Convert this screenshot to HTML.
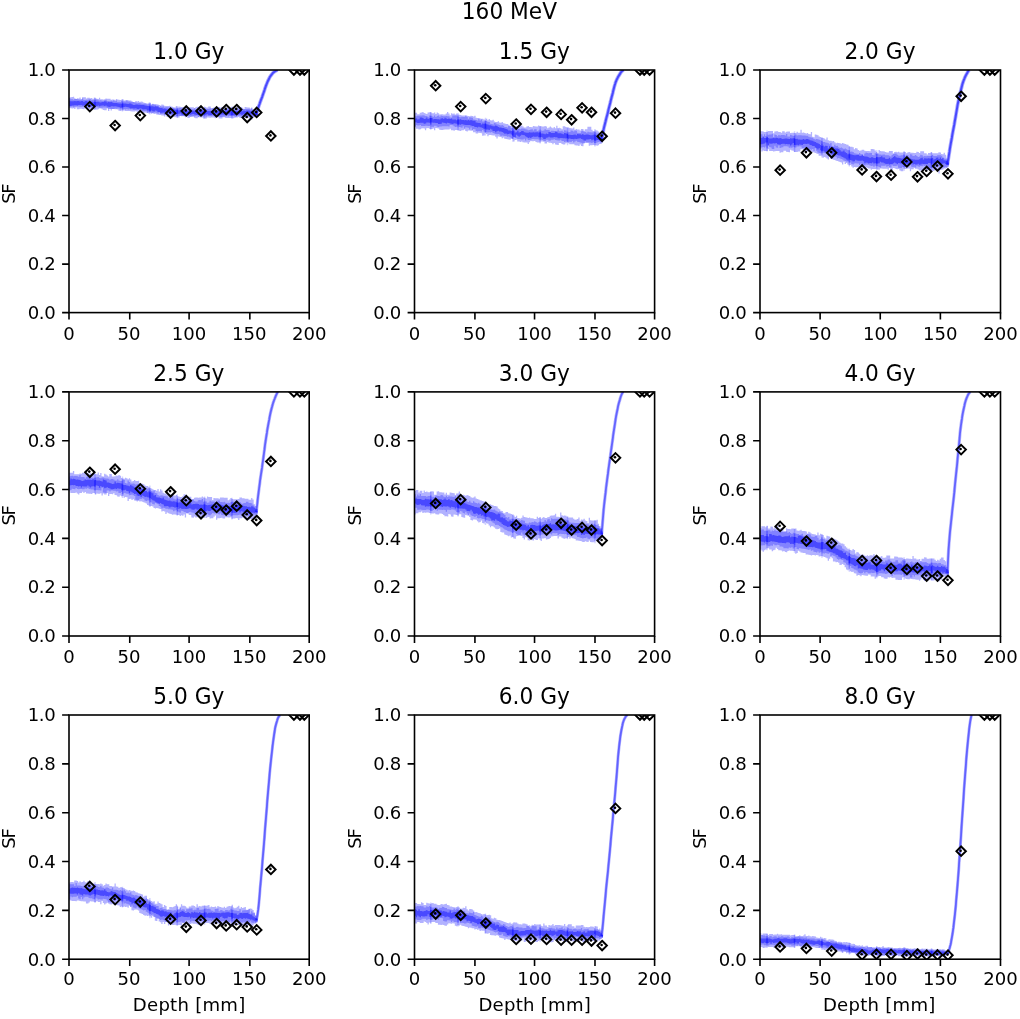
<!DOCTYPE html>
<html><head><meta charset="utf-8"><title>160 MeV</title>
<style>html,body{margin:0;padding:0;background:#fff}svg{display:block}</style>
</head><body>
<svg width="1020" height="1019" viewBox="0 0 1020 1019">
<rect width="1020" height="1019" fill="#fff"/>
<defs>
<clipPath id="c0"><rect x="69.0" y="70.0" width="240.20" height="242.60"/></clipPath>
<clipPath id="c1"><rect x="414.5" y="70.0" width="240.10" height="242.60"/></clipPath>
<clipPath id="c2"><rect x="760.0" y="70.0" width="240.50" height="242.60"/></clipPath>
<clipPath id="c3"><rect x="69.0" y="391.9" width="240.20" height="244.10"/></clipPath>
<clipPath id="c4"><rect x="414.5" y="391.9" width="240.10" height="244.10"/></clipPath>
<clipPath id="c5"><rect x="760.0" y="391.9" width="240.50" height="244.10"/></clipPath>
<clipPath id="c6"><rect x="69.0" y="715.0" width="240.20" height="244.20"/></clipPath>
<clipPath id="c7"><rect x="414.5" y="715.0" width="240.10" height="244.20"/></clipPath>
<clipPath id="c8"><rect x="760.0" y="715.0" width="240.50" height="244.20"/></clipPath>
</defs>
<g font-family="'DejaVu Sans','Liberation Sans',sans-serif" fill="#000">
<text transform="translate(509.4,19.1) scale(1,1.06)" font-size="21.7" text-anchor="middle">160 MeV</text>
<g clip-path="url(#c0)">
<path d="M69.0,97.4H70.3V97.2H71.6V96.9H72.9V96.7H74.2V98.2H75.5V98.9H76.8V98.3H78.1V98.5H79.4V97.4H80.7V99.1H82.0V97.2H83.3V97.2H84.6V97.3H85.9V98.5H87.2V97.8H88.5V97.8H89.8V98.3H91.1V97.9H92.4V99.0H93.7V97.7H95.0V98.3H96.3V98.8H97.6V98.9H98.9V97.7H100.2V99.2H101.5V99.3H102.8V99.4H104.1V99.2H105.4V98.6H106.7V98.7H108.0V98.7H109.3V98.8H110.6V99.7H111.9V99.5H113.2V99.6H114.5V100.2H115.8V98.9H117.1V99.6H118.4V99.7H119.7V100.1H121.0V99.8H122.3V99.5H123.6V100.6H124.9V100.2H126.2V100.1H127.5V100.2H128.8V100.5H130.1V100.6H131.4V101.2H132.7V102.0H134.0V102.1H135.3V101.1H136.6V101.4H137.9V101.1H139.2V102.1H140.5V101.5H141.8V101.7H143.1V102.4H144.4V103.0H145.7V103.2H147.0V103.4H148.3V102.7H149.6V103.1H150.9V104.2H152.2V104.1H153.5V104.7H154.8V104.1H156.1V104.3H157.4V104.5H158.7V105.0H160.0V105.5H161.3V104.6H162.6V104.7H163.9V105.8H165.3V106.1H166.6V106.0H167.9V106.1H169.2V105.8H170.5V106.4H171.8V106.7H173.1V107.3H174.4V107.4H175.7V106.3H177.0V107.4H178.3V106.6H179.6V106.8H180.9V106.9H182.2V107.0H183.5V107.0H184.8V107.8H186.1V106.1H187.4V107.2H188.7V107.3H190.0V107.3H191.3V107.3H192.6V107.3H193.9V107.9H195.2V107.3H196.5V106.8H197.8V106.8H199.1V107.9H200.4V108.4H201.7V108.4H203.0V108.4H204.3V107.0H205.6V107.6H206.9V107.6H208.2V106.5H209.5V106.5H210.8V107.9H212.1V107.9H213.4V107.4H214.7V107.4H216.0V106.7H217.3V107.1H218.6V107.1H219.9V107.7H221.2V107.0H222.5V107.1H223.8V109.2H225.1V107.2H226.4V108.0H227.7V107.2H229.0V107.1H230.3V107.7H231.6V106.8H232.9V108.4H234.2V107.7H235.5V107.9H236.8V107.1H238.1V108.0H239.4V108.0H240.7V107.1H242.0V107.8H243.3V108.9H244.6V107.1H245.9V107.2H247.2V107.6H248.5V107.6H249.8V108.4H251.1V107.6H252.4V109.7H253.7V108.9H255.0V111.3H256.3V113.1H257.6V116.1V116.1H256.3V116.7H255.0V117.3H253.7V117.7H252.4V119.5H251.1V118.9H249.8V118.2H248.5V117.4H247.2V117.4H245.9V117.6H244.6V117.4H243.3V117.9H242.0V117.9H240.7V118.1H239.4V117.1H238.1V117.5H236.8V117.5H235.5V117.7H234.2V118.3H232.9V118.2H231.6V118.1H230.3V118.1H229.0V117.9H227.7V117.9H226.4V117.9H225.1V117.3H223.8V117.3H222.5V118.4H221.2V118.4H219.9V118.4H218.6V116.9H217.3V116.7H216.0V118.3H214.7V117.5H213.4V117.4H212.1V117.4H210.8V117.7H209.5V117.4H208.2V117.4H206.9V118.5H205.6V118.5H204.3V118.5H203.0V117.5H201.7V117.5H200.4V117.3H199.1V117.3H197.8V118.3H196.5V118.3H195.2V117.8H193.9V116.8H192.6V116.9H191.3V116.9H190.0V117.8H188.7V118.0H187.4V116.6H186.1V117.2H184.8V116.2H183.5V116.1H182.2V116.1H180.9V116.0H179.6V117.6H178.3V117.5H177.0V117.3H175.7V117.2H174.4V116.7H173.1V116.6H171.8V116.2H170.5V116.4H169.2V116.2H167.9V116.9H166.6V114.9H165.3V116.5H163.9V115.6H162.6V115.4H161.3V115.0H160.0V115.1H158.7V114.8H157.4V114.6H156.1V113.7H154.8V113.9H153.5V113.3H152.2V113.8H150.9V112.5H149.6V113.5H148.3V112.9H147.0V112.7H145.7V112.5H144.4V113.2H143.1V112.4H141.8V112.7H140.5V111.9H139.2V111.9H137.9V112.2H136.6V111.0H135.3V111.4H134.0V111.5H132.7V111.4H131.4V111.2H130.1V111.1H128.8V111.0H127.5V111.1H126.2V111.0H124.9V110.5H123.6V110.4H122.3V110.4H121.0V110.9H119.7V110.8H118.4V109.4H117.1V109.3H115.8V109.2H114.5V109.0H113.2V108.9H111.9V110.4H110.6V108.7H109.3V110.9H108.0V108.4H106.7V110.2H105.4V110.2H104.1V110.1H102.8V109.2H101.5V108.5H100.2V108.4H98.9V109.3H97.6V109.8H96.3V109.3H95.0V109.4H93.7V109.3H92.4V108.9H91.1V109.4H89.8V109.0H88.5V108.2H87.2V108.1H85.9V108.3H84.6V109.3H83.3V108.9H82.0V108.8H80.7V108.8H79.4V109.2H78.1V109.2H76.8V107.5H75.5V109.0H74.2V108.3H72.9V108.4H71.6V108.2H70.3V108.1H69.0Z" fill="#0000ff" fill-opacity="0.3"/>
<path d="M94.3,97.6h1.5V110.1h-1.5ZM121.7,99.1h1.5V111.6h-1.5ZM149.1,102.2h1.5V114.6h-1.5ZM176.5,105.9h1.5V118.1h-1.5ZM203.8,106.4h1.5V118.5h-1.5ZM231.2,106.8h1.5V118.8h-1.5Z" fill="#0000ff" fill-opacity="0.18"/>
<path d="M69.0,98.3H70.3V99.3H71.6V99.3H72.9V99.7H74.2V99.1H75.5V99.1H76.8V99.2H78.1V99.5H79.4V99.8H80.7V99.8H82.0V98.6H83.3V100.0H84.6V100.0H85.9V99.8H87.2V99.8H88.5V99.2H89.8V99.2H91.1V100.2H92.4V100.0H93.7V99.6H95.0V99.5H96.3V99.5H97.6V100.2H98.9V100.5H100.2V100.2H101.5V100.7H102.8V100.8H104.1V100.3H105.4V99.8H106.7V101.0H108.0V100.9H109.3V101.3H110.6V100.8H111.9V101.2H113.2V100.3H114.5V101.3H115.8V100.5H117.1V101.9H118.4V101.8H119.7V102.0H121.0V101.3H122.3V101.6H123.6V101.6H124.9V101.5H126.2V100.6H127.5V101.4H128.8V101.5H130.1V101.8H131.4V101.9H132.7V102.1H134.0V102.4H135.3V102.6H136.6V103.3H137.9V103.0H139.2V103.1H140.5V103.5H141.8V103.7H143.1V103.7H144.4V103.6H145.7V104.3H147.0V104.6H148.3V104.1H149.6V104.5H150.9V105.0H152.2V103.8H153.5V104.0H154.8V105.1H156.1V105.7H157.4V105.6H158.7V107.0H160.0V106.3H161.3V106.7H162.6V106.2H163.9V107.4H165.3V107.2H166.6V107.3H167.9V107.4H169.2V107.6H170.5V107.7H171.8V107.9H173.1V108.0H174.4V108.4H175.7V108.5H177.0V108.7H178.3V107.9H179.6V108.1H180.9V108.2H182.2V109.2H183.5V109.2H184.8V109.3H186.1V108.6H187.4V108.8H188.7V108.6H190.0V108.6H191.3V109.3H192.6V109.3H193.9V108.2H195.2V109.3H196.5V109.3H197.8V108.9H199.1V108.8H200.4V108.8H201.7V108.9H203.0V108.4H204.3V108.4H205.6V109.0H206.9V108.9H208.2V108.9H209.5V108.2H210.8V109.6H212.1V108.4H213.4V108.3H214.7V108.2H216.0V108.5H217.3V108.5H218.6V108.5H219.9V109.5H221.2V109.5H222.5V108.7H223.8V109.0H225.1V109.2H226.4V108.6H227.7V108.7H229.0V108.6H230.3V108.7H231.6V109.8H232.9V109.2H234.2V109.0H235.5V109.1H236.8V108.5H238.1V109.3H239.4V109.1H240.7V109.0H242.0V109.0H243.3V109.0H244.6V109.0H245.9V109.0H247.2V109.1H248.5V108.7H249.8V109.5H251.1V108.3H252.4V109.2H253.7V111.1H255.0V111.9H256.3V113.5H257.6V115.5V115.5H256.3V115.9H255.0V116.2H253.7V116.7H252.4V116.9H251.1V116.9H249.8V116.8H248.5V116.1H247.2V116.1H245.9V116.8H244.6V116.7H243.3V116.6H242.0V116.6H240.7V115.7H239.4V115.7H238.1V115.7H236.8V117.0H235.5V116.4H234.2V116.1H232.9V116.1H231.6V116.0H230.3V115.9H229.0V116.6H227.7V115.8H226.4V116.5H225.1V116.5H223.8V116.4H222.5V116.9H221.2V116.9H219.9V116.4H218.6V116.4H217.3V115.9H216.0V116.9H214.7V116.1H213.4V115.7H212.1V116.2H210.8V115.4H209.5V115.4H208.2V115.8H206.9V116.8H205.6V115.6H204.3V116.4H203.0V116.0H201.7V115.3H200.4V115.3H199.1V116.9H197.8V115.6H196.5V116.1H195.2V116.5H193.9V116.0H192.6V116.0H191.3V116.6H190.0V116.3H188.7V116.0H187.4V116.0H186.1V116.1H184.8V116.1H183.5V116.3H182.2V116.2H180.9V116.1H179.6V116.0H178.3V116.2H177.0V116.1H175.7V114.9H174.4V114.8H173.1V115.3H171.8V114.8H170.5V115.2H169.2V115.0H167.9V114.6H166.6V114.2H165.3V114.9H163.9V113.8H162.6V113.9H161.3V114.0H160.0V112.3H158.7V113.7H157.4V112.8H156.1V112.6H154.8V112.4H153.5V112.9H152.2V112.7H150.9V112.4H149.6V112.1H148.3V112.7H147.0V111.2H145.7V110.9H144.4V111.2H143.1V111.0H141.8V110.3H140.5V110.8H139.2V110.1H137.9V110.0H136.6V109.9H135.3V110.1H134.0V110.0H132.7V109.2H131.4V109.5H130.1V109.2H128.8V109.6H127.5V109.0H126.2V109.4H124.9V108.9H123.6V109.5H122.3V108.4H121.0V109.6H119.7V108.6H118.4V108.4H117.1V108.7H115.8V108.5H114.5V109.1H113.2V109.0H111.9V108.9H110.6V108.9H109.3V108.8H108.0V108.0H106.7V107.5H105.4V107.4H104.1V107.4H102.8V107.8H101.5V107.8H100.2V107.7H98.9V107.6H97.6V106.2H96.3V106.1H95.0V106.1H93.7V107.3H92.4V107.8H91.1V107.2H89.8V107.8H88.5V106.6H87.2V108.0H85.9V106.3H84.6V106.4H83.3V106.8H82.0V106.7H80.7V106.7H79.4V106.5H78.1V106.5H76.8V106.4H75.5V106.8H74.2V107.3H72.9V106.4H71.6V106.8H70.3V106.8H69.0Z" fill="#0000ff" fill-opacity="0.27"/>
<path d="M94.3,99.9h1.5V107.8h-1.5ZM121.7,101.4h1.5V109.3h-1.5ZM149.1,104.5h1.5V112.3h-1.5ZM176.5,108.1h1.5V115.9h-1.5ZM203.8,108.6h1.5V116.3h-1.5ZM231.2,109.0h1.5V116.6h-1.5Z" fill="#0000ff" fill-opacity="0.16"/>
<path d="M69.0,100.7H70.3V101.3H71.6V101.3H72.9V101.3H74.2V101.0H75.5V101.2H76.8V101.0H78.1V101.0H79.4V101.6H80.7V101.1H82.0V101.1H83.3V101.9H84.6V101.0H85.9V101.1H87.2V101.7H88.5V102.0H89.8V101.8H91.1V101.4H92.4V102.3H93.7V101.8H95.0V101.9H96.3V101.8H97.6V101.7H98.9V102.3H100.2V102.5H101.5V102.0H102.8V102.0H104.1V101.2H105.4V101.4H106.7V102.4H108.0V102.1H109.3V102.2H110.6V102.1H111.9V102.6H113.2V102.9H114.5V103.0H115.8V103.1H117.1V103.2H118.4V103.5H119.7V103.4H121.0V103.7H122.3V103.4H123.6V103.4H124.9V103.6H126.2V103.7H127.5V103.9H128.8V103.4H130.1V103.6H131.4V104.3H132.7V105.1H134.0V105.0H135.3V104.4H136.6V104.6H137.9V104.8H139.2V104.8H140.5V104.9H141.8V105.0H143.1V105.1H144.4V105.4H145.7V105.7H147.0V106.0H148.3V106.0H149.6V106.4H150.9V106.3H152.2V106.3H153.5V106.7H154.8V106.2H156.1V106.4H157.4V106.6H158.7V107.8H160.0V108.1H161.3V108.1H162.6V108.8H163.9V108.5H165.3V108.7H166.6V109.4H167.9V109.2H169.2V108.7H170.5V108.8H171.8V109.0H173.1V109.0H174.4V109.7H175.7V109.7H177.0V109.8H178.3V110.5H179.6V110.1H180.9V110.4H182.2V110.6H183.5V110.7H184.8V110.6H186.1V110.7H187.4V111.0H188.7V110.5H190.0V110.4H191.3V110.4H192.6V110.8H193.9V110.7H195.2V110.4H196.5V110.5H197.8V110.6H199.1V109.7H200.4V109.7H201.7V110.2H203.0V110.9H204.3V111.0H205.6V111.1H206.9V111.0H208.2V111.1H209.5V111.1H210.8V111.0H212.1V110.6H213.4V110.5H214.7V110.3H216.0V110.4H217.3V111.1H218.6V110.3H219.9V110.4H221.2V110.8H222.5V110.2H223.8V111.1H225.1V110.3H226.4V110.3H227.7V110.5H229.0V111.1H230.3V111.2H231.6V111.4H232.9V110.9H234.2V110.9H235.5V111.1H236.8V111.0H238.1V111.2H239.4V111.1H240.7V110.3H242.0V111.2H243.3V110.4H244.6V111.1H245.9V110.5H247.2V110.4H248.5V110.6H249.8V111.2H251.1V111.1H252.4V110.8H253.7V111.7H255.0V112.7H256.3V113.8H257.6V115.2V115.2H256.3V115.0H255.0V115.4H253.7V114.6H252.4V114.2H251.1V114.3H249.8V114.2H248.5V114.0H247.2V114.4H245.9V113.9H244.6V114.0H243.3V114.7H242.0V114.7H240.7V114.0H239.4V114.6H238.1V114.4H236.8V115.1H235.5V115.3H234.2V115.3H232.9V114.9H231.6V115.3H230.3V114.6H229.0V114.2H227.7V114.7H226.4V114.7H225.1V114.6H223.8V114.4H222.5V114.6H221.2V114.6H219.9V113.8H218.6V113.9H217.3V114.5H216.0V114.4H214.7V114.5H213.4V114.3H212.1V115.1H210.8V115.4H209.5V115.4H208.2V114.3H206.9V114.5H205.6V114.6H204.3V114.5H203.0V114.4H201.7V114.5H200.4V114.7H199.1V115.1H197.8V115.0H196.5V114.7H195.2V114.4H193.9V114.1H192.6V114.2H191.3V114.8H190.0V114.2H188.7V114.3H187.4V114.7H186.1V114.6H184.8V114.5H183.5V115.0H182.2V114.6H180.9V113.3H179.6V114.3H178.3V113.6H177.0V113.9H175.7V113.3H174.4V113.2H173.1V113.6H171.8V113.4H170.5V113.3H169.2V113.2H167.9V113.3H166.6V113.2H165.3V112.8H163.9V112.5H162.6V112.7H161.3V112.7H160.0V112.3H158.7V112.0H157.4V110.8H156.1V110.6H154.8V111.5H153.5V111.2H152.2V110.6H150.9V110.9H149.6V110.6H148.3V110.5H147.0V109.5H145.7V109.3H144.4V109.5H143.1V109.3H141.8V108.6H140.5V108.4H139.2V109.1H137.9V109.1H136.6V108.2H135.3V108.4H134.0V108.6H132.7V108.3H131.4V108.5H130.1V107.8H128.8V107.2H127.5V107.0H126.2V106.8H124.9V107.1H123.6V107.3H122.3V107.6H121.0V107.7H119.7V107.1H118.4V106.7H117.1V106.5H115.8V106.3H114.5V106.4H113.2V106.3H111.9V106.3H110.6V106.9H109.3V106.8H108.0V106.6H106.7V105.6H105.4V106.0H104.1V105.4H102.8V105.6H101.5V105.7H100.2V106.3H98.9V105.6H97.6V106.4H96.3V106.3H95.0V106.2H93.7V105.9H92.4V106.0H91.1V105.5H89.8V105.6H88.5V106.1H87.2V106.0H85.9V105.2H84.6V105.5H83.3V105.5H82.0V105.0H80.7V104.9H79.4V105.1H78.1V105.4H76.8V105.3H75.5V105.2H74.2V105.4H72.9V105.5H71.6V106.0H70.3V106.0H69.0Z" fill="#0000ff" fill-opacity="0.44"/>
<path d="M94.3,101.6h1.5V106.0h-1.5ZM121.7,103.2h1.5V107.5h-1.5ZM149.1,106.3h1.5V110.6h-1.5ZM176.5,109.9h1.5V114.1h-1.5ZM203.8,110.3h1.5V114.6h-1.5ZM231.2,110.7h1.5V114.9h-1.5Z" fill="#0000ff" fill-opacity="0.26"/>
<path d="M256.3,114.6L256.8,112.9L257.3,111.1L257.7,109.5L258.2,107.9L258.7,106.4L259.2,105.0L259.7,103.6L260.1,102.3L260.6,101.0L261.1,99.7L261.6,98.4L262.1,97.1L262.5,95.8L263.0,94.4L263.5,93.0L264.0,91.6L264.5,90.1L264.9,88.7L265.4,87.3L265.9,85.9L266.4,84.6L266.9,83.4L267.3,82.3L267.8,81.2L268.3,80.2L268.8,79.2L269.3,78.2L269.7,77.3L270.2,76.5L270.7,75.8L271.2,75.1L271.7,74.5L272.2,73.9L272.6,73.3L273.1,72.8L273.6,72.4L274.1,72.0L274.6,71.6L275.0,71.3L275.5,71.0L276.0,70.7L276.5,70.5L277.0,70.2L277.4,70.1L277.7,70.0" fill="none" stroke="#0000ff" stroke-opacity="0.33" stroke-width="3.7" stroke-linejoin="round"/>
<path d="M256.3,114.6L256.8,112.9L257.3,111.1L257.7,109.5L258.2,107.9L258.7,106.4L259.2,105.0L259.7,103.6L260.1,102.3L260.6,101.0L261.1,99.7L261.6,98.4L262.1,97.1L262.5,95.8L263.0,94.4L263.5,93.0L264.0,91.6L264.5,90.1L264.9,88.7L265.4,87.3L265.9,85.9L266.4,84.6L266.9,83.4L267.3,82.3L267.8,81.2L268.3,80.2L268.8,79.2L269.3,78.2L269.7,77.3L270.2,76.5L270.7,75.8L271.2,75.1L271.7,74.5L272.2,73.9L272.6,73.3L273.1,72.8L273.6,72.4L274.1,72.0L274.6,71.6L275.0,71.3L275.5,71.0L276.0,70.7L276.5,70.5L277.0,70.2L277.4,70.1L277.7,70.0" fill="none" stroke="#0000ff" stroke-opacity="0.58" stroke-width="2.0" stroke-linejoin="round"/>
<path d="M89.8,101.9L94.6,106.6L89.8,111.4L85.1,106.6Z" fill="none" stroke="#000" stroke-width="1.95"/>
<circle cx="89.3" cy="106.0" r="1.3" fill="#000"/>
<path d="M115.1,120.8L119.9,125.6L115.1,130.3L110.4,125.6Z" fill="none" stroke="#000" stroke-width="1.95"/>
<circle cx="114.6" cy="125.0" r="1.3" fill="#000"/>
<path d="M140.3,110.9L145.1,115.6L140.3,120.4L135.6,115.6Z" fill="none" stroke="#000" stroke-width="1.95"/>
<circle cx="139.8" cy="115.0" r="1.3" fill="#000"/>
<path d="M170.6,108.4L175.4,113.2L170.6,117.9L165.9,113.2Z" fill="none" stroke="#000" stroke-width="1.95"/>
<circle cx="170.1" cy="112.6" r="1.3" fill="#000"/>
<path d="M186.3,106.2L191.0,111.0L186.3,115.7L181.5,111.0Z" fill="none" stroke="#000" stroke-width="1.95"/>
<circle cx="185.8" cy="110.4" r="1.3" fill="#000"/>
<path d="M201.0,106.2L205.7,111.0L201.0,115.7L196.2,111.0Z" fill="none" stroke="#000" stroke-width="1.95"/>
<circle cx="200.5" cy="110.4" r="1.3" fill="#000"/>
<path d="M216.6,107.2L221.4,112.0L216.6,116.7L211.9,112.0Z" fill="none" stroke="#000" stroke-width="1.95"/>
<circle cx="216.1" cy="111.4" r="1.3" fill="#000"/>
<path d="M226.2,104.8L231.0,109.5L226.2,114.3L221.5,109.5Z" fill="none" stroke="#000" stroke-width="1.95"/>
<circle cx="225.7" cy="108.9" r="1.3" fill="#000"/>
<path d="M236.7,104.8L241.4,109.5L236.7,114.3L231.9,109.5Z" fill="none" stroke="#000" stroke-width="1.95"/>
<circle cx="236.2" cy="108.9" r="1.3" fill="#000"/>
<path d="M247.2,112.8L252.0,117.5L247.2,122.3L242.5,117.5Z" fill="none" stroke="#000" stroke-width="1.95"/>
<circle cx="246.7" cy="116.9" r="1.3" fill="#000"/>
<path d="M256.7,107.7L261.5,112.5L256.7,117.2L252.0,112.5Z" fill="none" stroke="#000" stroke-width="1.95"/>
<circle cx="256.2" cy="111.9" r="1.3" fill="#000"/>
<path d="M270.9,131.2L275.6,136.0L270.9,140.7L266.1,136.0Z" fill="none" stroke="#000" stroke-width="1.95"/>
<circle cx="270.4" cy="135.4" r="1.3" fill="#000"/>
<path d="M293.9,65.2L298.7,70.0L293.9,74.8L289.2,70.0Z" fill="none" stroke="#000" stroke-width="1.95"/>
<circle cx="293.4" cy="69.4" r="1.3" fill="#000"/>
<path d="M300.0,65.2L304.7,70.0L300.0,74.8L295.2,70.0Z" fill="none" stroke="#000" stroke-width="1.95"/>
<circle cx="299.5" cy="69.4" r="1.3" fill="#000"/>
<path d="M304.3,65.2L309.0,70.0L304.3,74.8L299.5,70.0Z" fill="none" stroke="#000" stroke-width="1.95"/>
<circle cx="303.8" cy="69.4" r="1.3" fill="#000"/>
</g>
<rect x="69.0" y="70.0" width="240.20" height="242.60" fill="none" stroke="#000" stroke-width="1.6"/>
<path d="M69.00,312.6v6.9M129.75,312.6v6.9M189.10,312.6v6.9M249.85,312.6v6.9M309.20,312.6v6.9M69.0,312.60h-6.9M69.0,264.08h-6.9M69.0,215.56h-6.9M69.0,167.04h-6.9M69.0,118.52h-6.9M69.0,70.00h-6.9" stroke="#000" stroke-width="1.6" fill="none"/>
<g font-size="18.08">
<text x="69.00" y="339.9" text-anchor="middle">0</text>
<text x="129.05" y="339.9" text-anchor="middle">50</text>
<text x="189.10" y="339.9" text-anchor="middle">100</text>
<text x="249.15" y="339.9" text-anchor="middle">150</text>
<text x="309.20" y="339.9" text-anchor="middle">200</text>
<text x="55.40" y="318.90" text-anchor="end" letter-spacing="-0.35">0.0</text>
<text x="55.40" y="270.38" text-anchor="end" letter-spacing="-0.35">0.2</text>
<text x="55.40" y="221.86" text-anchor="end" letter-spacing="-0.35">0.4</text>
<text x="55.40" y="173.34" text-anchor="end" letter-spacing="-0.35">0.6</text>
<text x="55.40" y="124.82" text-anchor="end" letter-spacing="-0.35">0.8</text>
<text x="55.40" y="76.30" text-anchor="end" letter-spacing="-0.35">1.0</text>
<text transform="translate(15.40,194.20) rotate(-90)" text-anchor="middle" letter-spacing="-1.3">SF</text>
</g>
<text transform="translate(188.80,58.80) scale(1,1.06)" font-size="21.7" text-anchor="middle">1.0 Gy</text>
<g clip-path="url(#c1)">
<path d="M414.5,112.7H415.8V112.7H417.1V114.2H418.4V114.2H419.7V112.8H421.0V112.6H422.3V111.9H423.6V113.1H424.9V113.6H426.2V114.1H427.5V112.4H428.8V112.2H430.1V112.2H431.4V113.3H432.7V113.3H434.0V112.5H435.3V114.1H436.6V112.4H437.9V113.3H439.2V114.4H440.5V114.3H441.8V114.3H443.1V114.4H444.4V114.4H445.7V113.4H447.0V112.1H448.3V113.5H449.6V115.2H450.9V113.2H452.2V113.8H453.5V113.4H454.8V114.4H456.1V113.5H457.4V114.4H458.7V114.8H460.0V115.0H461.3V115.4H462.6V115.6H463.9V115.4H465.2V115.6H466.5V115.8H467.8V116.0H469.1V116.2H470.4V115.8H471.7V116.0H473.0V116.6H474.3V115.8H475.6V117.8H476.9V118.0H478.2V118.3H479.5V118.5H480.8V118.8H482.1V118.7H483.4V119.6H484.7V119.8H486.0V118.7H487.3V120.3H488.6V118.9H489.9V120.2H491.2V120.6H492.5V119.8H493.8V121.5H495.1V122.1H496.4V122.1H497.7V121.2H499.0V122.5H500.3V122.8H501.6V122.1H502.9V123.2H504.2V123.6H505.5V123.9H506.8V124.1H508.1V124.8H509.4V125.7H510.7V125.9H512.0V126.1H513.3V126.3H514.6V126.4H515.9V126.5H517.2V126.7H518.5V125.3H519.8V125.9H521.1V125.5H522.4V126.4H523.7V127.6H525.0V127.6H526.3V126.4H527.6V126.1H528.9V126.9H530.2V127.0H531.5V127.2H532.8V125.9H534.1V126.3H535.4V126.4H536.7V126.4H538.0V125.6H539.3V126.2H540.6V126.3H541.9V126.4H543.2V126.5H544.5V126.1H545.8V126.5H547.1V128.2H548.4V127.5H549.7V126.6H551.0V127.4H552.3V128.3H553.6V126.9H554.9V128.3H556.2V125.8H557.5V127.9H558.8V127.7H560.1V128.2H561.4V129.2H562.7V126.3H564.0V126.3H565.3V127.1H566.6V127.5H567.9V127.5H569.2V128.1H570.5V128.2H571.8V128.5H573.1V127.6H574.4V129.8H575.7V129.1H577.0V129.6H578.3V129.6H579.6V130.6H580.9V129.0H582.2V129.1H583.5V130.7H584.8V129.2H586.1V129.3H587.4V126.7H588.7V126.8H590.0V126.8H591.3V129.8H592.6V130.9H593.9V130.7H595.2V130.3H596.5V130.4H597.8V131.4H599.1V133.2H600.4V135.6H601.7V138.4H603.0V142.6V142.6H601.7V144.1H600.4V143.9H599.1V145.3H597.8V145.8H596.5V145.2H595.2V145.2H593.9V145.1H592.6V145.2H591.3V145.3H590.0V145.8H588.7V143.1H587.4V143.0H586.1V143.0H584.8V142.9H583.5V146.2H582.2V146.1H580.9V144.5H579.6V145.9H578.3V145.4H577.0V145.4H575.7V145.3H574.4V144.3H573.1V144.3H571.8V144.3H570.5V144.2H569.2V143.3H567.9V142.5H566.6V143.2H565.3V144.6H564.0V144.5H562.7V143.9H561.4V143.0H560.1V143.0H558.8V144.9H557.5V144.7H556.2V144.5H554.9V143.1H553.6V144.2H552.3V143.0H551.0V142.8H549.7V142.7H548.4V142.0H547.1V143.6H545.8V143.4H544.5V141.7H543.2V141.6H541.9V141.6H540.6V142.5H539.3V142.5H538.0V142.5H536.7V141.9H535.4V141.1H534.1V141.3H532.8V141.2H531.5V141.1H530.2V142.3H528.9V144.0H527.6V142.6H526.3V142.5H525.0V142.4H523.7V142.3H522.4V141.6H521.1V142.1H519.8V141.6H518.5V141.5H517.2V139.7H515.9V139.9H514.6V141.5H513.3V138.9H512.0V138.7H510.7V139.8H509.4V139.6H508.1V139.3H506.8V139.0H505.5V138.7H504.2V137.6H502.9V138.3H501.6V137.1H500.3V136.8H499.0V136.6H497.7V138.4H496.4V136.7H495.1V135.5H493.8V135.4H492.5V135.2H491.2V134.9H489.9V135.1H488.6V136.2H487.3V134.1H486.0V132.9H484.7V135.4H483.4V135.8H482.1V133.2H480.8V132.9H479.5V132.8H478.2V133.6H476.9V133.4H475.6V132.2H474.3V132.2H473.0V130.6H471.7V130.8H470.4V130.5H469.1V130.6H467.8V131.4H466.5V131.1H465.2V129.4H463.9V130.3H462.6V130.2H461.3V130.9H460.0V130.7H458.7V130.1H457.4V130.0H456.1V130.1H454.8V130.8H453.5V130.2H452.2V130.2H450.9V128.8H449.6V129.6H448.3V129.6H447.0V129.5H445.7V129.5H444.4V129.7H443.1V129.9H441.8V129.9H440.5V129.8H439.2V128.4H437.9V128.3H436.6V128.0H435.3V130.2H434.0V128.6H432.7V128.9H431.4V129.0H430.1V128.7H428.8V128.1H427.5V128.3H426.2V130.2H424.9V128.4H423.6V128.3H422.3V128.5H421.0V129.2H419.7V129.4H418.4V128.8H417.1V128.7H415.8V127.2H414.5Z" fill="#0000ff" fill-opacity="0.3"/>
<path d="M430.0,112.1h1.5V129.7h-1.5ZM457.3,113.1h1.5V130.7h-1.5ZM484.7,117.8h1.5V135.4h-1.5ZM512.1,124.1h1.5V141.7h-1.5ZM539.4,126.0h1.5V143.6h-1.5ZM566.8,127.6h1.5V145.2h-1.5ZM594.2,128.9h1.5V146.5h-1.5Z" fill="#0000ff" fill-opacity="0.18"/>
<path d="M414.5,116.2H415.8V116.3H417.1V115.7H418.4V115.7H419.7V115.6H421.0V115.6H422.3V115.2H423.6V115.4H424.9V115.9H426.2V115.9H427.5V117.3H428.8V115.5H430.1V116.0H431.4V116.2H432.7V116.8H434.0V115.6H435.3V116.9H436.6V116.0H437.9V115.4H439.2V116.8H440.5V115.5H441.8V116.0H443.1V116.3H444.4V116.3H445.7V116.1H447.0V116.2H448.3V116.2H449.6V117.4H450.9V117.5H452.2V115.6H453.5V115.6H454.8V115.5H456.1V115.6H457.4V116.6H458.7V117.1H460.0V117.3H461.3V116.7H462.6V116.9H463.9V117.0H465.2V115.6H466.5V117.1H467.8V118.7H469.1V117.3H470.4V117.5H471.7V117.8H473.0V119.4H474.3V119.7H475.6V119.9H476.9V120.5H478.2V118.6H479.5V120.6H480.8V119.6H482.1V121.5H483.4V121.4H484.7V121.1H486.0V121.1H487.3V122.1H488.6V122.0H489.9V123.8H491.2V124.1H492.5V124.4H493.8V122.9H495.1V123.2H496.4V124.2H497.7V124.4H499.0V125.1H500.3V125.5H501.6V125.1H502.9V125.8H504.2V126.9H505.5V127.1H506.8V127.5H508.1V126.0H509.4V126.3H510.7V128.0H512.0V128.3H513.3V127.8H514.6V128.5H515.9V128.5H517.2V128.9H518.5V129.1H519.8V129.3H521.1V128.4H522.4V128.6H523.7V128.7H525.0V129.2H526.3V129.5H527.6V130.3H528.9V130.1H530.2V129.6H531.5V129.3H532.8V130.4H534.1V129.2H535.4V129.2H536.7V130.9H538.0V130.4H539.3V130.5H540.6V130.5H541.9V130.7H543.2V130.5H544.5V129.2H545.8V130.1H547.1V130.1H548.4V129.9H549.7V131.5H551.0V130.7H552.3V130.7H553.6V130.9H554.9V131.1H556.2V131.1H557.5V129.5H558.8V131.2H560.1V131.3H561.4V130.7H562.7V131.7H564.0V130.2H565.3V130.4H566.6V132.2H567.9V132.3H569.2V131.9H570.5V130.4H571.8V130.8H573.1V131.5H574.4V130.5H575.7V130.8H577.0V132.8H578.3V132.9H579.6V132.9H580.9V131.3H582.2V130.7H583.5V131.8H584.8V131.9H586.1V132.7H587.4V131.8H588.7V132.2H590.0V132.2H591.3V132.6H592.6V132.3H593.9V132.3H595.2V132.4H596.5V133.6H597.8V133.5H599.1V135.8H600.4V135.8H601.7V138.5H603.0V142.2V142.2H601.7V142.8H600.4V141.8H599.1V142.0H597.8V142.6H596.5V142.9H595.2V143.0H593.9V142.3H592.6V143.0H591.3V142.6H590.0V142.6H588.7V142.3H587.4V142.3H586.1V141.4H584.8V143.5H583.5V143.4H582.2V142.7H580.9V142.6H579.6V141.9H578.3V141.8H577.0V140.7H575.7V141.5H574.4V142.4H573.1V141.0H571.8V141.9H570.5V141.7H569.2V141.7H567.9V141.6H566.6V141.5H565.3V141.9H564.0V141.1H562.7V141.0H561.4V139.7H560.1V140.5H558.8V140.4H557.5V140.2H556.2V140.1H554.9V139.3H553.6V139.8H552.3V139.8H551.0V140.4H549.7V140.7H548.4V139.7H547.1V139.8H545.8V140.9H544.5V140.8H543.2V140.1H541.9V139.7H540.6V139.6H539.3V139.5H538.0V139.3H536.7V139.2H535.4V139.2H534.1V139.1H532.8V139.0H531.5V139.7H530.2V139.9H528.9V140.0H527.6V138.4H526.3V140.4H525.0V138.7H523.7V139.5H522.4V139.4H521.1V139.2H519.8V139.0H518.5V138.9H517.2V138.3H515.9V138.1H514.6V137.1H513.3V138.5H512.0V138.2H510.7V137.3H509.4V136.4H508.1V136.8H506.8V135.9H505.5V136.0H504.2V135.7H502.9V135.4H501.6V135.9H500.3V134.4H499.0V134.0H497.7V134.2H496.4V133.9H495.1V133.4H493.8V132.9H492.5V132.0H491.2V132.6H489.9V132.2H488.6V132.4H487.3V132.2H486.0V132.0H484.7V131.4H483.4V130.1H482.1V131.5H480.8V131.2H479.5V131.0H478.2V131.4H476.9V131.1H475.6V129.3H474.3V129.1H473.0V130.3H471.7V127.5H470.4V129.6H469.1V127.7H467.8V127.5H466.5V127.3H465.2V128.4H463.9V126.3H462.6V127.7H461.3V127.2H460.0V127.1H458.7V126.3H457.4V126.8H456.1V127.1H454.8V126.2H453.5V125.2H452.2V125.1H450.9V125.1H449.6V126.5H448.3V126.3H447.0V126.2H445.7V126.2H444.4V126.2H443.1V126.2H441.8V126.4H440.5V126.4H439.2V127.1H437.9V126.8H436.6V125.8H435.3V125.8H434.0V126.7H432.7V126.7H431.4V125.0H430.1V126.0H428.8V125.9H427.5V125.8H426.2V125.8H424.9V125.9H423.6V126.0H422.3V125.9H421.0V125.1H419.7V125.4H418.4V125.5H417.1V124.9H415.8V126.3H414.5Z" fill="#0000ff" fill-opacity="0.27"/>
<path d="M430.0,115.3h1.5V126.5h-1.5ZM457.3,116.3h1.5V127.5h-1.5ZM484.7,121.0h1.5V132.2h-1.5ZM512.1,127.3h1.5V138.5h-1.5ZM539.4,129.2h1.5V140.4h-1.5ZM566.8,130.8h1.5V142.0h-1.5ZM594.2,132.1h1.5V143.2h-1.5Z" fill="#0000ff" fill-opacity="0.16"/>
<path d="M414.5,118.8H415.8V118.5H417.1V119.4H418.4V119.2H419.7V117.5H421.0V117.5H422.3V118.0H423.6V119.0H424.9V118.7H426.2V117.5H427.5V119.0H428.8V118.2H430.1V117.9H431.4V118.0H432.7V119.3H434.0V119.0H435.3V119.1H436.6V119.2H437.9V119.2H439.2V119.6H440.5V118.6H441.8V118.3H443.1V118.9H444.4V117.7H445.7V118.4H447.0V119.1H448.3V118.4H449.6V119.0H450.9V118.5H452.2V119.5H453.5V119.4H454.8V119.5H456.1V120.2H457.4V119.8H458.7V119.4H460.0V119.3H461.3V120.0H462.6V120.0H463.9V120.2H465.2V119.9H466.5V120.5H467.8V120.0H469.1V120.6H470.4V120.0H471.7V120.5H473.0V120.7H474.3V120.8H475.6V122.4H476.9V122.7H478.2V123.0H479.5V123.1H480.8V124.5H482.1V123.5H483.4V123.8H484.7V123.6H486.0V124.3H487.3V124.4H488.6V125.3H489.9V125.2H491.2V125.8H492.5V126.2H493.8V126.2H495.1V125.5H496.4V125.9H497.7V127.1H499.0V127.6H500.3V127.5H501.6V127.9H502.9V128.0H504.2V128.5H505.5V129.0H506.8V129.4H508.1V130.6H509.4V130.4H510.7V130.9H512.0V131.2H513.3V130.7H514.6V132.4H515.9V132.3H517.2V130.7H518.5V132.5H519.8V131.9H521.1V131.1H522.4V131.0H523.7V132.3H525.0V132.6H526.3V132.7H527.6V132.8H528.9V132.2H530.2V132.6H531.5V132.5H532.8V132.3H534.1V132.4H535.4V132.2H536.7V132.2H538.0V132.4H539.3V132.5H540.6V133.4H541.9V133.6H543.2V133.8H544.5V134.3H545.8V133.4H547.1V134.0H548.4V132.1H549.7V132.2H551.0V132.9H552.3V132.9H553.6V133.0H554.9V131.8H556.2V131.9H557.5V133.3H558.8V133.2H560.1V133.3H561.4V133.8H562.7V134.3H564.0V132.9H565.3V133.3H566.6V134.1H567.9V134.8H569.2V134.7H570.5V134.9H571.8V134.9H573.1V134.7H574.4V134.4H575.7V135.2H577.0V134.0H578.3V134.3H579.6V134.3H580.9V134.7H582.2V133.9H583.5V134.9H584.8V134.7H586.1V134.6H587.4V134.4H588.7V135.0H590.0V135.2H591.3V135.2H592.6V134.7H593.9V134.4H595.2V135.0H596.5V136.0H597.8V136.1H599.1V135.9H600.4V136.9H601.7V139.2H603.0V141.4V141.4H601.7V141.5H600.4V140.8H599.1V140.0H597.8V140.0H596.5V140.8H595.2V140.4H593.9V139.5H592.6V140.3H591.3V139.1H590.0V139.2H588.7V139.5H587.4V139.6H586.1V140.6H584.8V140.4H583.5V139.4H582.2V138.9H580.9V138.2H579.6V138.5H578.3V138.7H577.0V138.9H575.7V138.8H574.4V139.2H573.1V138.9H571.8V138.9H570.5V138.6H569.2V138.7H567.9V137.9H566.6V138.4H565.3V138.3H564.0V138.2H562.7V138.1H561.4V137.9H560.1V138.2H558.8V138.3H557.5V137.3H556.2V137.2H554.9V137.0H553.6V137.4H552.3V137.5H551.0V137.5H549.7V136.8H548.4V137.4H547.1V137.8H545.8V138.9H544.5V139.0H543.2V137.6H541.9V137.1H540.6V137.1H539.3V137.3H538.0V136.6H536.7V136.7H535.4V136.7H534.1V136.5H532.8V137.0H531.5V138.0H530.2V137.6H528.9V137.9H527.6V137.0H526.3V136.2H525.0V135.3H523.7V135.0H522.4V134.8H521.1V135.7H519.8V136.8H518.5V135.8H517.2V134.8H515.9V137.3H514.6V137.1H513.3V135.5H512.0V134.5H510.7V133.5H509.4V134.0H508.1V134.2H506.8V133.5H505.5V133.7H504.2V132.8H502.9V132.0H501.6V131.6H500.3V131.4H499.0V130.8H497.7V131.3H496.4V132.2H495.1V131.0H493.8V131.0H492.5V129.4H491.2V128.7H489.9V130.1H488.6V129.6H487.3V129.6H486.0V128.5H484.7V129.1H483.4V127.9H482.1V127.5H480.8V127.2H479.5V126.8H478.2V127.5H476.9V127.1H475.6V126.9H474.3V126.0H473.0V126.0H471.7V125.5H470.4V125.1H469.1V125.1H467.8V125.1H466.5V125.0H465.2V124.8H463.9V124.5H462.6V124.1H461.3V124.8H460.0V124.6H458.7V124.4H457.4V123.7H456.1V123.5H454.8V123.2H453.5V123.9H452.2V123.8H450.9V123.5H449.6V123.1H448.3V122.8H447.0V123.5H445.7V123.0H444.4V122.8H443.1V122.6H441.8V123.8H440.5V124.0H439.2V124.1H437.9V123.0H436.6V122.9H435.3V122.8H434.0V122.8H432.7V122.6H431.4V122.5H430.1V122.7H428.8V122.5H427.5V122.5H426.2V123.5H424.9V123.8H423.6V122.8H422.3V122.7H421.0V122.7H419.7V123.0H418.4V123.1H417.1V122.4H415.8V122.2H414.5Z" fill="#0000ff" fill-opacity="0.44"/>
<path d="M430.0,117.9h1.5V123.8h-1.5ZM457.3,119.0h1.5V124.8h-1.5ZM484.7,123.7h1.5V129.5h-1.5ZM512.1,129.9h1.5V135.8h-1.5ZM539.4,131.9h1.5V137.8h-1.5ZM566.8,133.4h1.5V139.3h-1.5ZM594.2,134.7h1.5V140.6h-1.5Z" fill="#0000ff" fill-opacity="0.26"/>
<path d="M601.7,140.4L602.2,137.4L602.7,134.5L603.2,131.8L603.6,129.4L604.1,127.2L604.6,125.2L605.1,123.2L605.6,121.3L606.0,119.5L606.5,117.6L607.0,115.8L607.5,113.9L608.0,112.0L608.4,110.0L608.9,108.1L609.4,106.1L609.9,104.2L610.4,102.3L610.8,100.4L611.3,98.5L611.8,96.6L612.3,94.8L612.8,92.9L613.2,90.9L613.7,89.0L614.2,87.1L614.7,85.3L615.2,83.7L615.6,82.3L616.1,81.1L616.6,79.9L617.1,78.9L617.6,77.9L618.0,77.0L618.5,76.2L619.0,75.4L619.5,74.6L620.0,73.9L620.4,73.1L620.9,72.4L621.4,71.8L621.9,71.3L622.4,70.8L622.8,70.5L623.3,70.2L623.8,70.0L624.0,70.0" fill="none" stroke="#0000ff" stroke-opacity="0.33" stroke-width="3.7" stroke-linejoin="round"/>
<path d="M601.7,140.4L602.2,137.4L602.7,134.5L603.2,131.8L603.6,129.4L604.1,127.2L604.6,125.2L605.1,123.2L605.6,121.3L606.0,119.5L606.5,117.6L607.0,115.8L607.5,113.9L608.0,112.0L608.4,110.0L608.9,108.1L609.4,106.1L609.9,104.2L610.4,102.3L610.8,100.4L611.3,98.5L611.8,96.6L612.3,94.8L612.8,92.9L613.2,90.9L613.7,89.0L614.2,87.1L614.7,85.3L615.2,83.7L615.6,82.3L616.1,81.1L616.6,79.9L617.1,78.9L617.6,77.9L618.0,77.0L618.5,76.2L619.0,75.4L619.5,74.6L620.0,73.9L620.4,73.1L620.9,72.4L621.4,71.8L621.9,71.3L622.4,70.8L622.8,70.5L623.3,70.2L623.8,70.0L624.0,70.0" fill="none" stroke="#0000ff" stroke-opacity="0.58" stroke-width="2.0" stroke-linejoin="round"/>
<path d="M435.7,81.0L440.4,85.8L435.7,90.5L430.9,85.8Z" fill="none" stroke="#000" stroke-width="1.95"/>
<circle cx="435.2" cy="85.2" r="1.3" fill="#000"/>
<path d="M460.7,101.9L465.5,106.6L460.7,111.4L456.0,106.6Z" fill="none" stroke="#000" stroke-width="1.95"/>
<circle cx="460.2" cy="106.0" r="1.3" fill="#000"/>
<path d="M485.8,93.9L490.6,98.6L485.8,103.4L481.1,98.6Z" fill="none" stroke="#000" stroke-width="1.95"/>
<circle cx="485.3" cy="98.0" r="1.3" fill="#000"/>
<path d="M516.2,119.3L520.9,124.1L516.2,128.8L511.4,124.1Z" fill="none" stroke="#000" stroke-width="1.95"/>
<circle cx="515.7" cy="123.5" r="1.3" fill="#000"/>
<path d="M531.0,104.6L535.8,109.3L531.0,114.1L526.3,109.3Z" fill="none" stroke="#000" stroke-width="1.95"/>
<circle cx="530.5" cy="108.7" r="1.3" fill="#000"/>
<path d="M546.6,107.5L551.3,112.2L546.6,117.0L541.8,112.2Z" fill="none" stroke="#000" stroke-width="1.95"/>
<circle cx="546.1" cy="111.6" r="1.3" fill="#000"/>
<path d="M561.1,109.6L565.9,114.4L561.1,119.1L556.4,114.4Z" fill="none" stroke="#000" stroke-width="1.95"/>
<circle cx="560.6" cy="113.8" r="1.3" fill="#000"/>
<path d="M571.6,115.0L576.4,119.7L571.6,124.5L566.9,119.7Z" fill="none" stroke="#000" stroke-width="1.95"/>
<circle cx="571.1" cy="119.1" r="1.3" fill="#000"/>
<path d="M582.1,103.1L586.8,107.8L582.1,112.6L577.3,107.8Z" fill="none" stroke="#000" stroke-width="1.95"/>
<circle cx="581.6" cy="107.2" r="1.3" fill="#000"/>
<path d="M591.5,107.5L596.3,112.2L591.5,117.0L586.8,112.2Z" fill="none" stroke="#000" stroke-width="1.95"/>
<circle cx="591.0" cy="111.6" r="1.3" fill="#000"/>
<path d="M602.1,131.5L606.9,136.2L602.1,141.0L597.4,136.2Z" fill="none" stroke="#000" stroke-width="1.95"/>
<circle cx="601.6" cy="135.6" r="1.3" fill="#000"/>
<path d="M615.5,108.4L620.3,113.2L615.5,117.9L610.8,113.2Z" fill="none" stroke="#000" stroke-width="1.95"/>
<circle cx="615.0" cy="112.6" r="1.3" fill="#000"/>
<path d="M640.0,65.2L644.7,70.0L640.0,74.8L635.2,70.0Z" fill="none" stroke="#000" stroke-width="1.95"/>
<circle cx="639.5" cy="69.4" r="1.3" fill="#000"/>
<path d="M644.2,65.2L648.9,70.0L644.2,74.8L639.4,70.0Z" fill="none" stroke="#000" stroke-width="1.95"/>
<circle cx="643.7" cy="69.4" r="1.3" fill="#000"/>
<path d="M649.6,65.2L654.3,70.0L649.6,74.8L644.8,70.0Z" fill="none" stroke="#000" stroke-width="1.95"/>
<circle cx="649.1" cy="69.4" r="1.3" fill="#000"/>
</g>
<rect x="414.5" y="70.0" width="240.10" height="242.60" fill="none" stroke="#000" stroke-width="1.6"/>
<path d="M414.50,312.6v6.9M474.92,312.6v6.9M534.55,312.6v6.9M594.98,312.6v6.9M654.60,312.6v6.9M414.5,312.60h-6.9M414.5,264.08h-6.9M414.5,215.56h-6.9M414.5,167.04h-6.9M414.5,118.52h-6.9M414.5,70.00h-6.9" stroke="#000" stroke-width="1.6" fill="none"/>
<g font-size="18.08">
<text x="414.50" y="339.9" text-anchor="middle">0</text>
<text x="474.52" y="339.9" text-anchor="middle">50</text>
<text x="534.55" y="339.9" text-anchor="middle">100</text>
<text x="594.58" y="339.9" text-anchor="middle">150</text>
<text x="654.60" y="339.9" text-anchor="middle">200</text>
<text x="400.90" y="318.90" text-anchor="end" letter-spacing="-0.35">0.0</text>
<text x="400.90" y="270.38" text-anchor="end" letter-spacing="-0.35">0.2</text>
<text x="400.90" y="221.86" text-anchor="end" letter-spacing="-0.35">0.4</text>
<text x="400.90" y="173.34" text-anchor="end" letter-spacing="-0.35">0.6</text>
<text x="400.90" y="124.82" text-anchor="end" letter-spacing="-0.35">0.8</text>
<text x="400.90" y="76.30" text-anchor="end" letter-spacing="-0.35">1.0</text>
<text transform="translate(360.90,194.20) rotate(-90)" text-anchor="middle" letter-spacing="-1.3">SF</text>
</g>
<text transform="translate(534.25,58.80) scale(1,1.06)" font-size="21.7" text-anchor="middle">1.5 Gy</text>
<g clip-path="url(#c2)">
<path d="M760.0,131.3H761.3V131.3H762.6V131.6H763.9V132.0H765.2V131.9H766.5V131.9H767.8V131.1H769.1V131.1H770.4V131.1H771.7V131.1H773.0V133.2H774.3V131.5H775.6V131.3H776.9V131.2H778.2V132.0H779.5V132.0H780.8V132.7H782.1V131.2H783.4V131.3H784.7V132.5H786.0V131.8H787.3V131.5H788.7V131.6H790.0V133.1H791.3V132.8H792.6V132.8H793.9V132.9H795.2V132.9H796.5V131.8H797.8V132.7H799.1V132.8H800.4V129.8H801.7V132.7H803.0V132.6H804.3V133.1H805.6V133.5H806.9V133.1H808.2V134.0H809.5V134.3H810.8V132.1H812.1V136.8H813.4V137.2H814.7V134.5H816.0V134.8H817.3V135.2H818.6V136.4H819.9V136.9H821.2V138.1H822.5V138.1H823.8V138.6H825.1V139.4H826.4V137.5H827.7V140.3H829.0V140.7H830.3V140.8H831.6V141.3H832.9V141.0H834.2V142.3H835.5V143.2H836.8V142.7H838.1V143.1H839.4V143.2H840.7V143.7H842.0V142.9H843.3V143.4H844.6V143.9H846.0V144.4H847.3V144.8H848.6V146.3H849.9V146.7H851.2V146.8H852.5V147.2H853.8V149.2H855.1V148.1H856.4V148.4H857.7V150.1H859.0V150.8H860.3V150.4H861.6V149.7H862.9V149.8H864.2V150.8H865.5V150.9H866.8V151.0H868.1V151.1H869.4V151.2H870.7V149.1H872.0V149.1H873.3V149.2H874.6V150.4H875.9V152.0H877.2V153.1H878.5V149.9H879.8V150.9H881.1V151.2H882.4V151.3H883.7V151.4H885.0V151.9H886.3V152.4H887.6V152.4H888.9V151.0H890.2V151.0H891.5V151.0H892.8V153.6H894.1V152.0H895.4V151.7H896.7V152.2H898.0V151.8H899.3V152.5H900.6V152.5H902.0V152.6H903.3V151.7H904.6V152.0H905.9V153.3H907.2V152.4H908.5V152.1H909.8V152.6H911.1V152.7H912.4V152.7H913.7V152.9H915.0V152.9H916.3V151.8H917.6V151.9H918.9V153.1H920.2V151.2H921.5V151.2H922.8V151.2H924.1V153.3H925.4V153.3H926.7V154.6H928.0V153.0H929.3V152.9H930.6V152.3H931.9V153.2H933.2V153.2H934.5V153.3H935.8V153.3H937.1V153.3H938.4V152.3H939.7V152.4H941.0V154.0H942.3V154.3H943.6V152.8H944.9V154.8H946.2V158.4H947.5V162.2H948.8V167.1V167.1H947.5V168.0H946.2V168.4H944.9V168.6H943.6V169.4H942.3V169.7H941.0V169.7H939.7V173.5H938.4V170.8H937.1V170.1H935.8V170.1H934.5V170.9H933.2V170.8H931.9V170.8H930.6V170.1H929.3V169.9H928.0V170.4H926.7V169.0H925.4V169.0H924.1V170.6H922.8V170.6H921.5V170.6H920.2V170.6H918.9V169.5H917.6V168.8H916.3V168.8H915.0V167.9H913.7V169.2H912.4V169.2H911.1V171.3H909.8V168.5H908.5V168.5H907.2V169.0H905.9V168.9H904.6V168.7H903.3V171.3H902.0V171.2H900.6V170.6H899.3V169.0H898.0V169.3H896.7V169.1H895.4V168.2H894.1V168.1H892.8V170.3H891.5V169.8H890.2V168.0H888.9V169.8H887.6V168.8H886.3V168.8H885.0V168.7H883.7V168.7H882.4V168.6H881.1V168.6H879.8V169.8H878.5V169.4H877.2V168.7H875.9V169.0H874.6V168.9H873.3V169.1H872.0V169.8H870.7V168.6H869.4V168.5H868.1V167.8H866.8V167.4H865.5V168.6H864.2V168.4H862.9V167.6H861.6V167.5H860.3V167.8H859.0V167.0H857.7V167.3H856.4V167.3H855.1V167.0H853.8V167.8H852.5V166.5H851.2V164.9H849.9V165.3H848.6V164.6H847.3V163.1H846.0V163.9H844.6V161.8H843.3V164.4H842.0V162.6H840.7V162.1H839.4V161.6H838.1V160.9H836.8V160.7H835.5V160.1H834.2V159.7H832.9V159.3H831.6V158.9H830.3V155.9H829.0V159.6H827.7V158.4H826.4V157.4H825.1V157.0H823.8V157.8H822.5V155.5H821.2V155.8H819.9V155.8H818.6V154.1H817.3V153.5H816.0V153.1H814.7V152.4H813.4V152.0H812.1V151.7H810.8V151.3H809.5V150.7H808.2V151.4H806.9V150.9H805.6V150.2H804.3V152.3H803.0V149.3H801.7V149.2H800.4V151.6H799.1V151.6H797.8V152.0H796.5V152.0H795.2V151.9H793.9V150.7H792.6V150.6H791.3V149.7H790.0V152.2H788.7V152.1H787.3V151.8H786.0V150.7H784.7V150.7H783.4V152.2H782.1V152.2H780.8V152.7H779.5V151.0H778.2V151.0H776.9V151.0H775.6V151.2H774.3V151.6H773.0V150.9H771.7V150.9H770.4V150.9H769.1V149.2H767.8V150.9H766.5V150.9H765.2V150.9H763.9V150.5H762.6V151.4H761.3V148.8H760.0Z" fill="#0000ff" fill-opacity="0.3"/>
<path d="M766.3,130.6h1.5V151.6h-1.5ZM793.8,131.3h1.5V151.9h-1.5ZM821.2,137.0h1.5V157.4h-1.5ZM848.6,146.6h1.5V166.6h-1.5ZM876.0,150.3h1.5V170.1h-1.5ZM903.4,151.3h1.5V170.8h-1.5ZM930.8,152.0h1.5V171.2h-1.5Z" fill="#0000ff" fill-opacity="0.18"/>
<path d="M760.0,134.3H761.3V134.3H762.6V136.0H763.9V134.2H765.2V136.0H766.5V136.5H767.8V134.8H769.1V134.6H770.4V134.6H771.7V133.7H773.0V136.9H774.3V134.6H775.6V134.9H776.9V136.2H778.2V134.9H779.5V135.6H780.8V134.9H782.1V134.9H783.4V134.9H784.7V135.5H786.0V134.0H787.3V136.4H788.7V136.4H790.0V134.8H791.3V135.3H792.6V135.9H793.9V136.1H795.2V134.5H796.5V135.5H797.8V135.2H799.1V135.2H800.4V135.3H801.7V135.4H803.0V135.4H804.3V135.5H805.6V135.7H806.9V135.8H808.2V136.8H809.5V137.3H810.8V137.6H812.1V137.7H813.4V139.0H814.7V139.4H816.0V139.1H817.3V139.3H818.6V139.8H819.9V140.3H821.2V140.9H822.5V142.1H823.8V142.0H825.1V142.4H826.4V142.8H827.7V143.2H829.0V144.2H830.3V143.1H831.6V146.6H832.9V146.9H834.2V144.7H835.5V146.1H836.8V145.8H838.1V147.3H839.4V148.1H840.7V147.6H842.0V148.2H843.3V149.1H844.6V148.6H846.0V149.2H847.3V149.9H848.6V150.3H849.9V151.8H851.2V151.6H852.5V152.0H853.8V153.3H855.1V153.5H856.4V153.8H857.7V154.0H859.0V153.1H860.3V154.3H861.6V153.9H862.9V155.4H864.2V153.6H865.5V152.5H866.8V153.0H868.1V153.2H869.4V153.0H870.7V153.1H872.0V155.0H873.3V155.3H874.6V153.3H875.9V153.6H877.2V153.9H878.5V154.5H879.8V154.5H881.1V154.8H882.4V154.4H883.7V154.6H885.0V155.2H886.3V155.3H887.6V155.3H888.9V155.8H890.2V156.4H891.5V155.0H892.8V153.8H894.1V153.8H895.4V153.6H896.7V154.8H898.0V155.6H899.3V155.7H900.6V155.2H902.0V155.2H903.3V154.3H904.6V155.7H905.9V155.0H907.2V155.1H908.5V156.8H909.8V154.2H911.1V154.6H912.4V155.9H913.7V155.8H915.0V155.1H916.3V155.9H917.6V157.0H918.9V156.6H920.2V154.8H921.5V155.3H922.8V156.6H924.1V155.9H925.4V156.2H926.7V156.0H928.0V156.1H929.3V155.9H930.6V156.0H931.9V155.0H933.2V156.0H934.5V156.1H935.8V156.1H937.1V155.2H938.4V155.3H939.7V155.3H941.0V155.8H942.3V157.7H943.6V158.5H944.9V158.8H946.2V160.2H947.5V162.4H948.8V166.1V166.1H947.5V167.3H946.2V167.1H944.9V167.5H943.6V167.3H942.3V167.6H941.0V166.2H939.7V166.4H938.4V164.5H937.1V166.7H935.8V167.8H934.5V167.9H933.2V167.9H931.9V167.9H930.6V168.7H929.3V168.6H928.0V166.4H926.7V166.0H925.4V166.0H924.1V165.6H922.8V166.3H921.5V166.1H920.2V166.7H918.9V166.6H917.6V165.8H916.3V167.5H915.0V166.8H913.7V167.0H912.4V166.7H911.1V165.2H909.8V165.3H908.5V165.3H907.2V165.8H905.9V167.0H904.6V166.9H903.3V166.9H902.0V168.0H900.6V167.9H899.3V167.8H898.0V165.5H896.7V165.9H895.4V165.9H894.1V166.1H892.8V165.3H891.5V167.4H890.2V167.3H888.9V165.9H887.6V166.7H886.3V165.5H885.0V165.8H883.7V165.7H882.4V165.7H881.1V167.5H879.8V167.1H878.5V166.2H877.2V165.8H875.9V165.7H874.6V166.7H873.3V165.7H872.0V166.0H870.7V165.5H869.4V164.7H868.1V164.7H866.8V164.5H865.5V165.2H864.2V165.0H862.9V165.5H861.6V163.5H860.3V165.1H859.0V163.6H857.7V163.6H856.4V163.3H855.1V163.6H853.8V164.4H852.5V163.9H851.2V162.4H849.9V162.2H848.6V161.4H847.3V161.5H846.0V161.0H844.6V160.5H843.3V159.5H842.0V159.1H840.7V158.5H839.4V158.0H838.1V158.4H836.8V156.8H835.5V156.5H834.2V156.0H832.9V155.7H831.6V154.8H830.3V156.0H829.0V155.6H827.7V153.9H826.4V153.5H825.1V152.9H823.8V152.7H822.5V152.7H821.2V153.2H819.9V153.0H818.6V152.5H817.3V150.8H816.0V148.2H814.7V150.9H813.4V149.1H812.1V149.7H810.8V149.3H809.5V150.6H808.2V150.3H806.9V148.1H805.6V147.6H804.3V147.9H803.0V147.9H801.7V146.4H800.4V146.3H799.1V146.4H797.8V146.5H796.5V147.5H795.2V146.9H793.9V146.8H792.6V147.7H791.3V147.6H790.0V147.7H788.7V146.5H787.3V146.2H786.0V146.3H784.7V146.2H783.4V147.3H782.1V147.4H780.8V147.9H779.5V145.6H778.2V147.7H776.9V147.4H775.6V145.7H774.3V149.1H773.0V149.0H771.7V147.5H770.4V146.9H769.1V145.8H767.8V148.4H766.5V146.5H765.2V147.5H763.9V146.9H762.6V147.6H761.3V147.3H760.0Z" fill="#0000ff" fill-opacity="0.27"/>
<path d="M766.3,134.4h1.5V147.8h-1.5ZM793.8,135.1h1.5V148.2h-1.5ZM821.2,140.7h1.5V153.7h-1.5ZM848.6,150.2h1.5V163.0h-1.5ZM876.0,153.9h1.5V166.5h-1.5ZM903.4,154.9h1.5V167.2h-1.5ZM930.8,155.5h1.5V167.7h-1.5Z" fill="#0000ff" fill-opacity="0.16"/>
<path d="M760.0,137.8H761.3V138.1H762.6V137.1H763.9V137.9H765.2V138.0H766.5V137.0H767.8V138.0H769.1V138.6H770.4V138.5H771.7V138.2H773.0V138.1H774.3V138.2H775.6V137.7H776.9V137.9H778.2V138.4H779.5V137.9H780.8V138.4H782.1V139.0H783.4V138.8H784.7V138.6H786.0V138.4H787.3V138.7H788.7V139.1H790.0V138.2H791.3V138.6H792.6V138.3H793.9V138.6H795.2V138.9H796.5V138.7H797.8V139.5H799.1V139.5H800.4V139.7H801.7V139.5H803.0V139.0H804.3V139.8H805.6V139.1H806.9V139.1H808.2V139.6H809.5V140.2H810.8V140.4H812.1V140.7H813.4V141.4H814.7V142.0H816.0V142.7H817.3V143.3H818.6V144.1H819.9V145.0H821.2V145.9H822.5V145.6H823.8V146.4H825.1V145.7H826.4V146.0H827.7V148.6H829.0V146.3H830.3V148.1H831.6V146.6H832.9V146.8H834.2V148.5H835.5V148.4H836.8V148.5H838.1V149.1H839.4V150.2H840.7V151.4H842.0V151.5H843.3V150.6H844.6V152.3H846.0V153.1H847.3V154.3H848.6V154.2H849.9V154.2H851.2V154.5H852.5V155.0H853.8V155.2H855.1V155.2H856.4V154.9H857.7V155.0H859.0V155.8H860.3V156.0H861.6V155.0H862.9V156.1H864.2V156.4H865.5V156.5H866.8V156.7H868.1V157.2H869.4V158.1H870.7V157.2H872.0V157.3H873.3V158.0H874.6V157.9H875.9V157.3H877.2V157.3H878.5V157.2H879.8V156.9H881.1V156.3H882.4V157.5H883.7V157.6H885.0V158.8H886.3V159.0H887.6V158.8H888.9V157.8H890.2V159.3H891.5V157.9H892.8V156.9H894.1V156.1H895.4V157.2H896.7V157.7H898.0V157.8H899.3V158.0H900.6V158.4H902.0V158.4H903.3V158.8H904.6V159.9H905.9V158.0H907.2V158.2H908.5V159.5H909.8V158.5H911.1V159.1H912.4V159.6H913.7V159.4H915.0V159.8H916.3V159.8H917.6V159.7H918.9V159.3H920.2V158.2H921.5V157.7H922.8V159.4H924.1V158.2H925.4V158.4H926.7V158.6H928.0V158.2H929.3V158.5H930.6V158.5H931.9V158.0H933.2V159.5H934.5V159.1H935.8V157.8H937.1V157.5H938.4V159.1H939.7V157.4H941.0V159.0H942.3V157.8H943.6V160.2H944.9V160.6H946.2V161.0H947.5V163.2H948.8V165.0V165.0H947.5V165.0H946.2V164.1H944.9V163.3H943.6V163.5H942.3V164.0H941.0V163.8H939.7V163.6H938.4V163.1H937.1V163.6H935.8V163.9H934.5V164.0H933.2V163.4H931.9V164.3H930.6V163.1H929.3V163.1H928.0V164.0H926.7V163.9H925.4V163.9H924.1V164.1H922.8V163.8H921.5V164.6H920.2V164.7H918.9V163.7H917.6V164.4H916.3V164.6H915.0V164.1H913.7V164.4H912.4V162.0H911.1V164.1H909.8V164.3H908.5V164.4H907.2V164.1H905.9V164.4H904.6V164.8H903.3V164.2H902.0V163.7H900.6V163.3H899.3V163.0H898.0V163.9H896.7V163.3H895.4V162.6H894.1V163.2H892.8V163.9H891.5V164.1H890.2V164.5H888.9V163.7H887.6V163.9H886.3V163.7H885.0V163.3H883.7V162.4H882.4V162.6H881.1V161.7H879.8V163.3H878.5V163.5H877.2V163.5H875.9V163.3H874.6V163.5H873.3V162.4H872.0V163.3H870.7V163.0H869.4V163.5H868.1V162.7H866.8V162.4H865.5V163.3H864.2V161.2H862.9V160.6H861.6V160.7H860.3V160.8H859.0V160.7H857.7V160.6H856.4V159.7H855.1V161.3H853.8V161.5H852.5V160.4H851.2V160.1H849.9V158.6H848.6V160.5H847.3V159.4H846.0V158.5H844.6V157.7H843.3V156.9H842.0V156.4H840.7V155.4H839.4V155.5H838.1V155.1H836.8V153.7H835.5V154.7H834.2V153.9H832.9V154.5H831.6V152.4H830.3V152.3H829.0V152.2H827.7V151.6H826.4V152.0H825.1V151.5H823.8V150.8H822.5V151.2H821.2V150.3H819.9V148.3H818.6V149.4H817.3V148.2H816.0V147.5H814.7V145.9H813.4V145.9H812.1V145.3H810.8V145.1H809.5V143.7H808.2V143.8H806.9V143.9H805.6V143.8H804.3V144.0H803.0V144.9H801.7V144.7H800.4V144.5H799.1V145.2H797.8V144.8H796.5V145.2H795.2V144.7H793.9V143.0H792.6V144.5H791.3V145.6H790.0V144.2H788.7V144.2H787.3V144.0H786.0V144.2H784.7V143.8H783.4V143.8H782.1V144.1H780.8V144.8H779.5V144.6H778.2V144.3H776.9V142.9H775.6V143.4H774.3V143.2H773.0V143.6H771.7V143.8H770.4V143.4H769.1V145.3H767.8V142.5H766.5V142.5H765.2V143.5H763.9V143.7H762.6V144.3H761.3V144.3H760.0Z" fill="#0000ff" fill-opacity="0.44"/>
<path d="M766.3,137.7h1.5V144.5h-1.5ZM793.8,138.2h1.5V145.0h-1.5ZM821.2,143.8h1.5V150.5h-1.5ZM848.6,153.3h1.5V159.9h-1.5ZM876.0,156.9h1.5V163.4h-1.5ZM903.4,157.8h1.5V164.3h-1.5ZM930.8,158.4h1.5V164.8h-1.5Z" fill="#0000ff" fill-opacity="0.26"/>
<path d="M947.5,164.4L948.0,161.0L948.5,157.8L949.0,154.6L949.5,151.5L949.9,148.6L950.4,145.7L950.9,142.9L951.4,140.2L951.9,137.5L952.3,134.8L952.8,132.1L953.3,129.5L953.8,127.0L954.3,124.4L954.7,121.8L955.2,119.0L955.7,116.2L956.2,113.2L956.7,110.3L957.2,107.4L957.6,104.9L958.1,102.5L958.6,100.3L959.1,98.2L959.6,96.1L960.0,94.0L960.5,91.8L961.0,89.7L961.5,87.7L962.0,85.8L962.4,84.1L962.9,82.6L963.4,81.2L963.9,79.9L964.4,78.7L964.8,77.6L965.3,76.5L965.8,75.5L966.3,74.6L966.8,73.7L967.3,72.8L967.7,72.0L968.2,71.2L968.7,70.5L969.1,70.0" fill="none" stroke="#0000ff" stroke-opacity="0.33" stroke-width="3.7" stroke-linejoin="round"/>
<path d="M947.5,164.4L948.0,161.0L948.5,157.8L949.0,154.6L949.5,151.5L949.9,148.6L950.4,145.7L950.9,142.9L951.4,140.2L951.9,137.5L952.3,134.8L952.8,132.1L953.3,129.5L953.8,127.0L954.3,124.4L954.7,121.8L955.2,119.0L955.7,116.2L956.2,113.2L956.7,110.3L957.2,107.4L957.6,104.9L958.1,102.5L958.6,100.3L959.1,98.2L959.6,96.1L960.0,94.0L960.5,91.8L961.0,89.7L961.5,87.7L962.0,85.8L962.4,84.1L962.9,82.6L963.4,81.2L963.9,79.9L964.4,78.7L964.8,77.6L965.3,76.5L965.8,75.5L966.3,74.6L966.8,73.7L967.3,72.8L967.7,72.0L968.2,71.2L968.7,70.5L969.1,70.0" fill="none" stroke="#0000ff" stroke-opacity="0.58" stroke-width="2.0" stroke-linejoin="round"/>
<path d="M780.1,165.4L784.9,170.2L780.1,174.9L775.4,170.2Z" fill="none" stroke="#000" stroke-width="1.95"/>
<circle cx="779.6" cy="169.6" r="1.3" fill="#000"/>
<path d="M806.4,148.0L811.2,152.7L806.4,157.5L801.7,152.7Z" fill="none" stroke="#000" stroke-width="1.95"/>
<circle cx="805.9" cy="152.1" r="1.3" fill="#000"/>
<path d="M831.7,148.0L836.4,152.7L831.7,157.5L826.9,152.7Z" fill="none" stroke="#000" stroke-width="1.95"/>
<circle cx="831.2" cy="152.1" r="1.3" fill="#000"/>
<path d="M862.1,165.2L866.8,170.0L862.1,174.7L857.3,170.0Z" fill="none" stroke="#000" stroke-width="1.95"/>
<circle cx="861.6" cy="169.4" r="1.3" fill="#000"/>
<path d="M876.5,171.8L881.2,176.5L876.5,181.3L871.7,176.5Z" fill="none" stroke="#000" stroke-width="1.95"/>
<circle cx="876.0" cy="175.9" r="1.3" fill="#000"/>
<path d="M891.1,170.5L895.8,175.3L891.1,180.0L886.3,175.3Z" fill="none" stroke="#000" stroke-width="1.95"/>
<circle cx="890.6" cy="174.7" r="1.3" fill="#000"/>
<path d="M906.9,157.2L911.6,161.9L906.9,166.7L902.1,161.9Z" fill="none" stroke="#000" stroke-width="1.95"/>
<circle cx="906.4" cy="161.3" r="1.3" fill="#000"/>
<path d="M917.5,172.0L922.3,176.7L917.5,181.5L912.8,176.7Z" fill="none" stroke="#000" stroke-width="1.95"/>
<circle cx="917.0" cy="176.1" r="1.3" fill="#000"/>
<path d="M926.7,166.7L931.4,171.4L926.7,176.2L921.9,171.4Z" fill="none" stroke="#000" stroke-width="1.95"/>
<circle cx="926.2" cy="170.8" r="1.3" fill="#000"/>
<path d="M937.5,161.3L942.3,166.1L937.5,170.8L932.8,166.1Z" fill="none" stroke="#000" stroke-width="1.95"/>
<circle cx="937.0" cy="165.5" r="1.3" fill="#000"/>
<path d="M948.0,169.1L952.7,173.8L948.0,178.6L943.2,173.8Z" fill="none" stroke="#000" stroke-width="1.95"/>
<circle cx="947.5" cy="173.2" r="1.3" fill="#000"/>
<path d="M961.1,91.5L965.9,96.2L961.1,101.0L956.4,96.2Z" fill="none" stroke="#000" stroke-width="1.95"/>
<circle cx="960.6" cy="95.6" r="1.3" fill="#000"/>
<path d="M984.4,65.2L989.1,70.0L984.4,74.8L979.6,70.0Z" fill="none" stroke="#000" stroke-width="1.95"/>
<circle cx="983.9" cy="69.4" r="1.3" fill="#000"/>
<path d="M989.9,65.2L994.7,70.0L989.9,74.8L985.2,70.0Z" fill="none" stroke="#000" stroke-width="1.95"/>
<circle cx="989.4" cy="69.4" r="1.3" fill="#000"/>
<path d="M994.7,65.2L999.5,70.0L994.7,74.8L990.0,70.0Z" fill="none" stroke="#000" stroke-width="1.95"/>
<circle cx="994.2" cy="69.4" r="1.3" fill="#000"/>
</g>
<rect x="760.0" y="70.0" width="240.50" height="242.60" fill="none" stroke="#000" stroke-width="1.6"/>
<path d="M760.00,312.6v6.9M820.12,312.6v6.9M880.25,312.6v6.9M940.38,312.6v6.9M1000.50,312.6v6.9M760.0,312.60h-6.9M760.0,264.08h-6.9M760.0,215.56h-6.9M760.0,167.04h-6.9M760.0,118.52h-6.9M760.0,70.00h-6.9" stroke="#000" stroke-width="1.6" fill="none"/>
<g font-size="18.08">
<text x="760.00" y="339.9" text-anchor="middle">0</text>
<text x="820.12" y="339.9" text-anchor="middle">50</text>
<text x="880.25" y="339.9" text-anchor="middle">100</text>
<text x="940.38" y="339.9" text-anchor="middle">150</text>
<text x="1000.50" y="339.9" text-anchor="middle">200</text>
<text x="746.40" y="318.90" text-anchor="end" letter-spacing="-0.35">0.0</text>
<text x="746.40" y="270.38" text-anchor="end" letter-spacing="-0.35">0.2</text>
<text x="746.40" y="221.86" text-anchor="end" letter-spacing="-0.35">0.4</text>
<text x="746.40" y="173.34" text-anchor="end" letter-spacing="-0.35">0.6</text>
<text x="746.40" y="124.82" text-anchor="end" letter-spacing="-0.35">0.8</text>
<text x="746.40" y="76.30" text-anchor="end" letter-spacing="-0.35">1.0</text>
<text transform="translate(706.40,194.20) rotate(-90)" text-anchor="middle" letter-spacing="-1.3">SF</text>
</g>
<text transform="translate(879.95,58.80) scale(1,1.06)" font-size="21.7" text-anchor="middle">2.0 Gy</text>
<g clip-path="url(#c3)">
<path d="M69.0,472.7H70.3V472.7H71.6V472.7H72.9V471.1H74.2V474.2H75.5V474.2H76.8V474.3H78.1V474.3H79.4V473.4H80.7V473.7H82.0V472.8H83.3V472.9H84.6V473.0H85.9V473.0H87.2V473.1H88.5V474.5H89.8V473.3H91.1V474.2H92.4V474.0H93.7V474.1H95.0V474.2H96.3V474.3H97.6V472.4H98.9V475.1H100.2V473.1H101.5V476.3H102.8V476.4H104.1V473.7H105.4V474.6H106.7V475.5H108.0V476.4H109.3V474.0H110.6V474.1H111.9V476.4H113.2V476.6H114.5V476.3H115.8V475.5H117.1V475.8H118.4V474.9H119.7V475.7H121.0V478.1H122.3V478.4H123.6V478.7H124.9V477.8H126.2V478.3H127.5V479.3H128.8V478.2H130.1V479.5H131.4V481.6H132.7V481.1H134.0V479.9H135.3V480.9H136.6V481.0H137.9V480.7H139.2V483.1H140.5V483.4H141.8V483.8H143.1V484.3H144.4V485.5H145.7V486.0H147.0V486.0H148.3V487.4H149.6V488.0H150.9V488.6H152.2V489.2H153.5V489.9H154.8V490.1H156.1V490.7H157.4V488.9H158.7V491.5H160.0V489.3H161.3V490.4H162.6V492.7H163.9V493.5H165.3V493.5H166.6V494.5H167.9V494.1H169.2V494.6H170.5V494.8H171.8V495.0H173.1V495.2H174.4V495.7H175.7V495.0H177.0V496.2H178.3V496.4H179.6V496.9H180.9V497.1H182.2V496.2H183.5V494.3H184.8V494.5H186.1V496.3H187.4V496.4H188.7V496.7H190.0V496.8H191.3V499.1H192.6V499.1H193.9V497.8H195.2V497.5H196.5V497.6H197.8V497.7H199.1V497.5H200.4V497.5H201.7V496.4H203.0V497.5H204.3V497.8H205.6V498.5H206.9V496.4H208.2V496.9H209.5V497.0H210.8V497.1H212.1V499.9H213.4V498.1H214.7V498.2H216.0V498.3H217.3V498.3H218.6V498.7H219.9V497.5H221.2V497.6H222.5V497.6H223.8V497.7H225.1V497.8H226.4V497.8H227.7V500.3H229.0V499.5H230.3V498.1H231.6V499.1H232.9V499.2H234.2V499.2H235.5V499.2H236.8V499.3H238.1V498.9H239.4V497.6H240.7V497.6H242.0V498.2H243.3V498.2H244.6V498.7H245.9V498.8H247.2V498.8H248.5V499.7H249.8V499.7H251.1V498.1H252.4V499.5H253.7V504.3H255.0V506.0H256.3V509.0H257.6V515.5V515.5H256.3V518.1H255.0V519.2H253.7V518.7H252.4V519.1H251.1V519.1H249.8V519.7H248.5V517.4H247.2V518.9H245.9V519.1H244.6V517.6H243.3V517.6H242.0V518.2H240.7V518.3H239.4V519.9H238.1V518.3H236.8V518.1H235.5V518.6H234.2V518.4H232.9V518.8H231.6V517.3H230.3V517.5H229.0V517.4H227.7V517.2H226.4V517.2H225.1V518.6H223.8V518.6H222.5V517.7H221.2V518.0H219.9V518.2H218.6V518.3H217.3V519.7H216.0V515.4H214.7V516.7H213.4V518.3H212.1V518.2H210.8V518.6H209.5V517.1H208.2V517.3H206.9V518.1H205.6V515.8H204.3V517.4H203.0V517.4H201.7V517.3H200.4V516.3H199.1V516.2H197.8V517.3H196.5V517.5H195.2V516.4H193.9V517.7H192.6V517.6H191.3V515.1H190.0V515.0H188.7V513.3H187.4V513.1H186.1V517.4H184.8V514.6H183.5V515.7H182.2V515.2H180.9V515.9H179.6V515.1H178.3V514.9H177.0V514.7H175.7V514.6H174.4V514.4H173.1V514.8H171.8V513.9H170.5V513.8H169.2V513.2H167.9V512.4H166.6V513.9H165.3V511.4H163.9V511.0H162.6V511.5H161.3V509.0H160.0V508.8H158.7V508.2H157.4V508.1H156.1V508.5H154.8V508.1H153.5V506.5H152.2V505.9H150.9V506.2H149.6V505.6H148.3V505.1H147.0V503.4H145.7V502.8H144.4V502.3H143.1V501.7H141.8V501.2H140.5V501.6H139.2V500.6H137.9V501.6H136.6V500.8H135.3V500.4H134.0V499.3H132.7V500.1H131.4V498.7H130.1V498.9H128.8V501.0H127.5V497.3H126.2V496.9H124.9V497.7H123.6V496.1H122.3V496.3H121.0V495.6H119.7V496.8H118.4V496.5H117.1V495.3H115.8V495.1H114.5V493.2H113.2V494.2H111.9V494.1H110.6V493.9H109.3V496.0H108.0V493.0H106.7V494.6H105.4V494.5H104.1V493.6H102.8V495.6H101.5V493.3H100.2V493.8H98.9V493.7H97.6V493.6H96.3V494.4H95.0V493.0H93.7V492.9H92.4V493.9H91.1V493.8H89.8V493.7H88.5V493.6H87.2V493.6H85.9V492.0H84.6V493.1H83.3V491.7H82.0V492.9H80.7V493.0H79.4V494.6H78.1V493.6H76.8V492.5H75.5V493.0H74.2V492.9H72.9V492.9H71.6V492.9H70.3V491.3H69.0Z" fill="#0000ff" fill-opacity="0.3"/>
<path d="M94.3,473.0h1.5V494.2h-1.5ZM121.7,476.6h1.5V497.9h-1.5ZM149.1,485.4h1.5V506.8h-1.5ZM176.5,494.2h1.5V515.8h-1.5ZM203.8,496.4h1.5V518.1h-1.5ZM231.2,497.7h1.5V519.5h-1.5Z" fill="#0000ff" fill-opacity="0.18"/>
<path d="M69.0,476.6H70.3V475.9H71.6V475.8H72.9V476.2H74.2V475.9H75.5V476.1H76.8V476.2H78.1V476.8H79.4V475.1H80.7V477.0H82.0V477.0H83.3V477.0H84.6V478.5H85.9V477.1H87.2V475.7H88.5V476.6H89.8V477.0H91.1V477.8H92.4V477.8H93.7V477.9H95.0V477.8H96.3V477.2H97.6V477.0H98.9V478.0H100.2V478.2H101.5V477.6H102.8V477.6H104.1V478.3H105.4V478.5H106.7V478.6H108.0V478.8H109.3V479.8H110.6V479.0H111.9V479.0H113.2V479.6H114.5V480.6H115.8V480.6H117.1V479.2H118.4V480.5H119.7V480.9H121.0V480.9H122.3V479.6H123.6V479.9H124.9V483.1H126.2V483.5H127.5V480.6H128.8V481.9H130.1V483.5H131.4V483.8H132.7V483.4H134.0V483.8H135.3V484.8H136.6V483.9H137.9V484.4H139.2V485.6H140.5V486.3H141.8V487.7H143.1V487.5H144.4V488.1H145.7V488.2H147.0V488.8H148.3V487.6H149.6V490.2H150.9V490.9H152.2V491.6H153.5V490.6H154.8V493.1H156.1V493.2H157.4V495.1H158.7V495.7H160.0V495.6H161.3V495.2H162.6V495.7H163.9V496.1H165.3V496.2H166.6V496.6H167.9V498.2H169.2V496.6H170.5V498.1H171.8V496.2H173.1V498.5H174.4V499.3H175.7V499.4H177.0V498.8H178.3V498.9H179.6V499.1H180.9V499.0H182.2V499.1H183.5V499.3H184.8V499.9H186.1V500.0H187.4V500.1H188.7V500.9H190.0V501.0H191.3V499.7H192.6V499.6H193.9V500.9H195.2V501.4H196.5V501.5H197.8V500.3H199.1V500.1H200.4V500.3H201.7V498.9H203.0V501.8H204.3V501.4H205.6V501.5H206.9V502.7H208.2V502.6H209.5V500.7H210.8V501.5H212.1V501.6H213.4V501.5H214.7V501.9H216.0V502.0H217.3V500.4H218.6V500.5H219.9V501.9H221.2V502.0H222.5V502.2H223.8V501.7H225.1V502.8H226.4V502.9H227.7V502.8H229.0V502.9H230.3V502.0H231.6V501.8H232.9V501.8H234.2V504.5H235.5V501.0H236.8V502.6H238.1V503.1H239.4V502.0H240.7V503.6H242.0V503.7H243.3V502.9H244.6V503.0H245.9V501.7H247.2V501.8H248.5V502.9H249.8V503.0H251.1V503.2H252.4V504.7H253.7V506.4H255.0V508.5H256.3V509.6H257.6V514.1V514.1H256.3V514.8H255.0V514.6H253.7V514.8H252.4V515.5H251.1V516.1H249.8V516.5H248.5V515.6H247.2V515.1H245.9V515.4H244.6V515.4H243.3V515.0H242.0V514.9H240.7V514.6H239.4V515.1H238.1V515.2H236.8V515.3H235.5V515.2H234.2V515.2H232.9V515.5H231.6V516.1H230.3V515.1H229.0V515.0H227.7V513.3H226.4V514.6H225.1V514.6H223.8V515.3H222.5V515.0H221.2V513.6H219.9V514.5H218.6V514.1H217.3V512.6H216.0V513.2H214.7V513.4H213.4V513.0H212.1V514.2H210.8V515.2H209.5V515.2H208.2V514.0H206.9V514.9H205.6V514.0H204.3V513.7H203.0V514.4H201.7V514.5H200.4V513.6H199.1V513.6H197.8V513.4H196.5V513.6H195.2V513.4H193.9V512.7H192.6V512.6H191.3V511.7H190.0V511.9H188.7V513.6H187.4V513.4H186.1V512.2H184.8V512.0H183.5V511.0H182.2V510.8H180.9V512.7H179.6V512.3H178.3V511.3H177.0V510.2H175.7V510.4H174.4V511.2H173.1V509.7H171.8V509.5H170.5V509.3H169.2V509.3H167.9V508.8H166.6V508.7H165.3V508.0H163.9V507.8H162.6V508.4H161.3V506.6H160.0V506.0H158.7V504.3H157.4V503.6H156.1V502.9H154.8V504.6H153.5V504.1H152.2V502.5H150.9V501.9H149.6V500.6H148.3V500.5H147.0V501.1H145.7V500.6H144.4V498.7H143.1V498.2H141.8V499.1H140.5V498.7H139.2V500.6H137.9V500.2H136.6V499.7H135.3V496.1H134.0V495.2H132.7V494.6H131.4V494.9H130.1V495.2H128.8V493.8H127.5V493.7H126.2V493.3H124.9V493.1H123.6V494.4H122.3V492.0H121.0V493.1H119.7V492.9H118.4V491.2H117.1V491.6H115.8V490.8H114.5V490.7H113.2V490.6H111.9V490.4H110.6V491.5H109.3V490.5H108.0V490.4H106.7V492.9H105.4V492.7H104.1V492.5H102.8V487.7H101.5V490.4H100.2V490.3H98.9V490.2H97.6V490.0H96.3V490.3H95.0V490.3H93.7V489.4H92.4V489.4H91.1V489.3H89.8V489.1H88.5V488.1H87.2V488.8H85.9V488.6H84.6V489.3H83.3V489.3H82.0V489.1H80.7V488.9H79.4V489.3H78.1V489.1H76.8V487.9H75.5V489.3H74.2V489.1H72.9V488.8H71.6V489.9H70.3V489.9H69.0Z" fill="#0000ff" fill-opacity="0.27"/>
<path d="M94.3,476.9h1.5V490.3h-1.5ZM121.7,480.4h1.5V494.0h-1.5ZM149.1,489.3h1.5V502.9h-1.5ZM176.5,498.1h1.5V511.8h-1.5ZM203.8,500.4h1.5V514.2h-1.5ZM231.2,501.7h1.5V515.6h-1.5Z" fill="#0000ff" fill-opacity="0.16"/>
<path d="M69.0,480.3H70.3V478.5H71.6V479.3H72.9V478.8H74.2V478.9H75.5V479.7H76.8V479.4H78.1V479.7H79.4V480.1H80.7V480.7H82.0V481.0H83.3V480.5H84.6V479.5H85.9V480.0H87.2V479.7H88.5V479.7H89.8V479.8H91.1V480.0H92.4V478.9H93.7V480.3H95.0V479.9H96.3V480.4H97.6V480.6H98.9V480.4H100.2V481.1H101.5V481.6H102.8V479.6H104.1V480.0H105.4V480.5H106.7V482.4H108.0V482.6H109.3V483.1H110.6V483.4H111.9V484.0H113.2V483.7H114.5V481.6H115.8V483.3H117.1V482.7H118.4V483.0H119.7V483.2H121.0V483.4H122.3V484.8H123.6V485.0H124.9V485.1H126.2V485.5H127.5V485.8H128.8V486.3H130.1V484.9H131.4V485.8H132.7V486.5H134.0V487.2H135.3V487.6H136.6V488.2H137.9V488.7H139.2V489.0H140.5V488.9H141.8V489.1H143.1V489.1H144.4V490.7H145.7V491.1H147.0V492.2H148.3V491.3H149.6V491.8H150.9V492.6H152.2V493.2H153.5V495.4H154.8V495.1H156.1V497.3H157.4V497.5H158.7V497.5H160.0V498.0H161.3V498.5H162.6V497.5H163.9V499.6H165.3V500.0H166.6V500.5H167.9V500.8H169.2V500.4H170.5V501.3H171.8V501.5H173.1V501.3H174.4V501.5H175.7V502.3H177.0V502.8H178.3V502.6H179.6V502.2H180.9V502.2H182.2V503.2H183.5V503.9H184.8V503.4H186.1V504.6H187.4V504.3H188.7V504.0H190.0V502.8H191.3V504.4H192.6V504.1H193.9V504.0H195.2V503.8H196.5V503.7H197.8V504.0H199.1V504.7H200.4V504.5H201.7V504.7H203.0V504.5H204.3V504.5H205.6V505.1H206.9V505.3H208.2V505.1H209.5V504.7H210.8V504.4H212.1V504.5H213.4V504.6H214.7V504.9H216.0V504.5H217.3V504.0H218.6V504.4H219.9V504.3H221.2V504.9H222.5V505.5H223.8V506.0H225.1V506.0H226.4V506.2H227.7V506.5H229.0V506.1H230.3V505.8H231.6V505.6H232.9V505.6H234.2V505.8H235.5V505.7H236.8V505.1H238.1V504.9H239.4V505.1H240.7V505.5H242.0V505.6H243.3V505.9H244.6V506.2H245.9V506.2H247.2V507.1H248.5V506.7H249.8V507.2H251.1V506.2H252.4V506.5H253.7V507.8H255.0V509.6H256.3V510.9H257.6V512.8V512.8H256.3V512.5H255.0V512.9H253.7V512.6H252.4V512.8H251.1V513.2H249.8V513.1H248.5V513.3H247.2V512.6H245.9V511.9H244.6V511.9H243.3V511.6H242.0V511.2H240.7V512.5H239.4V510.9H238.1V511.2H236.8V512.8H235.5V513.0H234.2V512.7H232.9V512.7H231.6V511.0H230.3V512.3H229.0V512.8H227.7V512.6H226.4V512.4H225.1V512.5H223.8V511.4H222.5V510.8H221.2V510.0H219.9V510.1H218.6V509.8H217.3V510.2H216.0V510.3H214.7V509.7H213.4V510.0H212.1V510.0H210.8V510.9H209.5V511.1H208.2V510.4H206.9V511.0H205.6V512.0H204.3V511.1H203.0V510.3H201.7V511.4H200.4V511.3H199.1V509.5H197.8V509.8H196.5V508.8H195.2V509.4H193.9V509.8H192.6V509.6H191.3V508.4H190.0V508.3H188.7V508.8H187.4V508.9H186.1V508.9H184.8V508.8H183.5V508.9H182.2V508.8H180.9V507.9H179.6V509.1H178.3V507.0H177.0V506.9H175.7V507.8H174.4V506.9H173.1V506.8H171.8V506.7H170.5V507.6H169.2V506.4H167.9V505.9H166.6V506.3H165.3V506.2H163.9V504.4H162.6V504.1H161.3V503.1H160.0V503.8H158.7V503.2H157.4V502.5H156.1V501.8H154.8V500.8H153.5V500.2H152.2V499.2H150.9V498.1H149.6V497.4H148.3V497.2H147.0V496.8H145.7V496.9H144.4V496.0H143.1V495.5H141.8V496.9H140.5V495.8H139.2V496.0H137.9V495.4H136.6V493.8H135.3V494.1H134.0V492.9H132.7V492.3H131.4V491.6H130.1V493.2H128.8V491.3H127.5V491.0H126.2V489.7H124.9V490.2H123.6V490.3H122.3V489.7H121.0V488.8H119.7V488.8H118.4V488.2H117.1V489.1H115.8V488.6H114.5V489.0H113.2V489.3H111.9V489.2H110.6V488.4H109.3V487.9H108.0V487.3H106.7V487.7H105.4V488.3H104.1V486.7H102.8V487.1H101.5V486.0H100.2V487.7H98.9V485.9H97.6V485.5H96.3V485.4H95.0V486.2H93.7V486.3H92.4V486.5H91.1V487.5H89.8V486.5H88.5V485.5H87.2V486.6H85.9V486.5H84.6V486.4H83.3V486.3H82.0V487.4H80.7V486.1H79.4V486.5H78.1V486.1H76.8V485.9H75.5V485.1H74.2V485.3H72.9V484.9H71.6V485.3H70.3V485.5H69.0Z" fill="#0000ff" fill-opacity="0.44"/>
<path d="M94.3,480.1h1.5V487.1h-1.5ZM121.7,483.7h1.5V490.7h-1.5ZM149.1,492.6h1.5V499.6h-1.5ZM176.5,501.4h1.5V508.5h-1.5ZM203.8,503.7h1.5V510.8h-1.5ZM231.2,505.0h1.5V512.2h-1.5Z" fill="#0000ff" fill-opacity="0.26"/>
<path d="M256.3,512.2L256.8,507.8L257.3,503.6L257.7,499.4L258.2,495.3L258.7,491.4L259.2,487.5L259.7,483.8L260.1,480.3L260.6,476.9L261.1,473.7L261.6,470.5L262.1,467.2L262.5,463.9L263.0,460.5L263.5,456.8L264.0,453.1L264.5,449.4L264.9,445.8L265.4,442.3L265.9,439.1L266.4,435.9L266.9,432.9L267.3,429.9L267.8,427.1L268.3,424.4L268.8,421.7L269.3,419.2L269.7,416.7L270.2,414.3L270.7,412.0L271.2,410.0L271.7,408.1L272.2,406.3L272.6,404.7L273.1,403.1L273.6,401.6L274.1,400.2L274.6,399.0L275.0,397.8L275.5,396.6L276.0,395.4L276.5,394.3L277.0,393.3L277.4,392.5L277.9,392.1L278.4,391.9L278.7,391.9" fill="none" stroke="#0000ff" stroke-opacity="0.28" stroke-width="3.2" stroke-linejoin="round"/>
<path d="M256.3,512.2L256.8,507.8L257.3,503.6L257.7,499.4L258.2,495.3L258.7,491.4L259.2,487.5L259.7,483.8L260.1,480.3L260.6,476.9L261.1,473.7L261.6,470.5L262.1,467.2L262.5,463.9L263.0,460.5L263.5,456.8L264.0,453.1L264.5,449.4L264.9,445.8L265.4,442.3L265.9,439.1L266.4,435.9L266.9,432.9L267.3,429.9L267.8,427.1L268.3,424.4L268.8,421.7L269.3,419.2L269.7,416.7L270.2,414.3L270.7,412.0L271.2,410.0L271.7,408.1L272.2,406.3L272.6,404.7L273.1,403.1L273.6,401.6L274.1,400.2L274.6,399.0L275.0,397.8L275.5,396.6L276.0,395.4L276.5,394.3L277.0,393.3L277.4,392.5L277.9,392.1L278.4,391.9L278.7,391.9" fill="none" stroke="#0000ff" stroke-opacity="0.46" stroke-width="1.8" stroke-linejoin="round"/>
<path d="M89.8,467.5L94.6,472.2L89.8,477.0L85.1,472.2Z" fill="none" stroke="#000" stroke-width="1.95"/>
<circle cx="89.3" cy="471.6" r="1.3" fill="#000"/>
<path d="M115.1,464.5L119.9,469.3L115.1,474.0L110.4,469.3Z" fill="none" stroke="#000" stroke-width="1.95"/>
<circle cx="114.6" cy="468.7" r="1.3" fill="#000"/>
<path d="M140.3,484.1L145.1,488.8L140.3,493.6L135.6,488.8Z" fill="none" stroke="#000" stroke-width="1.95"/>
<circle cx="139.8" cy="488.2" r="1.3" fill="#000"/>
<path d="M170.6,487.0L175.4,491.7L170.6,496.5L165.9,491.7Z" fill="none" stroke="#000" stroke-width="1.95"/>
<circle cx="170.1" cy="491.1" r="1.3" fill="#000"/>
<path d="M186.3,496.0L191.0,500.8L186.3,505.5L181.5,500.8Z" fill="none" stroke="#000" stroke-width="1.95"/>
<circle cx="185.8" cy="500.2" r="1.3" fill="#000"/>
<path d="M201.0,509.0L205.7,513.7L201.0,518.5L196.2,513.7Z" fill="none" stroke="#000" stroke-width="1.95"/>
<circle cx="200.5" cy="513.1" r="1.3" fill="#000"/>
<path d="M216.6,502.6L221.4,507.4L216.6,512.1L211.9,507.4Z" fill="none" stroke="#000" stroke-width="1.95"/>
<circle cx="216.1" cy="506.8" r="1.3" fill="#000"/>
<path d="M226.2,505.3L231.0,510.0L226.2,514.8L221.5,510.0Z" fill="none" stroke="#000" stroke-width="1.95"/>
<circle cx="225.7" cy="509.4" r="1.3" fill="#000"/>
<path d="M236.7,501.5L241.4,506.3L236.7,511.0L231.9,506.3Z" fill="none" stroke="#000" stroke-width="1.95"/>
<circle cx="236.2" cy="505.7" r="1.3" fill="#000"/>
<path d="M247.2,510.2L252.0,514.9L247.2,519.7L242.5,514.9Z" fill="none" stroke="#000" stroke-width="1.95"/>
<circle cx="246.7" cy="514.3" r="1.3" fill="#000"/>
<path d="M256.7,515.8L261.5,520.5L256.7,525.3L252.0,520.5Z" fill="none" stroke="#000" stroke-width="1.95"/>
<circle cx="256.2" cy="519.9" r="1.3" fill="#000"/>
<path d="M270.9,456.7L275.6,461.5L270.9,466.2L266.1,461.5Z" fill="none" stroke="#000" stroke-width="1.95"/>
<circle cx="270.4" cy="460.9" r="1.3" fill="#000"/>
<path d="M293.9,387.1L298.7,391.9L293.9,396.6L289.2,391.9Z" fill="none" stroke="#000" stroke-width="1.95"/>
<circle cx="293.4" cy="391.3" r="1.3" fill="#000"/>
<path d="M300.0,387.1L304.7,391.9L300.0,396.6L295.2,391.9Z" fill="none" stroke="#000" stroke-width="1.95"/>
<circle cx="299.5" cy="391.3" r="1.3" fill="#000"/>
<path d="M304.3,387.1L309.0,391.9L304.3,396.6L299.5,391.9Z" fill="none" stroke="#000" stroke-width="1.95"/>
<circle cx="303.8" cy="391.3" r="1.3" fill="#000"/>
</g>
<rect x="69.0" y="391.9" width="240.20" height="244.10" fill="none" stroke="#000" stroke-width="1.6"/>
<path d="M69.00,636.0v6.9M129.75,636.0v6.9M189.10,636.0v6.9M249.85,636.0v6.9M309.20,636.0v6.9M69.0,636.00h-6.9M69.0,587.18h-6.9M69.0,538.36h-6.9M69.0,489.54h-6.9M69.0,440.72h-6.9M69.0,391.90h-6.9" stroke="#000" stroke-width="1.6" fill="none"/>
<g font-size="18.08">
<text x="69.00" y="663.3" text-anchor="middle">0</text>
<text x="129.05" y="663.3" text-anchor="middle">50</text>
<text x="189.10" y="663.3" text-anchor="middle">100</text>
<text x="249.15" y="663.3" text-anchor="middle">150</text>
<text x="309.20" y="663.3" text-anchor="middle">200</text>
<text x="55.40" y="642.30" text-anchor="end" letter-spacing="-0.35">0.0</text>
<text x="55.40" y="593.48" text-anchor="end" letter-spacing="-0.35">0.2</text>
<text x="55.40" y="544.66" text-anchor="end" letter-spacing="-0.35">0.4</text>
<text x="55.40" y="495.84" text-anchor="end" letter-spacing="-0.35">0.6</text>
<text x="55.40" y="447.02" text-anchor="end" letter-spacing="-0.35">0.8</text>
<text x="55.40" y="398.20" text-anchor="end" letter-spacing="-0.35">1.0</text>
<text transform="translate(15.40,515.95) rotate(-90)" text-anchor="middle" letter-spacing="-1.3">SF</text>
</g>
<text transform="translate(188.80,380.70) scale(1,1.06)" font-size="21.7" text-anchor="middle">2.5 Gy</text>
<g clip-path="url(#c4)">
<path d="M414.5,490.9H415.8V490.0H417.1V490.0H418.4V492.5H419.7V490.7H421.0V490.7H422.3V492.9H423.6V490.6H424.9V491.9H426.2V491.4H427.5V492.3H428.8V492.3H430.1V492.1H431.4V491.2H432.7V491.4H434.0V494.7H435.3V494.8H436.6V491.4H437.9V491.2H439.2V492.2H440.5V492.3H441.8V492.4H443.1V492.5H444.4V494.6H445.7V492.8H447.0V494.7H448.3V494.7H449.6V492.6H450.9V492.7H452.2V493.1H453.5V493.3H454.8V494.9H456.1V493.5H457.4V494.4H458.7V491.6H460.0V494.9H461.3V495.2H462.6V494.7H463.9V495.3H465.2V495.7H466.5V495.1H467.8V495.5H469.1V495.9H470.4V497.2H471.7V497.7H473.0V497.6H474.3V496.4H475.6V498.5H476.9V499.1H478.2V499.5H479.5V500.2H480.8V500.6H482.1V501.1H483.4V501.6H484.7V502.1H486.0V502.9H487.3V504.0H488.6V504.6H489.9V504.2H491.2V504.9H492.5V505.5H493.8V506.1H495.1V505.9H496.4V506.6H497.7V508.5H499.0V509.2H500.3V510.7H501.6V511.1H502.9V512.7H504.2V513.3H505.5V512.0H506.8V511.9H508.1V513.3H509.4V513.5H510.7V513.9H512.0V515.1H513.3V515.4H514.6V517.1H515.9V515.7H517.2V518.0H518.5V518.2H519.8V518.5H521.1V517.8H522.4V515.4H523.7V516.9H525.0V517.2H526.3V517.5H527.6V517.9H528.9V517.6H530.2V518.2H531.5V518.3H532.8V518.4H534.1V519.1H535.4V519.1H536.7V516.7H538.0V518.1H539.3V517.5H540.6V518.8H541.9V517.8H543.2V517.0H544.5V517.9H545.8V517.9H547.1V517.3H548.4V517.0H549.7V515.8H551.0V515.6H552.3V515.4H553.6V515.3H554.9V513.8H556.2V516.7H557.5V516.7H558.8V517.0H560.1V512.4H561.4V515.2H562.7V515.7H564.0V515.5H565.3V515.8H566.6V517.1H567.9V517.4H569.2V517.4H570.5V517.4H571.8V517.6H573.1V518.8H574.4V519.7H575.7V519.4H577.0V519.1H578.3V517.6H579.6V520.7H580.9V519.5H582.2V519.7H583.5V518.8H584.8V520.5H586.1V521.1H587.4V523.0H588.7V517.7H590.0V520.3H591.3V520.4H592.6V520.5H593.9V520.5H595.2V520.5H596.5V519.7H597.8V523.8H599.1V526.0H600.4V528.1H601.7V531.3H603.0V537.5V537.5H601.7V538.8H600.4V542.8H599.1V540.7H597.8V541.2H596.5V540.6H595.2V541.5H593.9V542.3H592.6V542.2H591.3V542.1H590.0V540.5H588.7V542.0H587.4V541.8H586.1V541.3H584.8V542.1H583.5V541.9H582.2V541.2H580.9V541.0H579.6V540.7H578.3V540.6H577.0V540.5H575.7V538.9H574.4V538.6H573.1V538.2H571.8V537.6H570.5V538.8H569.2V536.9H567.9V538.2H566.6V538.2H565.3V538.8H564.0V538.6H562.7V537.7H561.4V536.5H560.1V536.4H558.8V538.6H557.5V536.0H556.2V536.0H554.9V536.1H553.6V536.3H552.3V536.5H551.0V538.1H549.7V539.1H548.4V539.3H547.1V539.6H545.8V538.1H544.5V538.4H543.2V538.6H541.9V541.1H540.6V538.2H539.3V538.4H538.0V539.9H536.7V539.9H535.4V539.0H534.1V540.4H532.8V540.3H531.5V538.9H530.2V540.4H528.9V540.3H527.6V537.4H526.3V537.2H525.0V539.6H523.7V537.9H522.4V535.9H521.1V535.7H519.8V535.6H518.5V536.1H517.2V536.2H515.9V538.7H514.6V538.4H513.3V537.0H512.0V537.4H510.7V535.6H509.4V536.2H508.1V535.6H506.8V535.1H505.5V534.5H504.2V532.5H502.9V532.5H501.6V532.1H500.3V528.6H499.0V528.9H497.7V529.3H496.4V528.7H495.1V527.5H493.8V526.5H492.5V526.0H491.2V527.2H489.9V525.4H488.6V523.7H487.3V523.2H486.0V521.7H484.7V523.6H483.4V523.1H482.1V520.5H480.8V522.0H479.5V522.5H478.2V521.2H476.9V519.8H475.6V519.4H474.3V519.4H473.0V520.4H471.7V519.9H470.4V517.0H469.1V515.8H467.8V515.5H466.5V515.1H465.2V517.8H463.9V517.4H462.6V517.1H461.3V514.3H460.0V514.2H458.7V515.4H457.4V514.9H456.1V514.8H454.8V514.6H453.5V516.7H452.2V516.6H450.9V514.5H449.6V513.9H448.3V516.4H447.0V516.3H445.7V516.2H444.4V515.0H443.1V514.0H441.8V513.6H440.5V513.5H439.2V514.5H437.9V514.4H436.6V514.3H435.3V513.2H434.0V513.6H432.7V513.6H431.4V513.1H430.1V513.0H428.8V512.5H427.5V512.4H426.2V512.7H424.9V512.6H423.6V513.0H422.3V511.5H421.0V512.3H419.7V512.2H418.4V513.2H417.1V513.2H415.8V514.6H414.5Z" fill="#0000ff" fill-opacity="0.3"/>
<path d="M430.0,491.1h1.5V514.6h-1.5ZM457.3,493.1h1.5V516.6h-1.5ZM484.7,501.5h1.5V524.9h-1.5ZM512.1,514.0h1.5V537.3h-1.5ZM539.4,516.9h1.5V540.1h-1.5ZM566.8,516.1h1.5V539.2h-1.5ZM594.2,520.2h1.5V543.3h-1.5Z" fill="#0000ff" fill-opacity="0.18"/>
<path d="M414.5,494.3H415.8V496.4H417.1V494.5H418.4V495.8H419.7V494.0H421.0V495.9H422.3V496.1H423.6V496.0H424.9V496.1H426.2V496.7H427.5V496.1H428.8V496.1H430.1V495.7H431.4V496.7H432.7V496.7H434.0V497.0H435.3V495.5H436.6V495.7H437.9V495.9H439.2V496.3H440.5V495.1H441.8V495.2H443.1V496.5H444.4V496.9H445.7V495.7H447.0V497.1H448.3V496.3H449.6V496.5H450.9V496.6H452.2V496.8H453.5V496.9H454.8V496.0H456.1V498.0H457.4V497.8H458.7V497.9H460.0V498.8H461.3V499.0H462.6V499.0H463.9V500.1H465.2V498.5H466.5V501.6H467.8V502.0H469.1V500.8H470.4V502.4H471.7V502.9H473.0V501.2H474.3V502.5H475.6V502.9H476.9V503.6H478.2V502.8H479.5V504.0H480.8V505.6H482.1V504.7H483.4V506.2H484.7V506.5H486.0V506.8H487.3V507.4H488.6V508.3H489.9V509.1H491.2V509.8H492.5V509.7H493.8V509.6H495.1V510.6H496.4V511.3H497.7V512.0H499.0V511.5H500.3V512.2H501.6V513.0H502.9V514.0H504.2V515.1H505.5V517.1H506.8V517.8H508.1V517.0H509.4V519.2H510.7V518.8H512.0V518.9H513.3V518.9H514.6V519.1H515.9V519.4H517.2V519.6H518.5V520.0H519.8V520.7H521.1V519.9H522.4V520.6H523.7V520.8H525.0V523.1H526.3V523.4H527.6V523.5H528.9V522.5H530.2V522.7H531.5V522.1H532.8V522.2H534.1V521.2H535.4V522.1H536.7V522.8H538.0V522.2H539.3V522.3H540.6V522.2H541.9V522.0H543.2V521.7H544.5V520.0H545.8V521.5H547.1V519.6H548.4V519.1H549.7V520.8H551.0V518.2H552.3V518.9H553.6V518.8H554.9V518.8H556.2V518.7H557.5V518.8H558.8V519.7H560.1V519.8H561.4V519.9H562.7V519.0H564.0V519.2H565.3V519.5H566.6V520.4H567.9V520.4H569.2V522.3H570.5V522.7H571.8V522.8H573.1V522.7H574.4V523.1H575.7V522.9H577.0V523.1H578.3V523.0H579.6V523.5H580.9V523.7H582.2V522.6H583.5V524.7H584.8V524.7H586.1V523.7H587.4V524.2H588.7V525.2H590.0V525.3H591.3V523.2H592.6V524.6H593.9V523.7H595.2V525.0H596.5V524.7H597.8V525.8H599.1V527.4H600.4V529.1H601.7V531.9H603.0V536.3V536.3H601.7V537.1H600.4V537.7H599.1V539.6H597.8V540.1H596.5V537.9H595.2V538.2H593.9V538.6H592.6V537.5H591.3V538.3H590.0V539.1H588.7V538.7H587.4V537.6H586.1V538.0H584.8V537.9H583.5V538.6H582.2V537.9H580.9V537.7H579.6V537.0H578.3V536.9H577.0V535.6H575.7V535.3H574.4V535.0H573.1V534.8H571.8V535.1H570.5V535.3H569.2V534.9H567.9V534.4H566.6V534.1H565.3V534.3H564.0V534.1H562.7V534.0H561.4V533.8H560.1V534.0H558.8V534.9H557.5V533.1H556.2V533.2H554.9V533.3H553.6V533.0H552.3V534.5H551.0V533.8H549.7V533.2H548.4V533.6H547.1V533.7H545.8V533.9H544.5V534.2H543.2V534.5H541.9V534.7H540.6V534.8H539.3V534.9H538.0V535.1H536.7V536.3H535.4V533.7H534.1V536.7H532.8V536.1H531.5V536.0H530.2V535.4H528.9V536.2H527.6V535.2H526.3V535.0H525.0V535.6H523.7V534.5H522.4V532.5H521.1V534.7H519.8V535.1H518.5V534.7H517.2V534.1H515.9V532.8H514.6V531.9H513.3V532.7H512.0V532.3H510.7V531.6H509.4V531.2H508.1V530.7H506.8V530.0H505.5V529.4H504.2V528.4H502.9V527.6H501.6V526.9H500.3V526.0H499.0V525.3H497.7V524.8H496.4V525.1H495.1V523.4H493.8V522.8H492.5V521.5H491.2V520.8H489.9V521.1H488.6V520.6H487.3V520.1H486.0V519.4H484.7V518.9H483.4V518.9H482.1V518.4H480.8V518.1H479.5V518.4H478.2V518.1H476.9V516.1H475.6V517.1H474.3V516.2H473.0V515.9H471.7V515.3H470.4V513.4H469.1V514.9H467.8V513.4H466.5V511.8H465.2V513.5H463.9V513.1H462.6V511.6H461.3V511.1H460.0V512.6H458.7V512.4H457.4V512.0H456.1V510.6H454.8V509.7H453.5V509.6H452.2V509.5H450.9V509.9H449.6V509.7H448.3V509.7H447.0V511.8H445.7V510.0H444.4V509.8H443.1V509.9H441.8V509.8H440.5V509.7H439.2V509.6H437.9V510.7H436.6V509.1H435.3V509.1H434.0V510.0H432.7V510.9H431.4V510.9H430.1V509.9H428.8V509.5H427.5V509.4H426.2V509.9H424.9V509.9H423.6V509.9H422.3V509.7H421.0V509.6H419.7V509.8H418.4V509.8H417.1V507.7H415.8V507.8H414.5Z" fill="#0000ff" fill-opacity="0.27"/>
<path d="M430.0,495.3h1.5V510.3h-1.5ZM457.3,497.4h1.5V512.3h-1.5ZM484.7,505.8h1.5V520.7h-1.5ZM512.1,518.2h1.5V533.1h-1.5ZM539.4,521.1h1.5V535.9h-1.5ZM566.8,520.3h1.5V535.0h-1.5ZM594.2,524.4h1.5V539.1h-1.5Z" fill="#0000ff" fill-opacity="0.16"/>
<path d="M414.5,498.4H415.8V498.5H417.1V499.1H418.4V499.1H419.7V499.1H421.0V499.4H422.3V500.0H423.6V499.8H424.9V498.8H426.2V499.2H427.5V499.2H428.8V499.6H430.1V499.8H431.4V499.8H432.7V499.9H434.0V499.6H435.3V499.2H436.6V500.6H437.9V498.9H439.2V499.3H440.5V499.3H441.8V500.0H443.1V499.4H444.4V498.5H445.7V499.8H447.0V500.1H448.3V499.1H449.6V500.2H450.9V500.1H452.2V500.5H453.5V501.2H454.8V500.1H456.1V501.7H457.4V501.5H458.7V502.0H460.0V501.9H461.3V502.6H462.6V502.4H463.9V502.9H465.2V503.4H466.5V504.2H467.8V504.7H469.1V505.1H470.4V505.6H471.7V506.1H473.0V506.3H474.3V507.0H475.6V506.9H476.9V507.4H478.2V507.5H479.5V508.3H480.8V509.4H482.1V507.9H483.4V508.4H484.7V510.5H486.0V510.2H487.3V511.1H488.6V511.4H489.9V512.1H491.2V512.0H492.5V512.5H493.8V513.1H495.1V513.8H496.4V514.5H497.7V513.4H499.0V513.8H500.3V517.6H501.6V517.3H502.9V518.2H504.2V518.3H505.5V520.1H506.8V521.3H508.1V521.4H509.4V520.5H510.7V520.9H512.0V521.4H513.3V521.9H514.6V522.2H515.9V523.1H517.2V523.3H518.5V522.5H519.8V523.5H521.1V523.4H522.4V524.2H523.7V524.4H525.0V524.8H526.3V526.2H527.6V525.0H528.9V526.7H530.2V524.9H531.5V524.7H532.8V524.9H534.1V525.0H535.4V525.8H536.7V525.7H538.0V525.5H539.3V525.6H540.6V525.9H541.9V525.2H543.2V524.5H544.5V524.1H545.8V523.8H547.1V524.1H548.4V523.9H549.7V522.9H551.0V524.4H552.3V524.2H553.6V524.4H554.9V523.4H556.2V523.1H557.5V524.1H558.8V523.0H560.1V524.0H561.4V524.1H562.7V523.8H564.0V524.5H565.3V525.5H566.6V524.6H567.9V524.3H569.2V524.4H570.5V525.5H571.8V525.9H573.1V526.0H574.4V526.0H575.7V526.4H577.0V527.3H578.3V527.3H579.6V527.5H580.9V527.1H582.2V527.6H583.5V527.4H584.8V527.3H586.1V527.6H587.4V527.8H588.7V527.1H590.0V527.7H591.3V527.5H592.6V527.4H593.9V527.6H595.2V527.7H596.5V528.1H597.8V528.3H599.1V529.3H600.4V530.5H601.7V533.0H603.0V535.5V535.5H601.7V534.9H600.4V534.5H599.1V534.6H597.8V534.2H596.5V534.4H595.2V534.3H593.9V534.2H592.6V534.3H591.3V534.2H590.0V534.1H588.7V533.9H587.4V533.8H586.1V533.7H584.8V535.1H583.5V534.2H582.2V534.9H580.9V532.8H579.6V533.0H578.3V533.2H577.0V533.0H575.7V533.5H574.4V531.7H573.1V531.7H571.8V533.0H570.5V531.8H569.2V531.7H567.9V531.8H566.6V531.6H565.3V530.9H564.0V530.7H562.7V530.3H561.4V530.3H560.1V530.1H558.8V530.2H557.5V530.4H556.2V530.4H554.9V530.3H553.6V529.8H552.3V529.9H551.0V530.4H549.7V528.6H548.4V530.6H547.1V530.3H545.8V530.1H544.5V530.6H543.2V531.9H541.9V531.5H540.6V531.3H539.3V530.6H538.0V530.7H536.7V530.9H535.4V530.9H534.1V532.1H532.8V531.0H531.5V532.1H530.2V531.6H528.9V531.7H527.6V531.6H526.3V530.5H525.0V530.0H523.7V530.6H522.4V529.8H521.1V529.8H519.8V529.2H518.5V528.9H517.2V528.1H515.9V528.3H514.6V528.4H513.3V528.3H512.0V526.9H510.7V526.6H509.4V526.7H508.1V527.1H506.8V526.0H505.5V525.5H504.2V524.9H502.9V524.0H501.6V522.6H500.3V521.8H499.0V521.1H497.7V520.6H496.4V519.2H495.1V520.8H493.8V520.2H492.5V520.4H491.2V518.4H489.9V517.5H488.6V516.7H487.3V517.1H486.0V515.7H484.7V516.6H483.4V515.2H482.1V515.7H480.8V514.1H479.5V515.1H478.2V513.7H476.9V513.2H475.6V513.9H474.3V513.5H473.0V511.4H471.7V509.7H470.4V511.3H469.1V510.9H467.8V510.9H466.5V509.5H465.2V508.8H463.9V508.7H462.6V508.5H461.3V508.5H460.0V508.4H458.7V508.1H457.4V507.6H456.1V508.5H454.8V507.3H453.5V507.0H452.2V506.8H450.9V507.8H449.6V506.8H448.3V506.3H447.0V506.6H445.7V506.5H444.4V506.3H443.1V507.1H441.8V506.4H440.5V506.2H439.2V506.1H437.9V506.4H436.6V506.2H435.3V506.1H434.0V506.1H432.7V506.3H431.4V506.6H430.1V506.2H428.8V506.6H427.5V506.3H426.2V506.8H424.9V505.4H423.6V505.6H422.3V505.2H421.0V504.3H419.7V504.7H418.4V505.0H417.1V504.4H415.8V503.6H414.5Z" fill="#0000ff" fill-opacity="0.44"/>
<path d="M430.0,499.0h1.5V506.7h-1.5ZM457.3,501.0h1.5V508.7h-1.5ZM484.7,509.4h1.5V517.0h-1.5ZM512.1,521.8h1.5V529.4h-1.5ZM539.4,524.7h1.5V532.3h-1.5ZM566.8,523.9h1.5V531.4h-1.5ZM594.2,528.0h1.5V535.5h-1.5Z" fill="#0000ff" fill-opacity="0.26"/>
<path d="M601.7,534.1L602.2,527.3L602.7,520.9L603.2,515.0L603.6,509.9L604.1,505.1L604.6,500.7L605.1,496.5L605.6,492.5L606.0,488.5L606.5,484.5L607.0,480.7L607.5,476.9L608.0,473.3L608.4,469.7L608.9,466.1L609.4,462.6L609.9,459.2L610.4,455.8L610.8,452.5L611.3,449.1L611.8,445.6L612.3,442.1L612.8,438.5L613.2,435.1L613.7,431.7L614.2,428.5L614.7,425.3L615.2,422.1L615.6,419.1L616.1,416.2L616.6,413.6L617.1,411.2L617.6,408.8L618.0,406.5L618.5,404.4L619.0,402.5L619.5,400.9L620.0,399.3L620.4,397.8L620.9,396.3L621.4,395.0L621.9,393.8L622.4,392.9L622.8,392.3L623.3,392.0L623.8,391.9L623.9,391.9" fill="none" stroke="#0000ff" stroke-opacity="0.28" stroke-width="3.2" stroke-linejoin="round"/>
<path d="M601.7,534.1L602.2,527.3L602.7,520.9L603.2,515.0L603.6,509.9L604.1,505.1L604.6,500.7L605.1,496.5L605.6,492.5L606.0,488.5L606.5,484.5L607.0,480.7L607.5,476.9L608.0,473.3L608.4,469.7L608.9,466.1L609.4,462.6L609.9,459.2L610.4,455.8L610.8,452.5L611.3,449.1L611.8,445.6L612.3,442.1L612.8,438.5L613.2,435.1L613.7,431.7L614.2,428.5L614.7,425.3L615.2,422.1L615.6,419.1L616.1,416.2L616.6,413.6L617.1,411.2L617.6,408.8L618.0,406.5L618.5,404.4L619.0,402.5L619.5,400.9L620.0,399.3L620.4,397.8L620.9,396.3L621.4,395.0L621.9,393.8L622.4,392.9L622.8,392.3L623.3,392.0L623.8,391.9L623.9,391.9" fill="none" stroke="#0000ff" stroke-opacity="0.46" stroke-width="1.8" stroke-linejoin="round"/>
<path d="M435.7,498.7L440.4,503.5L435.7,508.2L430.9,503.5Z" fill="none" stroke="#000" stroke-width="1.95"/>
<circle cx="435.2" cy="502.9" r="1.3" fill="#000"/>
<path d="M460.7,494.9L465.5,499.7L460.7,504.4L456.0,499.7Z" fill="none" stroke="#000" stroke-width="1.95"/>
<circle cx="460.2" cy="499.1" r="1.3" fill="#000"/>
<path d="M485.8,502.6L490.6,507.4L485.8,512.1L481.1,507.4Z" fill="none" stroke="#000" stroke-width="1.95"/>
<circle cx="485.3" cy="506.8" r="1.3" fill="#000"/>
<path d="M516.2,520.4L520.9,525.2L516.2,529.9L511.4,525.2Z" fill="none" stroke="#000" stroke-width="1.95"/>
<circle cx="515.7" cy="524.6" r="1.3" fill="#000"/>
<path d="M531.0,529.2L535.8,534.0L531.0,538.7L526.3,534.0Z" fill="none" stroke="#000" stroke-width="1.95"/>
<circle cx="530.5" cy="533.4" r="1.3" fill="#000"/>
<path d="M546.6,525.3L551.3,530.1L546.6,534.8L541.8,530.1Z" fill="none" stroke="#000" stroke-width="1.95"/>
<circle cx="546.1" cy="529.5" r="1.3" fill="#000"/>
<path d="M561.1,518.5L565.9,523.2L561.1,528.0L556.4,523.2Z" fill="none" stroke="#000" stroke-width="1.95"/>
<circle cx="560.6" cy="522.6" r="1.3" fill="#000"/>
<path d="M571.6,525.3L576.4,530.1L571.6,534.8L566.9,530.1Z" fill="none" stroke="#000" stroke-width="1.95"/>
<circle cx="571.1" cy="529.5" r="1.3" fill="#000"/>
<path d="M582.1,522.6L586.8,527.4L582.1,532.1L577.3,527.4Z" fill="none" stroke="#000" stroke-width="1.95"/>
<circle cx="581.6" cy="526.8" r="1.3" fill="#000"/>
<path d="M591.5,525.3L596.3,530.1L591.5,534.8L586.8,530.1Z" fill="none" stroke="#000" stroke-width="1.95"/>
<circle cx="591.0" cy="529.5" r="1.3" fill="#000"/>
<path d="M602.1,535.8L606.9,540.6L602.1,545.3L597.4,540.6Z" fill="none" stroke="#000" stroke-width="1.95"/>
<circle cx="601.6" cy="540.0" r="1.3" fill="#000"/>
<path d="M615.5,453.1L620.3,457.8L615.5,462.6L610.8,457.8Z" fill="none" stroke="#000" stroke-width="1.95"/>
<circle cx="615.0" cy="457.2" r="1.3" fill="#000"/>
<path d="M640.0,387.1L644.7,391.9L640.0,396.6L635.2,391.9Z" fill="none" stroke="#000" stroke-width="1.95"/>
<circle cx="639.5" cy="391.3" r="1.3" fill="#000"/>
<path d="M644.2,387.1L648.9,391.9L644.2,396.6L639.4,391.9Z" fill="none" stroke="#000" stroke-width="1.95"/>
<circle cx="643.7" cy="391.3" r="1.3" fill="#000"/>
<path d="M649.6,387.1L654.3,391.9L649.6,396.6L644.8,391.9Z" fill="none" stroke="#000" stroke-width="1.95"/>
<circle cx="649.1" cy="391.3" r="1.3" fill="#000"/>
</g>
<rect x="414.5" y="391.9" width="240.10" height="244.10" fill="none" stroke="#000" stroke-width="1.6"/>
<path d="M414.50,636.0v6.9M474.92,636.0v6.9M534.55,636.0v6.9M594.98,636.0v6.9M654.60,636.0v6.9M414.5,636.00h-6.9M414.5,587.18h-6.9M414.5,538.36h-6.9M414.5,489.54h-6.9M414.5,440.72h-6.9M414.5,391.90h-6.9" stroke="#000" stroke-width="1.6" fill="none"/>
<g font-size="18.08">
<text x="414.50" y="663.3" text-anchor="middle">0</text>
<text x="474.52" y="663.3" text-anchor="middle">50</text>
<text x="534.55" y="663.3" text-anchor="middle">100</text>
<text x="594.58" y="663.3" text-anchor="middle">150</text>
<text x="654.60" y="663.3" text-anchor="middle">200</text>
<text x="400.90" y="642.30" text-anchor="end" letter-spacing="-0.35">0.0</text>
<text x="400.90" y="593.48" text-anchor="end" letter-spacing="-0.35">0.2</text>
<text x="400.90" y="544.66" text-anchor="end" letter-spacing="-0.35">0.4</text>
<text x="400.90" y="495.84" text-anchor="end" letter-spacing="-0.35">0.6</text>
<text x="400.90" y="447.02" text-anchor="end" letter-spacing="-0.35">0.8</text>
<text x="400.90" y="398.20" text-anchor="end" letter-spacing="-0.35">1.0</text>
<text transform="translate(360.90,515.95) rotate(-90)" text-anchor="middle" letter-spacing="-1.3">SF</text>
</g>
<text transform="translate(534.25,380.70) scale(1,1.06)" font-size="21.7" text-anchor="middle">3.0 Gy</text>
<g clip-path="url(#c5)">
<path d="M760.0,527.9H761.3V526.3H762.6V526.3H763.9V526.2H765.2V527.2H766.5V525.7H767.8V528.4H769.1V528.4H770.4V526.6H771.7V526.7H773.0V528.5H774.3V526.5H775.6V529.0H776.9V526.1H778.2V528.8H779.5V528.4H780.8V528.2H782.1V528.3H783.4V531.9H784.7V532.1H786.0V528.3H787.3V529.0H788.7V529.1H790.0V529.3H791.3V528.6H792.6V528.6H793.9V528.8H795.2V528.6H796.5V530.5H797.8V530.8H799.1V530.5H800.4V529.8H801.7V531.0H803.0V531.1H804.3V530.9H805.6V531.5H806.9V533.8H808.2V531.7H809.5V532.6H810.8V533.4H812.1V534.0H813.4V534.2H814.7V534.5H816.0V534.9H817.3V532.4H818.6V535.3H819.9V533.8H821.2V534.6H822.5V534.9H823.8V537.4H825.1V538.5H826.4V535.8H827.7V536.2H829.0V536.6H830.3V538.3H831.6V538.8H832.9V538.6H834.2V539.1H835.5V539.8H836.8V540.6H838.1V541.4H839.4V542.8H840.7V543.5H842.0V543.4H843.3V544.3H844.6V546.3H846.0V547.4H847.3V548.8H848.6V549.7H849.9V550.0H851.2V550.4H852.5V549.1H853.8V549.9H855.1V553.5H856.4V551.9H857.7V552.4H859.0V553.7H860.3V554.9H861.6V554.5H862.9V554.7H864.2V555.8H865.5V556.0H866.8V555.2H868.1V556.0H869.4V555.2H870.7V555.3H872.0V555.5H873.3V554.1H874.6V555.8H875.9V556.6H877.2V556.7H878.5V556.8H879.8V556.8H881.1V555.9H882.4V557.7H883.7V557.8H885.0V557.6H886.3V555.4H887.6V555.5H888.9V555.6H890.2V558.5H891.5V558.6H892.8V558.4H894.1V556.4H895.4V556.6H896.7V556.7H898.0V557.5H899.3V557.5H900.6V557.6H902.0V557.7H903.3V558.9H904.6V559.0H905.9V558.6H907.2V558.6H908.5V558.7H909.8V558.8H911.1V558.9H912.4V556.1H913.7V558.6H915.0V558.5H916.3V559.5H917.6V559.6H918.9V559.1H920.2V561.1H921.5V558.7H922.8V558.7H924.1V557.3H925.4V557.4H926.7V558.7H928.0V558.7H929.3V558.4H930.6V558.5H931.9V558.5H933.2V558.4H934.5V559.7H935.8V561.1H937.1V559.8H938.4V560.4H939.7V558.8H941.0V557.5H942.3V557.5H943.6V560.1H944.9V561.2H946.2V566.7H947.5V569.7H948.8V575.6V575.6H947.5V576.7H946.2V577.9H944.9V576.5H943.6V576.9H942.3V579.7H941.0V578.5H939.7V581.3H938.4V581.2H937.1V579.5H935.8V579.5H934.5V580.4H933.2V580.4H931.9V580.3H930.6V578.4H929.3V580.2H928.0V580.2H926.7V580.4H925.4V581.1H924.1V580.0H922.8V578.0H921.5V579.6H920.2V580.8H918.9V579.7H917.6V579.7H916.3V579.6H915.0V579.3H913.7V579.3H912.4V578.9H911.1V578.8H909.8V579.3H908.5V579.2H907.2V579.1H905.9V578.5H904.6V577.1H903.3V577.4H902.0V580.0H900.6V579.9H899.3V579.9H898.0V579.8H896.7V579.7H895.4V577.8H894.1V577.7H892.8V578.1H891.5V576.9H890.2V577.4H888.9V577.3H887.6V578.8H886.3V578.7H885.0V578.6H883.7V577.2H882.4V577.2H881.1V576.1H879.8V576.1H878.5V576.6H877.2V576.7H875.9V578.7H874.6V576.6H873.3V576.5H872.0V576.4H870.7V574.8H869.4V574.6H868.1V575.8H866.8V575.7H865.5V575.5H864.2V575.3H862.9V575.1H861.6V576.2H860.3V575.2H859.0V574.9H857.7V575.8H856.4V573.6H855.1V573.2H853.8V571.8H852.5V572.1H851.2V571.3H849.9V569.3H848.6V570.3H847.3V569.4H846.0V567.3H844.6V564.9H843.3V564.0H842.0V564.7H840.7V565.0H839.4V562.7H838.1V561.9H836.8V562.2H835.5V561.5H834.2V561.6H832.9V558.3H831.6V557.0H830.3V558.7H829.0V560.8H827.7V558.2H826.4V557.5H825.1V556.9H823.8V556.5H822.5V556.1H821.2V556.3H819.9V556.5H818.6V555.3H817.3V555.0H816.0V555.4H814.7V555.1H813.4V554.9H812.1V555.4H810.8V554.9H809.5V554.8H808.2V554.6H806.9V554.5H805.6V553.1H804.3V552.9H803.0V552.8H801.7V552.4H800.4V551.5H799.1V550.8H797.8V553.0H796.5V553.7H795.2V551.1H793.9V551.0H792.6V550.8H791.3V550.8H790.0V550.6H788.7V551.1H787.3V552.3H786.0V551.9H784.7V550.9H783.4V551.5H782.1V550.4H780.8V550.3H779.5V550.2H778.2V549.1H776.9V547.8H775.6V549.7H774.3V550.3H773.0V551.2H771.7V549.5H770.4V549.5H769.1V548.3H767.8V548.3H766.5V549.6H765.2V550.2H763.9V551.8H762.6V550.5H761.3V549.5H760.0Z" fill="#0000ff" fill-opacity="0.3"/>
<path d="M766.3,525.9h1.5V550.2h-1.5ZM793.8,528.8h1.5V552.8h-1.5ZM821.2,534.2h1.5V557.8h-1.5ZM848.6,548.5h1.5V571.7h-1.5ZM876.0,555.4h1.5V578.3h-1.5ZM903.4,557.2h1.5V579.7h-1.5ZM930.8,558.4h1.5V580.6h-1.5Z" fill="#0000ff" fill-opacity="0.18"/>
<path d="M760.0,530.4H761.3V529.6H762.6V529.6H763.9V530.8H765.2V530.8H766.5V530.9H767.8V530.3H769.1V530.2H770.4V531.6H771.7V530.4H773.0V530.9H774.3V529.9H775.6V530.9H776.9V531.1H778.2V531.3H779.5V531.5H780.8V531.7H782.1V532.0H783.4V531.1H784.7V531.1H786.0V531.2H787.3V532.8H788.7V532.1H790.0V533.1H791.3V534.0H792.6V532.8H793.9V533.4H795.2V533.5H796.5V534.0H797.8V534.1H799.1V535.1H800.4V534.5H801.7V533.7H803.0V535.7H804.3V535.9H805.6V536.2H806.9V533.8H808.2V534.2H809.5V534.6H810.8V536.5H812.1V536.8H813.4V537.0H814.7V536.1H816.0V536.0H817.3V537.8H818.6V539.8H819.9V538.9H821.2V537.3H822.5V539.0H823.8V539.3H825.1V540.4H826.4V539.9H827.7V539.8H829.0V542.0H830.3V542.0H831.6V540.3H832.9V540.8H834.2V544.1H835.5V543.4H836.8V545.8H838.1V545.0H839.4V545.3H840.7V546.2H842.0V548.4H843.3V549.3H844.6V550.5H846.0V550.7H847.3V551.5H848.6V553.2H849.9V554.1H851.2V554.4H852.5V555.1H853.8V554.4H855.1V555.6H856.4V556.2H857.7V556.8H859.0V557.9H860.3V557.6H861.6V558.2H862.9V558.4H864.2V559.2H865.5V558.8H866.8V558.8H868.1V560.2H869.4V560.5H870.7V559.4H872.0V558.9H873.3V559.7H874.6V559.9H875.9V559.6H877.2V560.0H878.5V560.1H879.8V560.1H881.1V560.2H882.4V561.4H883.7V561.8H885.0V560.6H886.3V560.5H887.6V559.4H888.9V559.6H890.2V561.1H891.5V562.2H892.8V561.8H894.1V561.8H895.4V560.2H896.7V560.3H898.0V562.5H899.3V563.0H900.6V561.6H902.0V560.2H903.3V560.3H904.6V560.4H905.9V562.8H907.2V562.3H908.5V563.4H909.8V562.1H911.1V561.5H912.4V562.6H913.7V562.7H915.0V562.1H916.3V562.2H917.6V562.2H918.9V563.1H920.2V561.3H921.5V562.3H922.8V562.3H924.1V562.3H925.4V562.1H926.7V563.0H928.0V563.4H929.3V563.4H930.6V562.8H931.9V562.7H933.2V562.8H934.5V562.8H935.8V563.0H937.1V563.5H938.4V562.9H939.7V562.9H941.0V564.2H942.3V564.3H943.6V565.3H944.9V565.2H946.2V569.4H947.5V570.6H948.8V575.0V575.0H947.5V573.5H946.2V573.7H944.9V574.0H943.6V574.1H942.3V575.1H941.0V576.9H939.7V576.9H938.4V575.9H937.1V575.8H935.8V575.8H934.5V575.8H933.2V575.7H931.9V574.2H930.6V575.8H929.3V575.8H928.0V575.9H926.7V575.8H925.4V576.0H924.1V576.0H922.8V575.5H921.5V575.4H920.2V574.7H918.9V575.2H917.6V575.2H916.3V575.1H915.0V576.6H913.7V575.0H912.4V577.5H911.1V577.6H909.8V575.0H908.5V575.8H907.2V575.7H905.9V576.1H904.6V574.3H903.3V574.2H902.0V574.9H900.6V574.5H899.3V574.5H898.0V574.5H896.7V574.5H895.4V574.8H894.1V574.0H892.8V575.9H891.5V573.2H890.2V573.1H888.9V572.9H887.6V573.8H886.3V573.9H885.0V573.6H883.7V573.4H882.4V573.3H881.1V573.2H879.8V573.3H878.5V574.4H877.2V572.8H875.9V572.6H874.6V572.9H873.3V572.9H872.0V572.7H870.7V573.3H869.4V573.2H868.1V572.4H866.8V572.0H865.5V573.2H864.2V571.8H862.9V573.1H861.6V573.4H860.3V573.1H859.0V572.5H857.7V570.4H856.4V569.7H855.1V569.6H853.8V568.6H852.5V567.9H851.2V566.0H849.9V565.2H848.6V565.3H847.3V564.5H846.0V562.7H844.6V562.3H843.3V560.0H842.0V559.7H840.7V558.9H839.4V559.7H838.1V558.9H836.8V557.6H835.5V556.2H834.2V555.8H832.9V555.3H831.6V555.9H830.3V553.2H829.0V553.8H827.7V553.5H826.4V553.1H825.1V553.5H823.8V553.2H822.5V551.6H821.2V552.3H819.9V552.8H818.6V551.6H817.3V552.5H816.0V552.1H814.7V551.8H813.4V550.2H812.1V550.7H810.8V549.2H809.5V550.1H808.2V549.4H806.9V549.2H805.6V548.9H804.3V548.7H803.0V548.8H801.7V548.6H800.4V548.1H799.1V549.2H797.8V549.1H796.5V547.1H795.2V547.3H793.9V548.6H792.6V547.2H791.3V547.7H790.0V547.6H788.7V548.4H787.3V548.3H786.0V548.2H784.7V548.2H783.4V546.8H782.1V546.6H780.8V546.4H779.5V545.0H778.2V544.8H776.9V545.2H775.6V545.2H774.3V544.3H773.0V545.7H771.7V545.6H770.4V546.2H769.1V546.3H767.8V544.4H766.5V544.3H765.2V545.3H763.9V545.2H762.6V545.4H761.3V545.3H760.0Z" fill="#0000ff" fill-opacity="0.27"/>
<path d="M766.3,530.3h1.5V545.8h-1.5ZM793.8,533.1h1.5V548.4h-1.5ZM821.2,538.5h1.5V553.5h-1.5ZM848.6,552.7h1.5V567.5h-1.5ZM876.0,559.6h1.5V574.2h-1.5ZM903.4,561.3h1.5V575.6h-1.5ZM930.8,562.5h1.5V576.6h-1.5Z" fill="#0000ff" fill-opacity="0.16"/>
<path d="M760.0,535.0H761.3V535.1H762.6V535.0H763.9V536.2H765.2V536.0H766.5V536.2H767.8V536.4H769.1V534.1H770.4V533.9H771.7V535.2H773.0V535.1H774.3V535.5H775.6V535.8H776.9V536.0H778.2V535.4H779.5V535.6H780.8V536.6H782.1V537.1H783.4V536.4H784.7V536.2H786.0V536.2H787.3V536.2H788.7V535.6H790.0V537.2H791.3V536.4H792.6V536.7H793.9V537.0H795.2V537.1H796.5V537.8H797.8V535.7H799.1V535.4H800.4V535.8H801.7V536.5H803.0V537.1H804.3V537.4H805.6V537.7H806.9V538.1H808.2V538.7H809.5V540.0H810.8V540.2H812.1V540.3H813.4V540.5H814.7V541.0H816.0V542.0H817.3V542.5H818.6V542.6H819.9V542.4H821.2V542.0H822.5V542.0H823.8V543.5H825.1V542.7H826.4V544.5H827.7V544.7H829.0V545.2H830.3V545.9H831.6V546.2H832.9V546.2H834.2V546.2H835.5V548.4H836.8V548.7H838.1V549.6H839.4V550.3H840.7V550.6H842.0V551.3H843.3V553.1H844.6V552.4H846.0V555.1H847.3V556.4H848.6V556.0H849.9V557.1H851.2V558.1H852.5V558.1H853.8V558.3H855.1V558.8H856.4V560.6H857.7V561.3H859.0V561.5H860.3V563.0H861.6V562.9H862.9V562.4H864.2V563.1H865.5V562.7H866.8V563.0H868.1V562.3H869.4V562.3H870.7V564.4H872.0V564.7H873.3V564.7H874.6V563.8H875.9V563.8H877.2V563.9H878.5V564.1H879.8V563.9H881.1V564.0H882.4V564.6H883.7V564.5H885.0V564.6H886.3V562.8H887.6V564.1H888.9V565.5H890.2V565.5H891.5V565.8H892.8V564.9H894.1V564.8H895.4V565.2H896.7V564.6H898.0V563.9H899.3V563.7H900.6V564.3H902.0V565.6H903.3V565.6H904.6V564.4H905.9V565.1H907.2V564.9H908.5V566.0H909.8V566.6H911.1V564.4H912.4V565.7H913.7V565.9H915.0V566.1H916.3V566.8H917.6V566.5H918.9V566.6H920.2V565.4H921.5V566.5H922.8V566.5H924.1V565.4H925.4V565.7H926.7V566.2H928.0V565.9H929.3V564.6H930.6V566.6H931.9V565.3H933.2V565.9H934.5V566.7H935.8V566.8H937.1V565.8H938.4V567.0H939.7V566.9H941.0V566.0H942.3V566.7H943.6V566.6H944.9V567.6H946.2V568.9H947.5V571.7H948.8V573.9V573.9H947.5V574.2H946.2V573.4H944.9V572.3H943.6V573.3H942.3V571.7H941.0V573.3H939.7V573.4H938.4V572.1H937.1V573.1H935.8V571.2H934.5V570.5H933.2V572.9H931.9V572.9H930.6V571.1H929.3V571.2H928.0V572.5H926.7V572.9H925.4V572.1H924.1V571.2H922.8V571.2H921.5V572.6H920.2V572.8H918.9V571.2H917.6V571.0H916.3V572.3H915.0V572.6H913.7V572.4H912.4V572.0H911.1V572.5H909.8V572.3H908.5V572.2H907.2V571.4H905.9V571.1H904.6V570.7H903.3V571.4H902.0V570.9H900.6V570.7H899.3V570.6H898.0V571.3H896.7V571.6H895.4V571.1H894.1V570.3H892.8V571.1H891.5V571.3H890.2V570.5H888.9V570.0H887.6V569.0H886.3V569.4H885.0V571.2H883.7V569.5H882.4V569.3H881.1V570.4H879.8V570.8H878.5V572.1H877.2V572.1H875.9V571.1H874.6V569.7H873.3V569.5H872.0V569.3H870.7V569.8H869.4V568.7H868.1V569.9H866.8V570.0H865.5V569.7H864.2V569.4H862.9V568.8H861.6V568.5H860.3V568.2H859.0V568.4H857.7V565.3H856.4V566.3H855.1V565.9H853.8V565.0H852.5V564.3H851.2V563.4H849.9V563.0H848.6V560.4H847.3V560.2H846.0V559.3H844.6V558.4H843.3V558.1H842.0V558.4H840.7V557.3H839.4V556.5H838.1V554.9H836.8V554.7H835.5V553.4H834.2V553.2H832.9V552.5H831.6V552.0H830.3V551.8H829.0V551.3H827.7V550.7H826.4V549.0H825.1V549.2H823.8V549.3H822.5V549.0H821.2V549.4H819.9V548.8H818.6V548.6H817.3V548.1H816.0V547.7H814.7V546.7H813.4V547.2H812.1V546.9H810.8V546.9H809.5V547.0H808.2V546.4H806.9V544.6H805.6V544.7H804.3V543.9H803.0V544.1H801.7V544.0H800.4V543.6H799.1V543.4H797.8V543.0H796.5V542.8H795.2V542.7H793.9V544.0H792.6V543.8H791.3V543.9H790.0V542.8H788.7V542.3H787.3V542.6H786.0V543.3H784.7V542.9H783.4V543.1H782.1V542.7H780.8V542.8H779.5V542.7H778.2V542.2H776.9V541.9H775.6V541.7H774.3V541.4H773.0V541.4H771.7V540.9H770.4V542.1H769.1V542.2H767.8V542.1H766.5V541.6H765.2V542.4H763.9V541.7H762.6V541.8H761.3V541.3H760.0Z" fill="#0000ff" fill-opacity="0.44"/>
<path d="M766.3,534.1h1.5V542.0h-1.5ZM793.8,536.9h1.5V544.7h-1.5ZM821.2,542.1h1.5V549.8h-1.5ZM848.6,556.3h1.5V563.9h-1.5ZM876.0,563.1h1.5V570.6h-1.5ZM903.4,564.8h1.5V572.1h-1.5ZM930.8,565.9h1.5V573.2h-1.5Z" fill="#0000ff" fill-opacity="0.26"/>
<path d="M947.5,572.9L948.0,560.6L948.5,550.8L949.0,543.9L949.5,538.0L949.9,532.9L950.4,528.2L950.9,523.5L951.4,518.8L951.9,514.3L952.3,510.1L952.8,505.9L953.3,501.6L953.8,497.1L954.3,492.4L954.7,487.6L955.2,482.6L955.7,477.7L956.2,472.9L956.7,468.1L957.2,463.3L957.6,458.5L958.1,453.6L958.6,448.7L959.1,443.5L959.6,438.2L960.0,433.1L960.5,428.8L961.0,425.0L961.5,421.6L962.0,418.4L962.4,415.4L962.9,412.7L963.4,410.3L963.9,408.0L964.4,405.8L964.8,403.8L965.3,401.9L965.8,400.3L966.3,398.9L966.8,397.7L967.3,396.5L967.7,395.5L968.2,394.5L968.7,393.7L969.2,393.1L969.7,392.5L970.1,392.1L970.4,391.9" fill="none" stroke="#0000ff" stroke-opacity="0.28" stroke-width="3.2" stroke-linejoin="round"/>
<path d="M947.5,572.9L948.0,560.6L948.5,550.8L949.0,543.9L949.5,538.0L949.9,532.9L950.4,528.2L950.9,523.5L951.4,518.8L951.9,514.3L952.3,510.1L952.8,505.9L953.3,501.6L953.8,497.1L954.3,492.4L954.7,487.6L955.2,482.6L955.7,477.7L956.2,472.9L956.7,468.1L957.2,463.3L957.6,458.5L958.1,453.6L958.6,448.7L959.1,443.5L959.6,438.2L960.0,433.1L960.5,428.8L961.0,425.0L961.5,421.6L962.0,418.4L962.4,415.4L962.9,412.7L963.4,410.3L963.9,408.0L964.4,405.8L964.8,403.8L965.3,401.9L965.8,400.3L966.3,398.9L966.8,397.7L967.3,396.5L967.7,395.5L968.2,394.5L968.7,393.7L969.2,393.1L969.7,392.5L970.1,392.1L970.4,391.9" fill="none" stroke="#0000ff" stroke-opacity="0.46" stroke-width="1.8" stroke-linejoin="round"/>
<path d="M780.1,521.6L784.9,526.4L780.1,531.1L775.4,526.4Z" fill="none" stroke="#000" stroke-width="1.95"/>
<circle cx="779.6" cy="525.8" r="1.3" fill="#000"/>
<path d="M806.4,536.3L811.2,541.0L806.4,545.8L801.7,541.0Z" fill="none" stroke="#000" stroke-width="1.95"/>
<circle cx="805.9" cy="540.4" r="1.3" fill="#000"/>
<path d="M831.7,538.5L836.4,543.2L831.7,548.0L826.9,543.2Z" fill="none" stroke="#000" stroke-width="1.95"/>
<circle cx="831.2" cy="542.6" r="1.3" fill="#000"/>
<path d="M862.1,555.8L866.8,560.6L862.1,565.3L857.3,560.6Z" fill="none" stroke="#000" stroke-width="1.95"/>
<circle cx="861.6" cy="560.0" r="1.3" fill="#000"/>
<path d="M876.5,555.8L881.2,560.6L876.5,565.3L871.7,560.6Z" fill="none" stroke="#000" stroke-width="1.95"/>
<circle cx="876.0" cy="560.0" r="1.3" fill="#000"/>
<path d="M891.1,563.6L895.8,568.4L891.1,573.1L886.3,568.4Z" fill="none" stroke="#000" stroke-width="1.95"/>
<circle cx="890.6" cy="567.8" r="1.3" fill="#000"/>
<path d="M906.9,564.7L911.6,569.5L906.9,574.2L902.1,569.5Z" fill="none" stroke="#000" stroke-width="1.95"/>
<circle cx="906.4" cy="568.9" r="1.3" fill="#000"/>
<path d="M917.5,563.4L922.3,568.1L917.5,572.9L912.8,568.1Z" fill="none" stroke="#000" stroke-width="1.95"/>
<circle cx="917.0" cy="567.5" r="1.3" fill="#000"/>
<path d="M926.7,571.3L931.4,576.1L926.7,580.8L921.9,576.1Z" fill="none" stroke="#000" stroke-width="1.95"/>
<circle cx="926.2" cy="575.5" r="1.3" fill="#000"/>
<path d="M937.5,571.3L942.3,576.1L937.5,580.8L932.8,576.1Z" fill="none" stroke="#000" stroke-width="1.95"/>
<circle cx="937.0" cy="575.5" r="1.3" fill="#000"/>
<path d="M948.0,575.6L952.7,580.3L948.0,585.1L943.2,580.3Z" fill="none" stroke="#000" stroke-width="1.95"/>
<circle cx="947.5" cy="579.7" r="1.3" fill="#000"/>
<path d="M961.1,444.9L965.9,449.6L961.1,454.4L956.4,449.6Z" fill="none" stroke="#000" stroke-width="1.95"/>
<circle cx="960.6" cy="449.0" r="1.3" fill="#000"/>
<path d="M984.4,387.1L989.1,391.9L984.4,396.6L979.6,391.9Z" fill="none" stroke="#000" stroke-width="1.95"/>
<circle cx="983.9" cy="391.3" r="1.3" fill="#000"/>
<path d="M989.9,387.1L994.7,391.9L989.9,396.6L985.2,391.9Z" fill="none" stroke="#000" stroke-width="1.95"/>
<circle cx="989.4" cy="391.3" r="1.3" fill="#000"/>
<path d="M994.7,387.1L999.5,391.9L994.7,396.6L990.0,391.9Z" fill="none" stroke="#000" stroke-width="1.95"/>
<circle cx="994.2" cy="391.3" r="1.3" fill="#000"/>
</g>
<rect x="760.0" y="391.9" width="240.50" height="244.10" fill="none" stroke="#000" stroke-width="1.6"/>
<path d="M760.00,636.0v6.9M820.12,636.0v6.9M880.25,636.0v6.9M940.38,636.0v6.9M1000.50,636.0v6.9M760.0,636.00h-6.9M760.0,587.18h-6.9M760.0,538.36h-6.9M760.0,489.54h-6.9M760.0,440.72h-6.9M760.0,391.90h-6.9" stroke="#000" stroke-width="1.6" fill="none"/>
<g font-size="18.08">
<text x="760.00" y="663.3" text-anchor="middle">0</text>
<text x="820.12" y="663.3" text-anchor="middle">50</text>
<text x="880.25" y="663.3" text-anchor="middle">100</text>
<text x="940.38" y="663.3" text-anchor="middle">150</text>
<text x="1000.50" y="663.3" text-anchor="middle">200</text>
<text x="746.40" y="642.30" text-anchor="end" letter-spacing="-0.35">0.0</text>
<text x="746.40" y="593.48" text-anchor="end" letter-spacing="-0.35">0.2</text>
<text x="746.40" y="544.66" text-anchor="end" letter-spacing="-0.35">0.4</text>
<text x="746.40" y="495.84" text-anchor="end" letter-spacing="-0.35">0.6</text>
<text x="746.40" y="447.02" text-anchor="end" letter-spacing="-0.35">0.8</text>
<text x="746.40" y="398.20" text-anchor="end" letter-spacing="-0.35">1.0</text>
<text transform="translate(706.40,515.95) rotate(-90)" text-anchor="middle" letter-spacing="-1.3">SF</text>
</g>
<text transform="translate(879.95,380.70) scale(1,1.06)" font-size="21.7" text-anchor="middle">4.0 Gy</text>
<g clip-path="url(#c6)">
<path d="M69.0,882.5H70.3V881.9H71.6V881.9H72.9V882.3H74.2V880.5H75.5V880.6H76.8V881.0H78.1V882.5H79.4V881.3H80.7V882.2H82.0V882.0H83.3V880.8H84.6V882.3H85.9V882.4H87.2V881.3H88.5V881.4H89.8V882.1H91.1V884.4H92.4V883.6H93.7V883.7H95.0V883.9H96.3V884.0H97.6V884.1H98.9V884.3H100.2V883.4H101.5V884.3H102.8V885.8H104.1V885.0H105.4V883.5H106.7V884.3H108.0V884.3H109.3V886.0H110.6V886.1H111.9V886.4H113.2V886.6H114.5V883.4H115.8V886.4H117.1V886.7H118.4V888.1H119.7V887.2H121.0V887.2H122.3V887.9H123.6V888.3H124.9V889.2H126.2V889.7H127.5V890.5H128.8V890.1H130.1V890.4H131.4V890.9H132.7V890.6H134.0V891.1H135.3V892.2H136.6V892.6H137.9V893.3H139.2V893.6H140.5V894.0H141.8V894.6H143.1V896.7H144.4V895.8H145.7V895.7H147.0V899.0H148.3V899.7H149.6V900.5H150.9V901.0H152.2V901.8H153.5V901.2H154.8V903.8H156.1V903.7H157.4V901.6H158.7V902.9H160.0V903.5H161.3V904.3H162.6V907.0H163.9V904.9H165.3V906.1H166.6V909.5H167.9V909.7H169.2V907.1H170.5V907.1H171.8V907.3H173.1V906.8H174.4V906.1H175.7V904.3H177.0V906.5H178.3V909.1H179.6V906.7H180.9V904.2H182.2V905.7H183.5V905.7H184.8V906.3H186.1V907.6H187.4V908.2H188.7V906.5H190.0V906.4H191.3V905.6H192.6V905.6H193.9V906.1H195.2V907.3H196.5V904.3H197.8V906.6H199.1V905.9H200.4V906.4H201.7V905.7H203.0V905.7H204.3V905.7H205.6V905.7H206.9V905.6H208.2V905.1H209.5V907.3H210.8V906.4H212.1V907.1H213.4V907.1H214.7V906.6H216.0V907.5H217.3V906.0H218.6V906.8H219.9V906.9H221.2V907.6H222.5V907.7H223.8V906.7H225.1V908.0H226.4V906.8H227.7V906.2H229.0V906.1H230.3V906.2H231.6V904.7H232.9V907.6H234.2V908.3H235.5V907.8H236.8V906.8H238.1V905.8H239.4V908.5H240.7V907.1H242.0V907.9H243.3V907.6H244.6V907.1H245.9V909.7H247.2V909.9H248.5V908.8H249.8V908.4H251.1V908.8H252.4V909.9H253.7V912.5H255.0V915.4H256.3V918.5H257.6V922.5V922.5H256.3V923.6H255.0V923.8H253.7V925.6H252.4V925.8H251.1V925.2H249.8V925.1H248.5V925.0H247.2V925.5H245.9V925.4H244.6V923.8H243.3V924.9H242.0V925.4H240.7V924.7H239.4V925.0H238.1V922.6H236.8V924.6H235.5V925.0H234.2V925.1H232.9V925.0H231.6V923.5H230.3V925.0H229.0V923.8H227.7V923.8H226.4V923.8H225.1V923.7H223.8V923.8H222.5V925.3H221.2V924.5H219.9V923.8H218.6V923.2H217.3V923.1H216.0V923.8H214.7V923.8H213.4V923.6H212.1V922.8H210.8V924.1H209.5V923.0H208.2V923.0H206.9V923.0H205.6V922.8H204.3V923.1H203.0V923.1H201.7V923.2H200.4V923.4H199.1V925.1H197.8V924.3H196.5V923.7H195.2V923.7H193.9V923.7H192.6V923.3H191.3V924.1H190.0V924.1H188.7V923.6H187.4V922.9H186.1V923.0H184.8V923.0H183.5V923.1H182.2V925.8H180.9V925.1H179.6V925.1H178.3V925.2H177.0V925.3H175.7V924.8H174.4V925.0H173.1V924.9H171.8V923.5H170.5V922.8H169.2V925.4H167.9V922.2H166.6V921.9H165.3V923.9H163.9V921.9H162.6V923.9H161.3V922.2H160.0V921.6H158.7V919.0H157.4V921.1H156.1V920.7H154.8V916.7H153.5V915.9H152.2V917.7H150.9V916.2H149.6V915.5H148.3V916.1H147.0V915.4H145.7V915.7H144.4V915.1H143.1V913.9H141.8V913.4H140.5V912.9H139.2V910.4H137.9V909.8H136.6V909.4H135.3V909.8H134.0V910.6H132.7V910.2H131.4V907.0H130.1V905.7H128.8V907.7H127.5V906.7H126.2V906.9H124.9V906.5H123.6V907.0H122.3V906.6H121.0V907.0H119.7V905.6H118.4V905.2H117.1V904.9H115.8V904.4H114.5V904.4H113.2V904.1H111.9V904.4H110.6V904.3H109.3V903.4H108.0V902.8H106.7V903.4H105.4V904.4H104.1V903.1H102.8V900.9H101.5V904.3H100.2V901.9H98.9V902.0H97.6V901.1H96.3V902.1H95.0V901.9H93.7V901.6H92.4V901.5H91.1V901.2H89.8V902.4H88.5V903.5H87.2V903.4H85.9V901.6H84.6V901.5H83.3V901.3H82.0V901.2H80.7V901.1H79.4V900.5H78.1V900.4H76.8V901.3H75.5V901.1H74.2V901.1H72.9V901.1H71.6V900.6H70.3V900.3H69.0Z" fill="#0000ff" fill-opacity="0.3"/>
<path d="M94.3,882.1h1.5V902.9h-1.5ZM121.7,886.8h1.5V907.4h-1.5ZM149.1,898.0h1.5V918.2h-1.5ZM176.5,905.6h1.5V925.5h-1.5ZM203.8,905.3h1.5V924.8h-1.5ZM231.2,906.3h1.5V925.4h-1.5Z" fill="#0000ff" fill-opacity="0.18"/>
<path d="M69.0,884.2H70.3V884.3H71.6V884.2H72.9V884.2H74.2V886.0H75.5V883.0H76.8V885.4H78.1V885.4H79.4V885.5H80.7V886.1H82.0V886.3H83.3V885.7H84.6V886.7H85.9V885.4H87.2V885.5H88.5V885.6H89.8V885.7H91.1V885.8H92.4V886.0H93.7V886.2H95.0V885.6H96.3V885.7H97.6V887.0H98.9V887.2H100.2V885.9H101.5V887.6H102.8V887.8H104.1V888.4H105.4V887.4H106.7V887.6H108.0V887.9H109.3V889.1H110.6V889.2H111.9V887.6H113.2V889.7H114.5V889.8H115.8V889.7H117.1V889.9H118.4V890.7H119.7V890.0H121.0V890.8H122.3V891.5H123.6V889.8H124.9V891.3H126.2V893.1H127.5V892.6H128.8V893.3H130.1V892.2H131.4V894.5H132.7V895.0H134.0V895.5H135.3V894.9H136.6V895.5H137.9V895.9H139.2V896.3H140.5V896.9H141.8V898.2H143.1V898.7H144.4V899.1H145.7V898.3H147.0V899.5H148.3V901.3H149.6V902.1H150.9V902.9H152.2V903.6H153.5V904.7H154.8V905.3H156.1V906.0H157.4V906.1H158.7V908.5H160.0V907.9H161.3V907.5H162.6V908.9H163.9V909.0H165.3V909.3H166.6V910.0H167.9V909.2H169.2V909.9H170.5V910.3H171.8V910.4H173.1V910.4H174.4V909.9H175.7V910.7H177.0V909.9H178.3V909.8H179.6V908.0H180.9V909.8H182.2V909.3H183.5V909.6H184.8V910.9H186.1V909.2H187.4V909.2H188.7V908.5H190.0V908.6H191.3V908.2H192.6V910.3H193.9V909.8H195.2V909.8H196.5V907.9H197.8V908.0H199.1V909.7H200.4V909.8H201.7V909.4H203.0V909.4H204.3V908.6H205.6V908.5H206.9V908.9H208.2V908.8H209.5V909.3H210.8V910.5H212.1V910.7H213.4V911.8H214.7V909.1H216.0V909.0H217.3V908.6H218.6V911.2H219.9V910.2H221.2V910.0H222.5V911.1H223.8V911.2H225.1V910.0H226.4V910.1H227.7V910.4H229.0V910.2H230.3V908.8H231.6V909.7H232.9V909.8H234.2V910.6H235.5V910.5H236.8V911.1H238.1V911.0H239.4V909.3H240.7V912.2H242.0V910.5H243.3V910.2H244.6V910.3H245.9V910.3H247.2V909.7H248.5V908.9H249.8V913.4H251.1V911.2H252.4V912.8H253.7V913.3H255.0V915.4H256.3V918.0H257.6V922.0V922.0H256.3V922.9H255.0V922.4H253.7V923.1H252.4V922.4H251.1V921.3H249.8V922.4H248.5V922.2H247.2V922.0H245.9V922.8H244.6V921.7H243.3V922.5H242.0V922.4H240.7V922.3H239.4V922.3H238.1V922.4H236.8V921.8H235.5V921.7H234.2V921.6H232.9V921.2H231.6V920.5H230.3V922.1H229.0V922.0H227.7V922.0H226.4V921.0H225.1V921.5H223.8V921.1H222.5V921.4H221.2V921.9H219.9V921.1H218.6V920.2H217.3V920.2H216.0V920.2H214.7V920.3H213.4V920.2H212.1V920.9H210.8V920.2H209.5V920.8H208.2V920.8H206.9V921.4H205.6V919.7H204.3V921.2H203.0V921.2H201.7V920.5H200.4V920.2H199.1V921.8H197.8V921.1H196.5V921.1H195.2V920.9H193.9V920.9H192.6V920.8H191.3V921.7H190.0V920.3H188.7V920.3H187.4V920.6H186.1V920.6H184.8V922.5H183.5V922.6H182.2V921.6H180.9V921.7H179.6V921.9H178.3V922.4H177.0V922.4H175.7V920.8H174.4V923.0H173.1V921.4H171.8V921.4H170.5V921.8H169.2V921.3H167.9V921.9H166.6V922.0H165.3V920.4H163.9V920.0H162.6V919.6H161.3V920.0H160.0V918.9H158.7V917.9H157.4V918.2H156.1V917.3H154.8V916.9H153.5V914.4H152.2V914.9H150.9V914.0H149.6V913.3H148.3V912.6H147.0V911.8H145.7V910.1H144.4V910.4H143.1V909.7H141.8V909.3H140.5V908.8H139.2V907.9H137.9V906.8H136.6V908.3H135.3V907.8H134.0V907.4H132.7V905.5H131.4V906.8H130.1V904.7H128.8V904.2H127.5V903.8H126.2V903.3H124.9V903.6H123.6V901.4H122.3V901.5H121.0V901.1H119.7V900.8H118.4V900.4H117.1V900.1H115.8V901.6H114.5V900.8H113.2V900.5H111.9V902.4H110.6V902.3H109.3V902.2H108.0V900.6H106.7V899.2H105.4V899.1H104.1V898.8H102.8V899.6H101.5V899.6H100.2V899.3H98.9V899.5H97.6V898.5H96.3V897.4H95.0V899.3H93.7V899.2H92.4V898.3H91.1V898.2H89.8V897.9H88.5V896.8H87.2V896.7H85.9V896.7H84.6V897.4H83.3V899.3H82.0V897.0H80.7V899.2H79.4V898.6H78.1V896.1H76.8V896.8H75.5V896.7H74.2V896.7H72.9V897.2H71.6V896.6H70.3V899.2H69.0Z" fill="#0000ff" fill-opacity="0.27"/>
<path d="M94.3,885.9h1.5V899.2h-1.5ZM121.7,890.6h1.5V903.6h-1.5ZM149.1,901.7h1.5V914.5h-1.5ZM176.5,909.2h1.5V921.8h-1.5ZM203.8,908.9h1.5V921.2h-1.5ZM231.2,909.7h1.5V921.9h-1.5Z" fill="#0000ff" fill-opacity="0.16"/>
<path d="M69.0,889.2H70.3V887.9H71.6V887.6H72.9V887.7H74.2V887.8H75.5V888.1H76.8V887.4H78.1V888.1H79.4V888.3H80.7V887.9H82.0V888.4H83.3V889.1H84.6V889.3H85.9V889.2H87.2V887.1H88.5V888.6H89.8V888.4H91.1V889.4H92.4V889.6H93.7V889.5H95.0V889.9H96.3V889.2H97.6V889.9H98.9V890.0H100.2V890.5H101.5V890.2H102.8V890.6H104.1V889.3H105.4V890.7H106.7V892.0H108.0V892.2H109.3V892.2H110.6V891.1H111.9V891.5H113.2V892.0H114.5V892.0H115.8V893.0H117.1V893.8H118.4V894.5H119.7V894.9H121.0V895.2H122.3V895.0H123.6V895.0H124.9V895.5H126.2V896.0H127.5V896.4H128.8V896.6H130.1V897.1H131.4V897.9H132.7V897.6H134.0V897.8H135.3V899.0H136.6V899.1H137.9V899.5H139.2V899.6H140.5V899.9H141.8V900.1H143.1V901.5H144.4V901.1H145.7V903.0H147.0V904.0H148.3V903.4H149.6V904.9H150.9V905.9H152.2V905.8H153.5V906.8H154.8V907.2H156.1V909.0H157.4V909.3H158.7V909.9H160.0V910.7H161.3V910.2H162.6V910.4H163.9V911.6H165.3V911.3H166.6V912.2H167.9V912.3H169.2V912.3H170.5V912.5H171.8V914.7H173.1V914.5H174.4V912.9H175.7V912.5H177.0V913.3H178.3V913.1H179.6V911.9H180.9V911.6H182.2V910.9H183.5V911.9H184.8V912.9H186.1V912.9H187.4V912.0H188.7V913.1H190.0V913.4H191.3V912.1H192.6V912.7H193.9V911.7H195.2V912.6H196.5V912.5H197.8V913.0H199.1V912.0H200.4V912.9H201.7V912.9H203.0V912.9H204.3V912.6H205.6V912.5H206.9V913.5H208.2V912.8H209.5V912.7H210.8V912.4H212.1V913.0H213.4V912.6H214.7V912.8H216.0V912.8H217.3V913.0H218.6V913.1H219.9V913.2H221.2V912.8H222.5V912.5H223.8V912.7H225.1V912.4H226.4V912.3H227.7V912.2H229.0V912.6H230.3V912.9H231.6V913.0H232.9V913.2H234.2V913.5H235.5V913.6H236.8V914.9H238.1V914.5H239.4V912.9H240.7V913.1H242.0V913.3H243.3V913.1H244.6V913.1H245.9V912.9H247.2V912.8H248.5V914.1H249.8V914.5H251.1V914.5H252.4V916.2H253.7V917.3H255.0V918.1H256.3V919.1H257.6V921.2V921.2H256.3V921.4H255.0V920.7H253.7V920.3H252.4V919.6H251.1V919.7H249.8V919.1H248.5V918.7H247.2V918.2H245.9V918.7H244.6V918.0H243.3V919.0H242.0V918.8H240.7V918.1H239.4V918.9H238.1V919.4H236.8V918.2H235.5V918.4H234.2V918.0H232.9V918.5H231.6V916.9H230.3V917.0H229.0V916.7H227.7V918.2H226.4V918.3H225.1V918.6H223.8V917.9H222.5V916.5H221.2V917.0H219.9V918.7H218.6V918.6H217.3V918.8H216.0V918.1H214.7V917.8H213.4V918.4H212.1V917.8H210.8V917.9H209.5V917.7H208.2V917.5H206.9V917.5H205.6V918.0H204.3V917.0H203.0V918.4H201.7V917.8H200.4V917.6H199.1V917.8H197.8V918.6H196.5V917.8H195.2V917.7H193.9V917.9H192.6V917.2H191.3V918.4H190.0V916.7H188.7V917.2H187.4V917.1H186.1V917.1H184.8V916.9H183.5V916.5H182.2V916.3H180.9V917.0H179.6V917.2H178.3V917.7H177.0V917.9H175.7V918.3H174.4V917.9H173.1V918.1H171.8V917.4H170.5V917.5H169.2V918.5H167.9V918.4H166.6V916.7H165.3V916.5H163.9V916.1H162.6V916.8H161.3V916.5H160.0V915.6H158.7V914.4H157.4V914.0H156.1V913.2H154.8V912.9H153.5V912.0H152.2V911.2H150.9V911.0H149.6V910.4H148.3V909.6H147.0V907.6H145.7V907.6H144.4V906.9H143.1V905.7H141.8V905.1H140.5V905.2H139.2V904.6H137.9V904.4H136.6V904.3H135.3V903.9H134.0V903.1H132.7V903.7H131.4V902.0H130.1V901.5H128.8V900.5H127.5V900.7H126.2V899.3H124.9V898.9H123.6V898.8H122.3V900.6H121.0V899.0H119.7V898.5H118.4V898.0H117.1V897.9H115.8V898.4H114.5V898.1H113.2V896.4H111.9V895.5H110.6V895.6H109.3V896.6H108.0V896.0H106.7V896.2H105.4V895.6H104.1V896.0H102.8V895.7H101.5V895.8H100.2V895.2H98.9V895.1H97.6V894.4H96.3V894.5H95.0V894.1H93.7V894.2H92.4V894.7H91.1V895.5H89.8V895.3H88.5V894.4H87.2V894.6H85.9V894.5H84.6V894.0H83.3V895.4H82.0V894.8H80.7V894.4H79.4V893.3H78.1V894.6H76.8V893.4H75.5V893.5H74.2V893.7H72.9V893.7H71.6V893.8H70.3V893.5H69.0Z" fill="#0000ff" fill-opacity="0.44"/>
<path d="M94.3,889.1h1.5V895.9h-1.5ZM121.7,893.7h1.5V900.5h-1.5ZM149.1,904.8h1.5V911.4h-1.5ZM176.5,912.3h1.5V918.8h-1.5ZM203.8,911.8h1.5V918.3h-1.5ZM231.2,912.7h1.5V919.0h-1.5Z" fill="#0000ff" fill-opacity="0.26"/>
<path d="M256.3,920.1L256.8,918.4L257.3,916.0L257.7,913.1L258.2,909.7L258.7,905.2L259.2,899.8L259.7,894.0L260.1,888.4L260.6,883.1L261.1,877.7L261.6,872.2L262.1,866.7L262.5,861.0L263.0,855.2L263.5,849.3L264.0,843.2L264.5,837.1L264.9,830.9L265.4,824.9L265.9,818.8L266.4,812.6L266.9,806.6L267.3,800.7L267.8,794.9L268.3,789.2L268.8,783.5L269.3,778.0L269.7,772.8L270.2,767.8L270.7,763.0L271.2,758.3L271.7,753.8L272.2,749.6L272.6,745.6L273.1,741.9L273.6,738.2L274.1,734.7L274.6,731.5L275.0,728.7L275.5,726.3L276.0,724.5L276.5,722.7L277.0,721.1L277.4,719.6L277.9,718.3L278.4,717.2L278.9,716.4L279.4,715.8L279.8,715.3L280.3,715.0L280.4,715.0" fill="none" stroke="#0000ff" stroke-opacity="0.3" stroke-width="3.0" stroke-linejoin="round"/>
<path d="M256.3,920.1L256.8,918.4L257.3,916.0L257.7,913.1L258.2,909.7L258.7,905.2L259.2,899.8L259.7,894.0L260.1,888.4L260.6,883.1L261.1,877.7L261.6,872.2L262.1,866.7L262.5,861.0L263.0,855.2L263.5,849.3L264.0,843.2L264.5,837.1L264.9,830.9L265.4,824.9L265.9,818.8L266.4,812.6L266.9,806.6L267.3,800.7L267.8,794.9L268.3,789.2L268.8,783.5L269.3,778.0L269.7,772.8L270.2,767.8L270.7,763.0L271.2,758.3L271.7,753.8L272.2,749.6L272.6,745.6L273.1,741.9L273.6,738.2L274.1,734.7L274.6,731.5L275.0,728.7L275.5,726.3L276.0,724.5L276.5,722.7L277.0,721.1L277.4,719.6L277.9,718.3L278.4,717.2L278.9,716.4L279.4,715.8L279.8,715.3L280.3,715.0L280.4,715.0" fill="none" stroke="#0000ff" stroke-opacity="0.45" stroke-width="1.8" stroke-linejoin="round"/>
<path d="M89.8,881.7L94.6,886.4L89.8,891.2L85.1,886.4Z" fill="none" stroke="#000" stroke-width="1.95"/>
<circle cx="89.3" cy="885.8" r="1.3" fill="#000"/>
<path d="M115.1,894.9L119.9,899.6L115.1,904.4L110.4,899.6Z" fill="none" stroke="#000" stroke-width="1.95"/>
<circle cx="114.6" cy="899.0" r="1.3" fill="#000"/>
<path d="M140.3,897.3L145.1,902.1L140.3,906.8L135.6,902.1Z" fill="none" stroke="#000" stroke-width="1.95"/>
<circle cx="139.8" cy="901.5" r="1.3" fill="#000"/>
<path d="M170.6,914.5L175.4,919.3L170.6,924.0L165.9,919.3Z" fill="none" stroke="#000" stroke-width="1.95"/>
<circle cx="170.1" cy="918.7" r="1.3" fill="#000"/>
<path d="M186.3,922.5L191.0,927.2L186.3,932.0L181.5,927.2Z" fill="none" stroke="#000" stroke-width="1.95"/>
<circle cx="185.8" cy="926.6" r="1.3" fill="#000"/>
<path d="M201.0,915.7L205.7,920.4L201.0,925.2L196.2,920.4Z" fill="none" stroke="#000" stroke-width="1.95"/>
<circle cx="200.5" cy="919.8" r="1.3" fill="#000"/>
<path d="M216.6,918.8L221.4,923.5L216.6,928.3L211.9,923.5Z" fill="none" stroke="#000" stroke-width="1.95"/>
<circle cx="216.1" cy="922.9" r="1.3" fill="#000"/>
<path d="M226.2,921.2L231.0,926.0L226.2,930.7L221.5,926.0Z" fill="none" stroke="#000" stroke-width="1.95"/>
<circle cx="225.7" cy="925.4" r="1.3" fill="#000"/>
<path d="M236.7,920.0L241.4,924.8L236.7,929.5L231.9,924.8Z" fill="none" stroke="#000" stroke-width="1.95"/>
<circle cx="236.2" cy="924.2" r="1.3" fill="#000"/>
<path d="M247.2,922.2L252.0,927.0L247.2,931.7L242.5,927.0Z" fill="none" stroke="#000" stroke-width="1.95"/>
<circle cx="246.7" cy="926.4" r="1.3" fill="#000"/>
<path d="M256.7,925.1L261.5,929.9L256.7,934.6L252.0,929.9Z" fill="none" stroke="#000" stroke-width="1.95"/>
<circle cx="256.2" cy="929.3" r="1.3" fill="#000"/>
<path d="M270.9,864.7L275.6,869.5L270.9,874.2L266.1,869.5Z" fill="none" stroke="#000" stroke-width="1.95"/>
<circle cx="270.4" cy="868.9" r="1.3" fill="#000"/>
<path d="M293.9,710.2L298.7,715.0L293.9,719.8L289.2,715.0Z" fill="none" stroke="#000" stroke-width="1.95"/>
<circle cx="293.4" cy="714.4" r="1.3" fill="#000"/>
<path d="M300.0,710.2L304.7,715.0L300.0,719.8L295.2,715.0Z" fill="none" stroke="#000" stroke-width="1.95"/>
<circle cx="299.5" cy="714.4" r="1.3" fill="#000"/>
<path d="M304.3,710.2L309.0,715.0L304.3,719.8L299.5,715.0Z" fill="none" stroke="#000" stroke-width="1.95"/>
<circle cx="303.8" cy="714.4" r="1.3" fill="#000"/>
</g>
<rect x="69.0" y="715.0" width="240.20" height="244.20" fill="none" stroke="#000" stroke-width="1.6"/>
<path d="M69.00,959.2v6.9M129.75,959.2v6.9M189.10,959.2v6.9M249.85,959.2v6.9M309.20,959.2v6.9M69.0,959.20h-6.9M69.0,910.36h-6.9M69.0,861.52h-6.9M69.0,812.68h-6.9M69.0,763.84h-6.9M69.0,715.00h-6.9" stroke="#000" stroke-width="1.6" fill="none"/>
<g font-size="18.08">
<text x="69.00" y="985.0" text-anchor="middle">0</text>
<text x="129.05" y="985.0" text-anchor="middle">50</text>
<text x="189.10" y="985.0" text-anchor="middle">100</text>
<text x="249.15" y="985.0" text-anchor="middle">150</text>
<text x="309.20" y="985.0" text-anchor="middle">200</text>
<text x="55.40" y="965.50" text-anchor="end" letter-spacing="-0.35">0.0</text>
<text x="55.40" y="916.66" text-anchor="end" letter-spacing="-0.35">0.2</text>
<text x="55.40" y="867.82" text-anchor="end" letter-spacing="-0.35">0.4</text>
<text x="55.40" y="818.98" text-anchor="end" letter-spacing="-0.35">0.6</text>
<text x="55.40" y="770.14" text-anchor="end" letter-spacing="-0.35">0.8</text>
<text x="55.40" y="721.30" text-anchor="end" letter-spacing="-0.35">1.0</text>
<text transform="translate(15.40,839.10) rotate(-90)" text-anchor="middle" letter-spacing="-1.3">SF</text>
<text x="189.20" y="1010.6" text-anchor="middle" letter-spacing="0.26">Depth [mm]</text>
</g>
<text transform="translate(188.80,703.80) scale(1,1.06)" font-size="21.7" text-anchor="middle">5.0 Gy</text>
<g clip-path="url(#c7)">
<path d="M414.5,902.9H415.8V902.9H417.1V904.0H418.4V904.0H419.7V904.2H421.0V902.3H422.3V903.0H423.6V905.1H424.9V905.1H426.2V902.7H427.5V903.3H428.8V903.4H430.1V904.1H431.4V903.1H432.7V903.2H434.0V903.7H435.3V903.8H436.6V904.7H437.9V904.9H439.2V905.0H440.5V904.1H441.8V904.3H443.1V904.4H444.4V904.0H445.7V903.8H447.0V904.9H448.3V905.2H449.6V906.4H450.9V906.6H452.2V907.0H453.5V907.2H454.8V907.4H456.1V907.1H457.4V907.3H458.7V907.6H460.0V908.5H461.3V908.7H462.6V907.7H463.9V908.0H465.2V906.2H466.5V909.2H467.8V910.5H469.1V909.0H470.4V909.1H471.7V909.5H473.0V910.4H474.3V912.2H475.6V912.1H476.9V912.6H478.2V912.9H479.5V913.3H480.8V914.0H482.1V914.4H483.4V914.0H484.7V914.4H486.0V915.2H487.3V915.0H488.6V914.8H489.9V915.3H491.2V918.2H492.5V918.7H493.8V917.7H495.1V918.2H496.4V919.8H497.7V920.1H499.0V920.1H500.3V920.6H501.6V921.1H502.9V921.6H504.2V922.1H505.5V922.5H506.8V922.9H508.1V923.2H509.4V922.5H510.7V923.8H512.0V924.5H513.3V922.3H514.6V922.4H515.9V922.4H517.2V923.4H518.5V924.3H519.8V924.3H521.1V924.6H522.4V923.4H523.7V923.6H525.0V923.7H526.3V924.3H527.6V925.8H528.9V925.2H530.2V926.3H531.5V924.8H532.8V924.9H534.1V923.9H535.4V924.6H536.7V924.6H538.0V924.6H539.3V924.7H540.6V925.8H541.9V926.2H543.2V923.6H544.5V925.4H545.8V925.4H547.1V926.9H548.4V925.1H549.7V925.5H551.0V925.3H552.3V924.1H553.6V925.8H554.9V925.0H556.2V925.0H557.5V925.1H558.8V925.1H560.1V925.3H561.4V925.6H562.7V925.7H564.0V924.1H565.3V926.3H566.6V926.7H567.9V924.2H569.2V924.2H570.5V924.3H571.8V926.2H573.1V926.3H574.4V927.8H575.7V925.5H577.0V925.5H578.3V925.6H579.6V925.6H580.9V924.9H582.2V924.9H583.5V926.7H584.8V927.3H586.1V927.1H587.4V927.2H588.7V927.0H590.0V926.6H591.3V926.6H592.6V926.8H593.9V927.8H595.2V926.3H596.5V926.4H597.8V929.7H599.1V928.4H600.4V930.5H601.7V934.4H603.0V937.9V937.9H601.7V938.9H600.4V940.5H599.1V940.5H597.8V941.4H596.5V939.4H595.2V940.6H593.9V941.0H592.6V941.0H591.3V940.3H590.0V940.7H588.7V941.5H587.4V940.7H586.1V942.0H584.8V942.0H583.5V942.0H582.2V939.9H580.9V940.3H579.6V940.9H578.3V941.7H577.0V941.2H575.7V941.2H574.4V941.2H573.1V941.2H571.8V941.2H570.5V939.2H569.2V939.2H567.9V942.1H566.6V942.1H565.3V940.0H564.0V941.1H562.7V940.8H561.4V940.0H560.1V940.6H558.8V941.4H557.5V940.8H556.2V940.5H554.9V939.5H553.6V942.0H552.3V942.2H551.0V942.2H549.7V940.7H548.4V940.0H547.1V940.7H545.8V939.5H544.5V939.5H543.2V941.2H541.9V940.0H540.6V940.0H539.3V941.1H538.0V942.0H536.7V942.0H535.4V941.6H534.1V940.0H532.8V940.0H531.5V941.1H530.2V941.8H528.9V939.8H527.6V939.8H526.3V941.8H525.0V942.0H523.7V938.3H522.4V940.8H521.1V940.0H519.8V940.5H518.5V940.5H517.2V941.2H515.9V941.0H514.6V940.5H513.3V940.4H512.0V940.0H510.7V939.8H509.4V939.5H508.1V939.2H506.8V938.8H505.5V939.9H504.2V938.4H502.9V938.2H501.6V938.1H500.3V937.6H499.0V935.7H497.7V935.0H496.4V935.8H495.1V935.4H493.8V935.2H492.5V935.3H491.2V934.9H489.9V933.0H488.6V933.7H487.3V933.4H486.0V933.5H484.7V930.8H483.4V930.7H482.1V930.4H480.8V931.1H479.5V929.4H478.2V929.7H476.9V929.1H475.6V929.5H474.3V928.2H473.0V928.2H471.7V927.8H470.4V927.5H469.1V928.2H467.8V927.1H466.5V926.8H465.2V926.3H463.9V926.0H462.6V925.8H461.3V924.8H460.0V925.5H458.7V925.2H457.4V926.2H456.1V925.8H454.8V923.5H453.5V923.3H452.2V923.7H450.9V923.4H449.6V923.3H448.3V924.5H447.0V925.8H445.7V925.7H444.4V924.9H443.1V924.8H441.8V924.9H440.5V924.8H439.2V924.7H437.9V923.1H436.6V923.0H435.3V922.1H434.0V922.0H432.7V921.9H431.4V922.7H430.1V922.6H428.8V924.6H427.5V922.9H426.2V922.1H424.9V921.4H423.6V923.0H422.3V923.0H421.0V923.0H419.7V922.1H418.4V922.1H417.1V923.4H415.8V923.5H414.5Z" fill="#0000ff" fill-opacity="0.3"/>
<path d="M430.0,902.5h1.5V923.9h-1.5ZM457.3,906.0h1.5V926.5h-1.5ZM484.7,913.6h1.5V933.2h-1.5ZM512.1,922.9h1.5V941.5h-1.5ZM539.4,924.0h1.5V941.7h-1.5ZM566.8,925.0h1.5V941.8h-1.5ZM594.2,926.0h1.5V941.8h-1.5Z" fill="#0000ff" fill-opacity="0.18"/>
<path d="M414.5,906.5H415.8V906.4H417.1V906.1H418.4V906.2H419.7V906.1H421.0V906.2H422.3V906.2H423.6V907.4H424.9V907.5H426.2V906.2H427.5V907.1H428.8V906.1H430.1V907.0H431.4V907.4H432.7V907.4H434.0V907.4H435.3V907.1H436.6V907.8H437.9V909.2H439.2V907.8H440.5V907.9H441.8V906.8H443.1V907.1H444.4V907.9H445.7V908.0H447.0V909.2H448.3V909.3H449.6V909.4H450.9V909.8H452.2V909.9H453.5V908.5H454.8V909.8H456.1V908.8H457.4V910.6H458.7V910.1H460.0V910.2H461.3V911.0H462.6V911.3H463.9V911.3H465.2V912.9H466.5V913.3H467.8V913.6H469.1V912.6H470.4V913.0H471.7V913.3H473.0V911.9H474.3V915.0H475.6V915.4H476.9V916.1H478.2V916.4H479.5V916.9H480.8V915.8H482.1V916.4H483.4V918.4H484.7V918.4H486.0V918.7H487.3V917.5H488.6V917.8H489.9V919.6H491.2V920.8H492.5V921.4H493.8V921.9H495.1V922.4H496.4V921.7H497.7V922.2H499.0V923.2H500.3V924.5H501.6V925.0H502.9V923.9H504.2V924.4H505.5V926.0H506.8V926.5H508.1V926.9H509.4V926.3H510.7V925.9H512.0V927.2H513.3V927.7H514.6V927.7H515.9V927.1H517.2V926.7H518.5V927.5H519.8V927.6H521.1V927.6H522.4V928.2H523.7V928.1H525.0V927.9H526.3V925.8H527.6V925.8H528.9V927.2H530.2V928.2H531.5V926.0H532.8V926.1H534.1V926.2H535.4V926.3H536.7V929.6H538.0V929.1H539.3V927.4H540.6V928.3H541.9V928.3H543.2V928.4H544.5V929.2H545.8V929.3H547.1V929.3H548.4V927.9H549.7V927.9H551.0V927.8H552.3V928.5H553.6V928.4H554.9V929.3H556.2V927.4H557.5V928.7H558.8V928.3H560.1V928.3H561.4V927.2H562.7V928.9H564.0V928.4H565.3V929.4H566.6V929.5H567.9V928.2H569.2V928.7H570.5V928.7H571.8V929.6H573.1V929.1H574.4V928.7H575.7V929.3H577.0V929.5H578.3V929.2H579.6V929.2H580.9V928.0H582.2V930.3H583.5V929.3H584.8V929.2H586.1V929.2H587.4V928.8H588.7V929.9H590.0V930.0H591.3V930.1H592.6V930.2H593.9V930.1H595.2V929.7H596.5V929.0H597.8V929.6H599.1V930.4H600.4V932.8H601.7V934.8H603.0V937.8V937.8H601.7V938.4H600.4V939.0H599.1V938.2H597.8V938.2H596.5V938.1H595.2V938.1H593.9V937.1H592.6V938.4H591.3V937.5H590.0V937.5H588.7V937.9H587.4V938.8H586.1V938.9H584.8V939.0H583.5V939.0H582.2V938.9H580.9V937.4H579.6V937.4H578.3V936.8H577.0V936.8H575.7V936.8H574.4V937.5H573.1V937.5H571.8V938.2H570.5V938.1H569.2V937.9H567.9V938.5H566.6V938.5H565.3V938.2H564.0V939.1H562.7V937.6H561.4V937.6H560.1V938.8H558.8V936.8H557.5V938.0H556.2V937.9H554.9V940.0H553.6V937.6H552.3V937.6H551.0V937.9H549.7V938.9H548.4V936.7H547.1V936.7H545.8V936.7H544.5V937.9H543.2V938.2H541.9V938.2H540.6V938.4H539.3V938.3H538.0V937.5H536.7V937.6H535.4V937.5H534.1V936.9H532.8V937.6H531.5V935.7H530.2V938.2H528.9V938.9H527.6V938.2H526.3V936.4H525.0V936.5H523.7V936.8H522.4V937.6H521.1V938.9H519.8V938.6H518.5V938.0H517.2V936.0H515.9V938.6H514.6V938.5H513.3V938.3H512.0V938.1H510.7V936.5H509.4V936.3H508.1V936.7H506.8V936.7H505.5V936.2H504.2V935.8H502.9V933.8H501.6V935.0H500.3V935.1H499.0V934.6H497.7V932.0H496.4V932.6H495.1V932.1H493.8V931.3H492.5V930.8H491.2V930.5H489.9V930.0H488.6V929.6H487.3V929.0H486.0V928.7H484.7V928.3H483.4V928.0H482.1V927.6H480.8V928.3H479.5V927.9H478.2V926.3H476.9V926.8H475.6V926.5H474.3V926.0H473.0V925.7H471.7V923.8H470.4V923.5H469.1V923.1H467.8V922.8H466.5V923.6H465.2V923.4H463.9V923.0H462.6V922.8H461.3V923.0H460.0V921.2H458.7V922.4H457.4V922.2H456.1V922.1H454.8V921.9H453.5V920.8H452.2V922.0H450.9V920.5H449.6V920.3H448.3V920.2H447.0V921.6H445.7V921.4H444.4V921.1H443.1V918.3H441.8V918.1H440.5V918.0H439.2V919.8H437.9V919.3H436.6V918.7H435.3V917.9H434.0V919.0H432.7V920.0H431.4V919.4H430.1V919.3H428.8V919.2H427.5V920.1H426.2V918.8H424.9V918.7H423.6V918.7H422.3V919.4H421.0V920.1H419.7V920.0H418.4V919.9H417.1V919.6H415.8V919.6H414.5Z" fill="#0000ff" fill-opacity="0.27"/>
<path d="M430.0,906.4h1.5V920.0h-1.5ZM457.3,909.7h1.5V922.7h-1.5ZM484.7,917.2h1.5V929.6h-1.5ZM512.1,926.3h1.5V938.1h-1.5ZM539.4,927.2h1.5V938.5h-1.5ZM566.8,928.1h1.5V938.7h-1.5ZM594.2,928.9h1.5V938.9h-1.5Z" fill="#0000ff" fill-opacity="0.16"/>
<path d="M414.5,908.9H415.8V909.8H417.1V910.9H418.4V909.3H419.7V910.9H421.0V911.0H422.3V911.6H423.6V911.1H424.9V910.8H426.2V910.1H427.5V911.1H428.8V911.0H430.1V910.1H431.4V910.1H432.7V909.5H434.0V908.8H435.3V909.9H436.6V910.0H437.9V909.6H439.2V910.6H440.5V910.4H441.8V911.4H443.1V910.9H444.4V911.5H445.7V911.8H447.0V912.6H448.3V912.5H449.6V910.4H450.9V913.0H452.2V912.4H453.5V911.8H454.8V912.0H456.1V911.8H457.4V912.5H458.7V913.1H460.0V912.5H461.3V914.1H462.6V914.5H463.9V915.0H465.2V915.3H466.5V915.0H467.8V915.2H469.1V915.8H470.4V915.9H471.7V915.9H473.0V916.8H474.3V917.6H475.6V919.2H476.9V918.9H478.2V918.5H479.5V918.9H480.8V919.6H482.1V920.1H483.4V921.3H484.7V921.1H486.0V920.5H487.3V921.3H488.6V920.8H489.9V921.9H491.2V923.0H492.5V923.7H493.8V923.6H495.1V925.5H496.4V924.5H497.7V925.1H499.0V926.8H500.3V926.6H501.6V926.4H502.9V926.1H504.2V927.0H505.5V928.1H506.8V929.5H508.1V929.6H509.4V929.6H510.7V929.6H512.0V929.7H513.3V930.1H514.6V930.1H515.9V930.0H517.2V930.0H518.5V931.6H519.8V931.3H521.1V931.1H522.4V931.1H523.7V931.0H525.0V930.3H526.3V930.1H527.6V930.1H528.9V929.9H530.2V929.6H531.5V930.2H532.8V930.4H534.1V930.8H535.4V930.5H536.7V930.5H538.0V930.1H539.3V930.6H540.6V930.7H541.9V930.6H543.2V930.8H544.5V930.8H545.8V930.6H547.1V931.0H548.4V930.9H549.7V929.8H551.0V930.7H552.3V930.8H553.6V930.4H554.9V931.5H556.2V931.4H557.5V930.3H558.8V930.1H560.1V930.0H561.4V930.1H562.7V930.5H564.0V930.7H565.3V931.6H566.6V930.7H567.9V931.8H569.2V931.3H570.5V931.6H571.8V931.2H573.1V931.9H574.4V931.9H575.7V931.8H577.0V931.1H578.3V931.4H579.6V931.3H580.9V932.5H582.2V932.3H583.5V931.2H584.8V932.8H586.1V932.5H587.4V930.8H588.7V931.2H590.0V931.1H591.3V931.1H592.6V931.0H593.9V931.3H595.2V930.7H596.5V931.0H597.8V931.6H599.1V931.9H600.4V933.6H601.7V935.0H603.0V936.9V936.9H601.7V936.7H600.4V936.9H599.1V935.9H597.8V935.4H596.5V935.2H595.2V934.1H593.9V935.3H592.6V936.0H591.3V936.0H590.0V936.0H588.7V936.5H587.4V936.1H586.1V936.4H584.8V936.3H583.5V935.7H582.2V936.2H580.9V935.6H579.6V936.3H578.3V936.3H577.0V936.0H575.7V934.9H574.4V935.5H573.1V935.7H571.8V935.6H570.5V935.6H569.2V935.8H567.9V935.9H566.6V935.9H565.3V935.6H564.0V935.1H562.7V934.7H561.4V934.7H560.1V934.8H558.8V936.2H557.5V936.0H556.2V934.4H554.9V935.0H553.6V936.0H552.3V935.4H551.0V934.9H549.7V935.2H548.4V935.4H547.1V935.6H545.8V936.0H544.5V935.9H543.2V935.7H541.9V935.1H540.6V935.5H539.3V935.4H538.0V935.9H536.7V936.0H535.4V935.5H534.1V934.1H532.8V933.9H531.5V934.8H530.2V934.8H528.9V935.2H527.6V934.2H526.3V935.2H525.0V935.3H523.7V935.4H522.4V935.5H521.1V935.8H519.8V935.3H518.5V935.1H517.2V935.1H515.9V935.5H514.6V935.7H513.3V935.2H512.0V935.0H510.7V934.6H509.4V935.2H508.1V935.0H506.8V933.3H505.5V932.1H504.2V931.9H502.9V932.1H501.6V931.7H500.3V931.8H499.0V931.1H497.7V928.7H496.4V929.9H495.1V930.1H493.8V929.6H492.5V927.9H491.2V927.1H489.9V925.8H488.6V927.3H487.3V926.2H486.0V925.5H484.7V925.8H483.4V926.4H482.1V925.9H480.8V923.3H479.5V924.2H478.2V924.2H476.9V923.0H475.6V922.7H474.3V921.9H473.0V921.7H471.7V922.9H470.4V921.1H469.1V920.7H467.8V921.3H466.5V919.6H465.2V919.3H463.9V919.4H462.6V919.7H461.3V919.1H460.0V917.9H458.7V918.5H457.4V918.2H456.1V918.4H454.8V917.5H453.5V918.3H452.2V918.8H450.9V918.5H449.6V916.9H448.3V916.6H447.0V916.7H445.7V917.3H444.4V916.0H443.1V915.7H441.8V916.7H440.5V916.6H439.2V916.2H437.9V915.6H436.6V915.2H435.3V915.2H434.0V916.0H432.7V916.2H431.4V916.8H430.1V916.7H428.8V914.2H427.5V916.2H426.2V916.2H424.9V916.4H423.6V916.6H422.3V915.9H421.0V917.3H419.7V916.6H418.4V915.5H417.1V917.2H415.8V915.7H414.5Z" fill="#0000ff" fill-opacity="0.44"/>
<path d="M430.0,909.7h1.5V916.7h-1.5ZM457.3,912.8h1.5V919.6h-1.5ZM484.7,920.2h1.5V926.6h-1.5ZM512.1,929.1h1.5V935.3h-1.5ZM539.4,929.9h1.5V935.8h-1.5ZM566.8,930.6h1.5V936.2h-1.5ZM594.2,931.2h1.5V936.6h-1.5Z" fill="#0000ff" fill-opacity="0.26"/>
<path d="M601.7,936.2L602.2,931.2L602.7,926.2L603.2,921.2L603.6,916.1L604.1,910.9L604.6,905.6L605.1,900.3L605.6,895.0L606.0,889.9L606.5,884.9L607.0,880.1L607.5,875.5L608.0,870.8L608.4,866.0L608.9,861.1L609.4,855.9L609.9,850.7L610.4,845.4L610.8,840.1L611.3,834.8L611.8,829.6L612.3,824.4L612.8,819.2L613.2,813.9L613.7,808.7L614.2,803.4L614.7,798.1L615.2,792.8L615.6,787.4L616.1,781.9L616.6,776.0L617.1,769.6L617.6,763.3L618.0,757.5L618.5,752.4L619.0,747.7L619.5,743.2L620.0,739.3L620.4,735.9L620.9,733.0L621.4,730.2L621.9,727.7L622.4,725.4L622.8,723.3L623.3,721.7L623.8,720.3L624.3,719.2L624.8,718.2L625.3,717.4L625.7,716.6L626.2,716.0L626.7,715.5L627.2,715.2L627.6,715.0" fill="none" stroke="#0000ff" stroke-opacity="0.3" stroke-width="3.0" stroke-linejoin="round"/>
<path d="M601.7,936.2L602.2,931.2L602.7,926.2L603.2,921.2L603.6,916.1L604.1,910.9L604.6,905.6L605.1,900.3L605.6,895.0L606.0,889.9L606.5,884.9L607.0,880.1L607.5,875.5L608.0,870.8L608.4,866.0L608.9,861.1L609.4,855.9L609.9,850.7L610.4,845.4L610.8,840.1L611.3,834.8L611.8,829.6L612.3,824.4L612.8,819.2L613.2,813.9L613.7,808.7L614.2,803.4L614.7,798.1L615.2,792.8L615.6,787.4L616.1,781.9L616.6,776.0L617.1,769.6L617.6,763.3L618.0,757.5L618.5,752.4L619.0,747.7L619.5,743.2L620.0,739.3L620.4,735.9L620.9,733.0L621.4,730.2L621.9,727.7L622.4,725.4L622.8,723.3L623.3,721.7L623.8,720.3L624.3,719.2L624.8,718.2L625.3,717.4L625.7,716.6L626.2,716.0L626.7,715.5L627.2,715.2L627.6,715.0" fill="none" stroke="#0000ff" stroke-opacity="0.45" stroke-width="1.8" stroke-linejoin="round"/>
<path d="M435.7,909.3L440.4,914.0L435.7,918.8L430.9,914.0Z" fill="none" stroke="#000" stroke-width="1.95"/>
<circle cx="435.2" cy="913.4" r="1.3" fill="#000"/>
<path d="M460.7,910.5L465.5,915.2L460.7,920.0L456.0,915.2Z" fill="none" stroke="#000" stroke-width="1.95"/>
<circle cx="460.2" cy="914.6" r="1.3" fill="#000"/>
<path d="M485.8,918.3L490.6,923.1L485.8,927.8L481.1,923.1Z" fill="none" stroke="#000" stroke-width="1.95"/>
<circle cx="485.3" cy="922.5" r="1.3" fill="#000"/>
<path d="M516.2,934.7L520.9,939.4L516.2,944.2L511.4,939.4Z" fill="none" stroke="#000" stroke-width="1.95"/>
<circle cx="515.7" cy="938.8" r="1.3" fill="#000"/>
<path d="M531.0,934.4L535.8,939.2L531.0,943.9L526.3,939.2Z" fill="none" stroke="#000" stroke-width="1.95"/>
<circle cx="530.5" cy="938.6" r="1.3" fill="#000"/>
<path d="M546.6,934.7L551.3,939.4L546.6,944.2L541.8,939.4Z" fill="none" stroke="#000" stroke-width="1.95"/>
<circle cx="546.1" cy="938.8" r="1.3" fill="#000"/>
<path d="M561.1,935.4L565.9,940.2L561.1,944.9L556.4,940.2Z" fill="none" stroke="#000" stroke-width="1.95"/>
<circle cx="560.6" cy="939.6" r="1.3" fill="#000"/>
<path d="M571.6,935.4L576.4,940.2L571.6,944.9L566.9,940.2Z" fill="none" stroke="#000" stroke-width="1.95"/>
<circle cx="571.1" cy="939.6" r="1.3" fill="#000"/>
<path d="M582.1,935.4L586.8,940.2L582.1,944.9L577.3,940.2Z" fill="none" stroke="#000" stroke-width="1.95"/>
<circle cx="581.6" cy="939.6" r="1.3" fill="#000"/>
<path d="M591.5,936.3L596.3,941.0L591.5,945.8L586.8,941.0Z" fill="none" stroke="#000" stroke-width="1.95"/>
<circle cx="591.0" cy="940.4" r="1.3" fill="#000"/>
<path d="M602.1,940.8L606.9,945.6L602.1,950.3L597.4,945.6Z" fill="none" stroke="#000" stroke-width="1.95"/>
<circle cx="601.6" cy="945.0" r="1.3" fill="#000"/>
<path d="M615.5,803.6L620.3,808.4L615.5,813.1L610.8,808.4Z" fill="none" stroke="#000" stroke-width="1.95"/>
<circle cx="615.0" cy="807.8" r="1.3" fill="#000"/>
<path d="M640.0,710.2L644.7,715.0L640.0,719.8L635.2,715.0Z" fill="none" stroke="#000" stroke-width="1.95"/>
<circle cx="639.5" cy="714.4" r="1.3" fill="#000"/>
<path d="M644.2,710.2L648.9,715.0L644.2,719.8L639.4,715.0Z" fill="none" stroke="#000" stroke-width="1.95"/>
<circle cx="643.7" cy="714.4" r="1.3" fill="#000"/>
<path d="M649.6,710.2L654.3,715.0L649.6,719.8L644.8,715.0Z" fill="none" stroke="#000" stroke-width="1.95"/>
<circle cx="649.1" cy="714.4" r="1.3" fill="#000"/>
</g>
<rect x="414.5" y="715.0" width="240.10" height="244.20" fill="none" stroke="#000" stroke-width="1.6"/>
<path d="M414.50,959.2v6.9M474.92,959.2v6.9M534.55,959.2v6.9M594.98,959.2v6.9M654.60,959.2v6.9M414.5,959.20h-6.9M414.5,910.36h-6.9M414.5,861.52h-6.9M414.5,812.68h-6.9M414.5,763.84h-6.9M414.5,715.00h-6.9" stroke="#000" stroke-width="1.6" fill="none"/>
<g font-size="18.08">
<text x="414.50" y="985.0" text-anchor="middle">0</text>
<text x="474.52" y="985.0" text-anchor="middle">50</text>
<text x="534.55" y="985.0" text-anchor="middle">100</text>
<text x="594.58" y="985.0" text-anchor="middle">150</text>
<text x="654.60" y="985.0" text-anchor="middle">200</text>
<text x="400.90" y="965.50" text-anchor="end" letter-spacing="-0.35">0.0</text>
<text x="400.90" y="916.66" text-anchor="end" letter-spacing="-0.35">0.2</text>
<text x="400.90" y="867.82" text-anchor="end" letter-spacing="-0.35">0.4</text>
<text x="400.90" y="818.98" text-anchor="end" letter-spacing="-0.35">0.6</text>
<text x="400.90" y="770.14" text-anchor="end" letter-spacing="-0.35">0.8</text>
<text x="400.90" y="721.30" text-anchor="end" letter-spacing="-0.35">1.0</text>
<text transform="translate(360.90,839.10) rotate(-90)" text-anchor="middle" letter-spacing="-1.3">SF</text>
<text x="534.75" y="1010.6" text-anchor="middle" letter-spacing="0.26">Depth [mm]</text>
</g>
<text transform="translate(534.25,703.80) scale(1,1.06)" font-size="21.7" text-anchor="middle">6.0 Gy</text>
<g clip-path="url(#c8)">
<path d="M760.0,933.1H761.3V934.8H762.6V933.5H763.9V933.5H765.2V933.5H766.5V934.1H767.8V935.1H769.1V934.1H770.4V934.1H771.7V934.1H773.0V934.7H774.3V934.5H775.6V934.5H776.9V933.8H778.2V934.5H779.5V934.6H780.8V934.3H782.1V934.7H783.4V934.7H784.7V934.7H786.0V934.7H787.3V934.8H788.7V934.8H790.0V935.5H791.3V934.9H792.6V935.1H793.9V935.1H795.2V936.2H796.5V935.9H797.8V936.0H799.1V935.2H800.4V936.0H801.7V936.0H803.0V935.4H804.3V934.3H805.6V936.0H806.9V936.1H808.2V935.5H809.5V936.3H810.8V936.5H812.1V936.0H813.4V936.2H814.7V936.6H816.0V937.5H817.3V937.7H818.6V937.9H819.9V936.8H821.2V938.4H822.5V938.4H823.8V938.1H825.1V938.3H826.4V940.2H827.7V939.6H829.0V939.2H830.3V939.4H831.6V939.6H832.9V939.8H834.2V940.7H835.5V941.0H836.8V942.2H838.1V941.8H839.4V941.8H840.7V942.0H842.0V942.5H843.3V942.0H844.6V942.3H846.0V941.9H847.3V942.4H848.6V942.7H849.9V943.0H851.2V944.3H852.5V943.8H853.8V943.9H855.1V944.9H856.4V945.4H857.7V945.6H859.0V945.2H860.3V946.1H861.6V945.3H862.9V946.4H864.2V946.5H865.5V945.7H866.8V945.7H868.1V946.9H869.4V947.0H870.7V947.1H872.0V947.2H873.3V947.3H874.6V947.4H875.9V946.8H877.2V946.9H878.5V947.0H879.8V947.3H881.1V947.3H882.4V946.1H883.7V947.4H885.0V947.5H886.3V947.5H887.6V947.0H888.9V947.2H890.2V947.5H891.5V947.5H892.8V948.4H894.1V947.9H895.4V947.9H896.7V948.0H898.0V947.9H899.3V947.8H900.6V947.9H902.0V947.9H903.3V947.7H904.6V947.7H905.9V948.3H907.2V948.3H908.5V949.1H909.8V948.4H911.1V948.8H912.4V948.8H913.7V948.3H915.0V948.6H916.3V948.6H917.6V948.7H918.9V949.6H920.2V949.6H921.5V948.6H922.8V948.7H924.1V948.7H925.4V948.7H926.7V948.7H928.0V949.2H929.3V949.2H930.6V949.3H931.9V949.3H933.2V949.4H934.5V949.4H935.8V949.2H937.1V949.2H938.4V949.3H939.7V949.3H941.0V949.4H942.3V949.4H943.6V949.5H944.9V950.3H946.2V951.4H947.5V952.5H948.8V954.3V954.3H947.5V954.8H946.2V955.7H944.9V956.3H943.6V956.5H942.3V956.5H941.0V956.5H939.7V956.4H938.4V955.9H937.1V955.4H935.8V956.1H934.5V956.1H933.2V956.3H931.9V956.2H930.6V956.4H929.3V956.4H928.0V956.4H926.7V956.4H925.4V956.8H924.1V956.2H922.8V956.4H921.5V956.5H920.2V956.5H918.9V955.8H917.6V956.2H916.3V956.2H915.0V956.2H913.7V955.8H912.4V955.8H911.1V955.8H909.8V956.0H908.5V956.7H907.2V956.7H905.9V956.4H904.6V956.6H903.3V956.2H902.0V956.2H900.6V956.2H899.3V956.2H898.0V955.2H896.7V955.8H895.4V955.8H894.1V956.6H892.8V955.9H891.5V955.9H890.2V956.6H888.9V956.6H887.6V955.8H886.3V955.3H885.0V956.0H883.7V955.9H882.4V956.2H881.1V956.3H879.8V955.0H878.5V956.6H877.2V955.2H875.9V955.6H874.6V955.2H873.3V955.8H872.0V955.7H870.7V955.1H869.4V956.1H868.1V954.3H866.8V954.3H865.5V955.6H864.2V955.7H862.9V955.6H861.6V955.1H860.3V955.4H859.0V956.7H857.7V955.4H856.4V954.6H855.1V953.0H853.8V952.8H852.5V952.5H851.2V953.6H849.9V953.6H848.6V952.4H847.3V953.3H846.0V951.8H844.6V951.7H843.3V953.1H842.0V952.3H840.7V951.6H839.4V951.4H838.1V950.7H836.8V950.3H835.5V950.8H834.2V950.1H832.9V950.0H831.6V949.8H830.3V949.9H829.0V950.7H827.7V949.4H826.4V949.7H825.1V949.9H823.8V949.4H822.5V948.3H821.2V948.2H819.9V948.0H818.6V948.1H817.3V947.9H816.0V947.8H814.7V947.3H813.4V947.2H812.1V947.0H810.8V946.9H809.5V946.6H808.2V947.0H806.9V946.0H805.6V947.9H804.3V947.9H803.0V948.3H801.7V947.7H800.4V946.3H799.1V946.2H797.8V946.2H796.5V946.2H795.2V947.5H793.9V947.3H792.6V947.2H791.3V947.2H790.0V947.2H788.7V946.8H787.3V946.8H786.0V947.4H784.7V947.4H783.4V947.4H782.1V947.2H780.8V947.2H779.5V947.2H778.2V946.8H776.9V946.7H775.6V947.6H774.3V947.6H773.0V946.9H771.7V946.9H770.4V946.9H769.1V947.1H767.8V946.4H766.5V947.5H765.2V947.7H763.9V948.0H762.6V946.9H761.3V947.0H760.0Z" fill="#0000ff" fill-opacity="0.3"/>
<path d="M766.3,933.3h1.5V948.0h-1.5ZM793.8,934.3h1.5V948.1h-1.5ZM821.2,937.2h1.5V950.0h-1.5ZM848.6,942.8h1.5V954.7h-1.5ZM876.0,945.9h1.5V956.8h-1.5ZM903.4,947.1h1.5V957.0h-1.5ZM930.8,948.0h1.5V957.0h-1.5Z" fill="#0000ff" fill-opacity="0.18"/>
<path d="M760.0,937.6H761.3V934.9H762.6V935.6H763.9V935.6H765.2V936.2H766.5V936.2H767.8V937.0H769.1V936.2H770.4V936.1H771.7V937.2H773.0V936.8H774.3V936.3H775.6V936.6H776.9V937.5H778.2V936.2H779.5V937.0H780.8V936.3H782.1V936.3H783.4V937.1H784.7V936.7H786.0V936.7H787.3V936.3H788.7V937.2H790.0V937.9H791.3V937.0H792.6V937.6H793.9V937.9H795.2V936.9H796.5V936.9H797.8V936.5H799.1V936.5H800.4V937.3H801.7V937.3H803.0V937.4H804.3V937.8H805.6V937.2H806.9V938.4H808.2V938.5H809.5V938.5H810.8V938.6H812.1V938.4H813.4V938.5H814.7V939.2H816.0V939.3H817.3V939.1H818.6V939.1H819.9V939.6H821.2V939.4H822.5V939.5H823.8V939.7H825.1V940.6H826.4V941.0H827.7V941.2H829.0V941.9H830.3V941.1H831.6V941.2H832.9V941.4H834.2V942.2H835.5V942.1H836.8V942.8H838.1V942.8H839.4V943.1H840.7V943.1H842.0V944.0H843.3V944.3H844.6V944.4H846.0V944.7H847.3V945.0H848.6V945.3H849.9V945.6H851.2V945.9H852.5V946.0H853.8V945.8H855.1V946.8H856.4V946.5H857.7V946.7H859.0V946.9H860.3V947.0H861.6V947.0H862.9V947.1H864.2V947.2H865.5V947.9H866.8V947.0H868.1V947.4H869.4V947.3H870.7V947.1H872.0V947.9H873.3V948.5H874.6V947.9H875.9V947.4H877.2V948.0H878.5V947.4H879.8V948.1H881.1V948.9H882.4V947.8H883.7V947.9H885.0V948.2H886.3V948.2H887.6V948.2H888.9V948.5H890.2V948.3H891.5V948.5H892.8V948.4H894.1V948.8H895.4V949.0H896.7V949.0H898.0V948.6H899.3V948.6H900.6V949.2H902.0V948.5H903.3V948.6H904.6V948.6H905.9V948.7H907.2V948.7H908.5V948.7H909.8V949.6H911.1V949.7H912.4V949.0H913.7V949.8H915.0V949.5H916.3V949.5H917.6V949.8H918.9V949.8H920.2V949.3H921.5V949.4H922.8V950.0H924.1V949.9H925.4V949.7H926.7V949.9H928.0V950.0H929.3V950.1H930.6V949.8H931.9V949.8H933.2V949.9H934.5V950.5H935.8V950.1H937.1V950.2H938.4V950.0H939.7V949.9H941.0V950.2H942.3V949.4H943.6V950.7H944.9V951.3H946.2V951.9H947.5V952.9H948.8V954.4V954.4H947.5V954.5H946.2V954.9H944.9V954.5H943.6V955.0H942.3V955.0H941.0V954.9H939.7V955.3H938.4V955.4H937.1V955.2H935.8V955.2H934.5V955.9H933.2V955.7H931.9V955.7H930.6V955.6H929.3V955.6H928.0V955.4H926.7V955.0H925.4V955.2H924.1V954.9H922.8V954.9H921.5V954.8H920.2V954.9H918.9V955.5H917.6V955.5H916.3V955.3H915.0V955.2H913.7V955.1H912.4V955.2H911.1V954.3H909.8V954.6H908.5V955.6H907.2V955.0H905.9V955.0H904.6V954.3H903.3V954.3H902.0V954.5H900.6V954.4H899.3V954.3H898.0V954.9H896.7V955.9H895.4V955.6H894.1V955.6H892.8V954.9H891.5V954.8H890.2V954.4H888.9V954.4H887.6V954.6H886.3V954.9H885.0V954.9H883.7V954.9H882.4V955.1H881.1V954.4H879.8V955.2H878.5V955.2H877.2V955.2H875.9V954.3H874.6V954.3H873.3V954.4H872.0V954.1H870.7V954.5H869.4V954.7H868.1V954.5H866.8V954.3H865.5V953.8H864.2V954.5H862.9V953.9H861.6V954.0H860.3V953.9H859.0V953.7H857.7V953.5H856.4V953.5H855.1V953.3H853.8V953.1H852.5V952.9H851.2V952.4H849.9V952.1H848.6V952.2H847.3V951.8H846.0V951.5H844.6V951.0H843.3V951.7H842.0V950.9H840.7V950.3H839.4V950.0H838.1V949.7H836.8V949.7H835.5V948.6H834.2V948.7H832.9V948.7H831.6V948.4H830.3V948.0H829.0V948.5H827.7V947.9H826.4V947.7H825.1V947.4H823.8V947.4H822.5V947.6H821.2V946.9H819.9V947.7H818.6V946.0H817.3V945.9H816.0V945.8H814.7V945.6H813.4V945.9H812.1V945.7H810.8V945.6H809.5V945.4H808.2V945.2H806.9V945.7H805.6V945.7H804.3V946.4H803.0V945.5H801.7V945.9H800.4V945.8H799.1V944.7H797.8V945.8H796.5V944.6H795.2V944.6H793.9V945.4H792.6V945.8H791.3V944.8H790.0V944.7H788.7V944.8H787.3V944.4H786.0V944.8H784.7V943.8H783.4V944.6H782.1V944.6H780.8V944.6H779.5V944.6H778.2V945.4H776.9V945.4H775.6V945.6H774.3V944.8H773.0V944.7H771.7V944.7H770.4V944.7H769.1V945.6H767.8V944.3H766.5V945.3H765.2V945.3H763.9V944.4H762.6V944.4H761.3V944.9H760.0Z" fill="#0000ff" fill-opacity="0.27"/>
<path d="M766.3,936.0h1.5V945.3h-1.5ZM793.8,936.8h1.5V945.6h-1.5ZM821.2,939.5h1.5V947.7h-1.5ZM848.6,945.0h1.5V952.5h-1.5ZM876.0,947.9h1.5V954.8h-1.5ZM903.4,948.9h1.5V955.2h-1.5ZM930.8,949.7h1.5V955.4h-1.5Z" fill="#0000ff" fill-opacity="0.16"/>
<path d="M760.0,938.5H761.3V938.5H762.6V938.5H763.9V938.6H765.2V938.5H766.5V938.4H767.8V938.4H769.1V938.6H770.4V939.0H771.7V939.4H773.0V939.2H774.3V938.7H775.6V938.8H776.9V938.2H778.2V938.1H779.5V938.8H780.8V938.8H782.1V938.8H783.4V938.3H784.7V938.2H786.0V938.3H787.3V938.9H788.7V938.9H790.0V939.2H791.3V938.7H792.6V938.6H793.9V939.1H795.2V938.8H796.5V938.8H797.8V939.1H799.1V938.4H800.4V939.3H801.7V939.4H803.0V939.2H804.3V939.8H805.6V939.4H806.9V939.8H808.2V939.6H809.5V940.4H810.8V940.2H812.1V940.4H813.4V940.7H814.7V941.2H816.0V941.2H817.3V940.6H818.6V940.3H819.9V941.0H821.2V940.9H822.5V942.1H823.8V942.4H825.1V942.6H826.4V942.1H827.7V942.0H829.0V942.0H830.3V943.0H831.6V943.5H832.9V943.5H834.2V943.5H835.5V943.3H836.8V944.0H838.1V944.2H839.4V944.5H840.7V944.6H842.0V945.1H843.3V945.5H844.6V945.3H846.0V946.4H847.3V946.4H848.6V946.7H849.9V947.4H851.2V947.9H852.5V947.3H853.8V948.0H855.1V948.3H856.4V948.4H857.7V948.5H859.0V948.2H860.3V948.3H861.6V949.3H862.9V949.1H864.2V949.0H865.5V949.5H866.8V949.7H868.1V950.4H869.4V950.5H870.7V950.4H872.0V949.7H873.3V949.6H874.6V949.2H875.9V949.0H877.2V949.0H878.5V949.2H879.8V948.9H881.1V949.3H882.4V949.4H883.7V949.4H885.0V949.6H886.3V949.0H887.6V949.0H888.9V949.8H890.2V949.9H891.5V950.0H892.8V949.8H894.1V949.4H895.4V949.9H896.7V950.5H898.0V950.1H899.3V950.1H900.6V950.2H902.0V950.0H903.3V950.4H904.6V950.3H905.9V950.5H907.2V950.5H908.5V950.6H909.8V950.2H911.1V950.6H912.4V950.6H913.7V950.8H915.0V950.5H916.3V950.6H917.6V950.8H918.9V951.0H920.2V950.9H921.5V951.1H922.8V950.9H924.1V951.0H925.4V951.0H926.7V951.0H928.0V950.9H929.3V950.8H930.6V951.0H931.9V950.9H933.2V951.4H934.5V951.5H935.8V951.5H937.1V951.6H938.4V951.6H939.7V951.4H941.0V951.5H942.3V951.4H943.6V951.6H944.9V952.1H946.2V952.6H947.5V953.2H948.8V954.1V954.1H947.5V953.8H946.2V953.9H944.9V953.9H943.6V954.0H942.3V954.0H941.0V954.2H939.7V954.4H938.4V954.4H937.1V953.8H935.8V953.8H934.5V953.7H933.2V954.0H931.9V954.2H930.6V954.0H929.3V953.7H928.0V953.8H926.7V954.0H925.4V953.9H924.1V953.7H922.8V954.2H921.5V954.0H920.2V953.8H918.9V953.7H917.6V953.6H916.3V953.5H915.0V953.4H913.7V953.6H912.4V953.7H911.1V953.6H909.8V953.8H908.5V953.8H907.2V953.7H905.9V953.6H904.6V953.5H903.3V953.6H902.0V953.7H900.6V953.3H899.3V953.2H898.0V953.1H896.7V952.9H895.4V952.9H894.1V952.9H892.8V953.3H891.5V953.2H890.2V953.3H888.9V952.7H887.6V953.0H886.3V953.0H885.0V953.4H883.7V952.9H882.4V952.9H881.1V952.9H879.8V953.0H878.5V953.0H877.2V953.1H875.9V952.9H874.6V953.2H873.3V953.0H872.0V953.5H870.7V953.7H869.4V954.1H868.1V953.4H866.8V953.2H865.5V952.9H864.2V953.1H862.9V952.9H861.6V952.6H860.3V952.5H859.0V952.2H857.7V952.2H856.4V952.0H855.1V952.0H853.8V951.7H852.5V952.0H851.2V950.9H849.9V950.1H848.6V949.8H847.3V950.0H846.0V950.1H844.6V949.3H843.3V948.7H842.0V949.5H840.7V948.9H839.4V948.8H838.1V948.4H836.8V947.9H835.5V947.7H834.2V947.7H832.9V947.6H831.6V946.7H830.3V945.4H829.0V946.5H827.7V946.4H826.4V945.6H825.1V945.3H823.8V945.1H822.5V945.4H821.2V945.4H819.9V944.9H818.6V944.1H817.3V944.0H816.0V944.3H814.7V945.2H813.4V944.6H812.1V944.3H810.8V943.9H809.5V943.6H808.2V943.5H806.9V943.3H805.6V943.4H804.3V943.5H803.0V943.4H801.7V942.9H800.4V942.1H799.1V943.6H797.8V943.6H796.5V942.2H795.2V942.6H793.9V943.0H792.6V943.5H791.3V943.5H790.0V943.4H788.7V942.9H787.3V942.4H786.0V942.4H784.7V942.5H783.4V942.4H782.1V942.2H780.8V942.3H779.5V942.4H778.2V942.4H776.9V942.6H775.6V942.7H774.3V942.9H773.0V942.3H771.7V943.8H770.4V942.3H769.1V943.0H767.8V942.9H766.5V942.9H765.2V942.6H763.9V942.9H762.6V943.0H761.3V942.4H760.0Z" fill="#0000ff" fill-opacity="0.44"/>
<path d="M766.3,938.2h1.5V943.2h-1.5ZM793.8,938.8h1.5V943.6h-1.5ZM821.2,941.4h1.5V945.8h-1.5ZM848.6,946.7h1.5V950.8h-1.5ZM876.0,949.4h1.5V953.3h-1.5ZM903.4,950.3h1.5V953.9h-1.5ZM930.8,950.9h1.5V954.2h-1.5Z" fill="#0000ff" fill-opacity="0.26"/>
<path d="M947.5,953.6L948.1,952.6L948.6,951.4L949.0,950.0L949.5,948.5L950.0,946.7L950.5,944.8L951.0,942.6L951.4,940.1L951.9,937.4L952.4,934.5L952.9,931.2L953.4,927.7L953.8,923.9L954.3,919.7L954.8,915.3L955.3,910.6L955.8,905.6L956.2,900.2L956.7,894.7L957.2,888.8L957.7,882.7L958.2,876.3L958.7,869.8L959.1,863.0L959.6,856.1L960.1,849.1L960.6,841.9L961.1,834.7L961.5,827.4L962.0,820.1L962.5,812.9L963.0,805.6L963.5,798.5L963.9,791.4L964.4,784.5L964.9,777.8L965.4,771.3L965.9,765.0L966.3,758.9L966.8,753.1L967.3,747.6L967.8,742.4L968.3,737.5L968.8,732.9L969.2,728.8L969.7,725.0L970.2,721.6L970.7,718.7L971.2,716.4L971.6,715.0" fill="none" stroke="#0000ff" stroke-opacity="0.3" stroke-width="3.0" stroke-linejoin="round"/>
<path d="M947.5,953.6L948.1,952.6L948.6,951.4L949.0,950.0L949.5,948.5L950.0,946.7L950.5,944.8L951.0,942.6L951.4,940.1L951.9,937.4L952.4,934.5L952.9,931.2L953.4,927.7L953.8,923.9L954.3,919.7L954.8,915.3L955.3,910.6L955.8,905.6L956.2,900.2L956.7,894.7L957.2,888.8L957.7,882.7L958.2,876.3L958.7,869.8L959.1,863.0L959.6,856.1L960.1,849.1L960.6,841.9L961.1,834.7L961.5,827.4L962.0,820.1L962.5,812.9L963.0,805.6L963.5,798.5L963.9,791.4L964.4,784.5L964.9,777.8L965.4,771.3L965.9,765.0L966.3,758.9L966.8,753.1L967.3,747.6L967.8,742.4L968.3,737.5L968.8,732.9L969.2,728.8L969.7,725.0L970.2,721.6L970.7,718.7L971.2,716.4L971.6,715.0" fill="none" stroke="#0000ff" stroke-opacity="0.45" stroke-width="1.8" stroke-linejoin="round"/>
<path d="M780.1,942.2L784.9,947.0L780.1,951.7L775.4,947.0Z" fill="none" stroke="#000" stroke-width="1.95"/>
<circle cx="779.6" cy="946.4" r="1.3" fill="#000"/>
<path d="M806.4,943.7L811.2,948.5L806.4,953.2L801.7,948.5Z" fill="none" stroke="#000" stroke-width="1.95"/>
<circle cx="805.9" cy="947.9" r="1.3" fill="#000"/>
<path d="M831.7,946.4L836.4,951.1L831.7,955.9L826.9,951.1Z" fill="none" stroke="#000" stroke-width="1.95"/>
<circle cx="831.2" cy="950.5" r="1.3" fill="#000"/>
<path d="M862.1,950.1L866.8,954.8L862.1,959.6L857.3,954.8Z" fill="none" stroke="#000" stroke-width="1.95"/>
<circle cx="861.6" cy="954.2" r="1.3" fill="#000"/>
<path d="M876.5,949.6L881.2,954.3L876.5,959.1L871.7,954.3Z" fill="none" stroke="#000" stroke-width="1.95"/>
<circle cx="876.0" cy="953.7" r="1.3" fill="#000"/>
<path d="M891.1,949.6L895.8,954.3L891.1,959.1L886.3,954.3Z" fill="none" stroke="#000" stroke-width="1.95"/>
<circle cx="890.6" cy="953.7" r="1.3" fill="#000"/>
<path d="M906.9,950.9L911.6,955.7L906.9,960.4L902.1,955.7Z" fill="none" stroke="#000" stroke-width="1.95"/>
<circle cx="906.4" cy="955.1" r="1.3" fill="#000"/>
<path d="M917.5,949.3L922.3,954.1L917.5,958.8L912.8,954.1Z" fill="none" stroke="#000" stroke-width="1.95"/>
<circle cx="917.0" cy="953.5" r="1.3" fill="#000"/>
<path d="M926.7,950.4L931.4,955.2L926.7,959.9L921.9,955.2Z" fill="none" stroke="#000" stroke-width="1.95"/>
<circle cx="926.2" cy="954.6" r="1.3" fill="#000"/>
<path d="M937.5,950.2L942.3,954.9L937.5,959.7L932.8,954.9Z" fill="none" stroke="#000" stroke-width="1.95"/>
<circle cx="937.0" cy="954.3" r="1.3" fill="#000"/>
<path d="M948.0,950.4L952.7,955.2L948.0,959.9L943.2,955.2Z" fill="none" stroke="#000" stroke-width="1.95"/>
<circle cx="947.5" cy="954.6" r="1.3" fill="#000"/>
<path d="M961.1,846.5L965.9,851.3L961.1,856.0L956.4,851.3Z" fill="none" stroke="#000" stroke-width="1.95"/>
<circle cx="960.6" cy="850.7" r="1.3" fill="#000"/>
<path d="M984.4,710.2L989.1,715.0L984.4,719.8L979.6,715.0Z" fill="none" stroke="#000" stroke-width="1.95"/>
<circle cx="983.9" cy="714.4" r="1.3" fill="#000"/>
<path d="M989.9,710.2L994.7,715.0L989.9,719.8L985.2,715.0Z" fill="none" stroke="#000" stroke-width="1.95"/>
<circle cx="989.4" cy="714.4" r="1.3" fill="#000"/>
<path d="M994.7,710.2L999.5,715.0L994.7,719.8L990.0,715.0Z" fill="none" stroke="#000" stroke-width="1.95"/>
<circle cx="994.2" cy="714.4" r="1.3" fill="#000"/>
</g>
<rect x="760.0" y="715.0" width="240.50" height="244.20" fill="none" stroke="#000" stroke-width="1.6"/>
<path d="M760.00,959.2v6.9M820.12,959.2v6.9M880.25,959.2v6.9M940.38,959.2v6.9M1000.50,959.2v6.9M760.0,959.20h-6.9M760.0,910.36h-6.9M760.0,861.52h-6.9M760.0,812.68h-6.9M760.0,763.84h-6.9M760.0,715.00h-6.9" stroke="#000" stroke-width="1.6" fill="none"/>
<g font-size="18.08">
<text x="760.00" y="985.0" text-anchor="middle">0</text>
<text x="820.12" y="985.0" text-anchor="middle">50</text>
<text x="880.25" y="985.0" text-anchor="middle">100</text>
<text x="940.38" y="985.0" text-anchor="middle">150</text>
<text x="1000.50" y="985.0" text-anchor="middle">200</text>
<text x="746.40" y="965.50" text-anchor="end" letter-spacing="-0.35">0.0</text>
<text x="746.40" y="916.66" text-anchor="end" letter-spacing="-0.35">0.2</text>
<text x="746.40" y="867.82" text-anchor="end" letter-spacing="-0.35">0.4</text>
<text x="746.40" y="818.98" text-anchor="end" letter-spacing="-0.35">0.6</text>
<text x="746.40" y="770.14" text-anchor="end" letter-spacing="-0.35">0.8</text>
<text x="746.40" y="721.30" text-anchor="end" letter-spacing="-0.35">1.0</text>
<text transform="translate(706.40,839.10) rotate(-90)" text-anchor="middle" letter-spacing="-1.3">SF</text>
<text x="879.25" y="1010.6" text-anchor="middle" letter-spacing="0.26">Depth [mm]</text>
</g>
<text transform="translate(879.95,703.80) scale(1,1.06)" font-size="21.7" text-anchor="middle">8.0 Gy</text>
</g>
</svg>
</body></html>
